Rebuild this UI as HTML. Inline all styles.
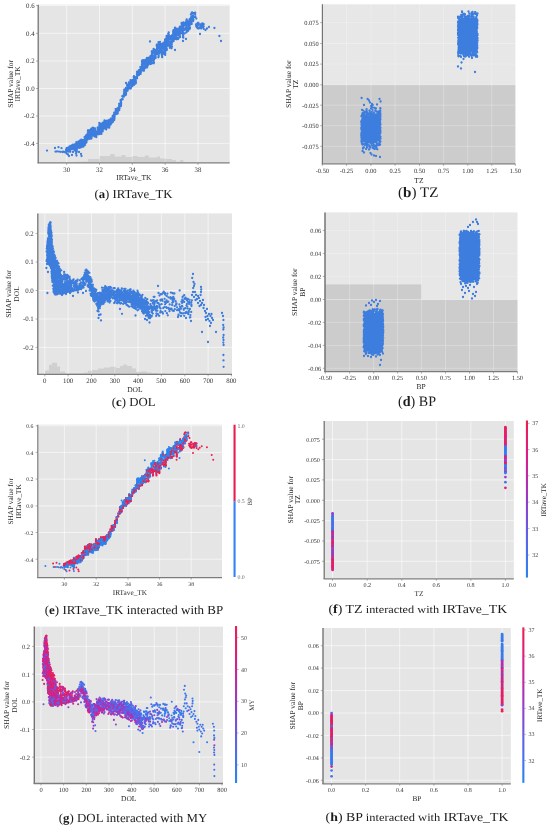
<!DOCTYPE html>
<html lang="en"><head><meta charset="utf-8"><title>SHAP dependence plots</title>
<style>html,body{margin:0;padding:0;background:#fff}body{width:550px;height:828px;overflow:hidden}svg{display:block}</style></head>
<body>
<svg width="550" height="828" viewBox="0 0 550 828" text-rendering="geometricPrecision" font-family="'Liberation Serif', 'DejaVu Serif', serif">
<defs><linearGradient id="cb" x1="0" y1="1" x2="0" y2="0"><stop offset="0" stop-color="#2686f0"/><stop offset="0.25" stop-color="#5a64eb"/><stop offset="0.5" stop-color="#963cc8"/><stop offset="0.75" stop-color="#d71e8c"/><stop offset="1" stop-color="#ee1e4e"/></linearGradient></defs>
<rect x="38.2" y="4.7" width="191.5" height="157.8" fill="#e5e5e5"/>
<path d="M66.7 4.7V162.5M99.5 4.7V162.5M132.3 4.7V162.5M165.1 4.7V162.5M198.0 4.7V162.5M38.2 5.6H229.7M38.2 33.3H229.7M38.2 61.0H229.7M38.2 88.5H229.7M38.2 116.0H229.7M38.2 143.4H229.7" stroke="#fff" stroke-opacity="0.72" stroke-width=".8" fill="none"/>
<path d="M70.0 162.5v-0.5H76.0V162.5zM76.0 162.5v-0.8H82.0V162.5zM82.0 162.5v-1.0H88.0V162.5zM88.0 162.5v-3.4H99.3V162.5zM99.3 162.5v-6.6H110.2V162.5zM110.2 162.5v-8.6H114.6V162.5zM114.6 162.5v-6.0H121.6V162.5zM121.6 162.5v-7.6H125.6V162.5zM125.6 162.5v-5.4H132.6V162.5zM132.6 162.5v-6.6H137.6V162.5zM137.6 162.5v-5.6H144.8V162.5zM144.8 162.5v-7.0H148.8V162.5zM148.8 162.5v-5.0H156.8V162.5zM156.8 162.5v-6.0H160.0V162.5zM160.0 162.5v-4.0H166.0V162.5zM166.0 162.5v-3.4H172.0V162.5zM172.0 162.5v-2.6H176.0V162.5zM176.0 162.5v-0.8H180.0V162.5zM180.0 162.5v-2.6H183.4V162.5zM183.4 162.5v-0.5H190.0V162.5z" fill="#000" fill-opacity=".09"/>
<path d="M135.9 81.2h0M120.9 101.4h0M78.4 141.6h0M96.4 134.8h0M94.9 136.2h0M86.4 141.9h0M193.1 15.3h0M101.2 124.5h0M150.5 56.1h0M145.3 67.8h0M111.1 120.7h0M68 154.5h0M88 132.9h0M148.9 60.3h0M104.1 126h0M111.2 119.3h0M185 24.5h0M183 31.3h0M145.7 66.8h0M109.5 124.6h0M107.8 122.6h0M84.5 144.6h0M162.2 57.2h0M91.2 131.1h0M89.9 137.8h0M151.9 54.4h0M117.7 113.3h0M117.5 113.6h0M189.5 27.9h0M161.8 50.2h0M84.9 142.9h0M132.5 85h0M94.5 131.2h0M66.6 151.7h0M174.9 37.5h0M109.4 120.7h0M109.6 122.4h0M87.9 134.2h0M158.9 53.5h0M98 128.3h0M115.8 111.4h0M178.3 35.1h0M117.6 112.9h0M110.9 119.9h0M201 28.2h0M158.7 45.4h0M104.5 124.5h0M164.9 48.7h0M101.1 129.8h0M152.2 56.4h0M102.5 129.9h0M68.3 148.7h0M99.7 127.7h0M183.4 29.7h0M193.1 16.8h0M106 122.7h0M109.2 126.5h0M89.6 134.9h0M106.2 127h0M142.3 60.3h0M134.2 82.6h0M183.1 23h0M135.6 77.2h0M86.2 142h0M96.3 137h0M148.7 57.8h0M81 154h0M160 49.4h0M160 51.9h0M184.6 29.6h0M79.6 143.6h0M126 94.3h0M117.4 113.6h0M137.3 75.8h0M143.8 64.3h0M158.5 53.3h0M140.5 73.2h0M135.6 83.3h0M176.8 34.2h0M189.9 28.1h0M143.8 60.7h0M192.8 13h0M173.3 38.8h0M107.9 126.4h0M98 128.5h0M94.9 129.7h0M133.9 82.9h0M153.7 48.9h0M128.8 86.8h0M55 148h0M145.3 67.5h0M76.4 142.1h0M153.5 50.9h0M166.6 36h0M99.6 132.8h0M73.1 145.3h0M153.9 58.4h0M160.5 49.2h0M168.7 34.6h0M110.8 120.9h0M168.6 33.8h0M173.3 37.8h0M183.3 37.7h0M158.5 42.2h0M130.9 83h0M97.7 131.5h0M132.1 85.6h0M96 136h0M83.1 141.5h0M101.3 133.3h0M165.1 39.6h0M109.1 121.7h0M101.2 124.9h0M171.4 43.2h0M152.2 57.7h0M139.2 72.8h0M132.3 86h0M91.6 136.4h0M193.3 19.7h0M188.4 27.4h0M130.5 80.2h0M165.3 49.3h0M126 93.5h0M112.7 121.1h0M101.3 131.8h0M152.3 52.4h0M99.5 132.6h0M96.1 131.3h0M203.5 24.2h0M158.4 54.4h0M133.7 84h0M76.4 144h0M124.1 94.6h0M193.3 20.8h0M73 144.7h0M121 103.8h0M174.9 31.7h0M117.3 113.3h0M176.8 35.1h0M91.2 131.3h0M162.1 56.5h0M183.1 27.5h0M143.8 64.3h0M76.6 145.6h0M71.6 148h0M102.7 122.9h0M144 62.4h0M145.6 59.7h0M170 46.5h0M190.3 18.7h0M183.1 29.2h0M112.5 120.6h0M61.5 148.2h0M163.4 42.9h0M191.4 19.4h0M114.1 118.2h0M106.2 129.4h0M79.7 145.1h0M178.1 30.7h0M131 80.3h0M114.1 118.5h0M166.8 38.6h0M132.5 85.6h0M171.7 40.7h0M175 36.9h0M151.9 55.2h0M110.8 123.5h0M139.1 73h0M94.3 132.8h0M130.5 82.6h0M139 74h0M127.5 90.7h0M137.1 72.9h0M110.8 120.7h0M152.2 52.7h0M168.2 34h0M111.2 122.2h0M91.5 133.8h0M81.3 140.6h0M138.7 74.7h0M112.6 118.9h0M121.1 102.9h0M183 41h0M173.3 30.7h0M117.8 108.3h0M173.6 30.1h0M79 152h0M78.2 145.8h0M193.2 16.9h0M163.2 52.5h0M173.4 36.3h0M76.4 144.4h0M76.6 147.3h0M84.8 142.7h0M112.7 116.1h0M115.8 110.7h0M76.8 149.3h0M135.8 83.2h0M96.5 133.7h0M125.8 88.4h0M150.1 62.8h0M178.2 38.4h0M134 83.9h0M88.2 131.2h0M174.8 36h0M189.7 19.2h0M127.4 84.7h0M132.1 81.4h0M160.5 49.9h0M144.1 69.6h0M183.1 36.5h0M76.8 150.5h0M184.7 23.1h0M165.2 53h0M130.6 87.7h0M69.9 148.2h0M174.7 32.5h0M92.8 129.1h0M142.1 69.1h0M170.2 36.7h0M117.7 113.6h0M108 127.4h0M71.3 147.1h0M112.6 119.9h0M166.5 44.3h0M109.1 127h0M97.8 131.1h0M68.1 149.6h0M107.5 127.2h0M99.6 127.3h0M103 123.6h0M109.7 120h0M105.9 127.4h0M193 21.2h0M89.4 130.1h0M129 82.9h0M171.9 38.9h0M181.5 32.3h0M94.7 135.8h0M174.7 29.5h0M127.7 89.5h0M180.1 31.8h0M152.1 58.4h0M89.8 137.7h0M128.9 83.9h0M183.1 37.3h0M116.1 111h0M134.1 77.5h0M134 80.6h0M117.4 108.7h0M142.5 69.6h0M164.9 53.8h0M91.6 136.2h0M188.2 30.8h0M128.8 87.6h0M188.3 26.1h0M156.7 51.6h0M117.6 111.5h0M140.8 72.3h0M166.5 43.3h0M132.2 84.3h0M121 106h0M172 46.7h0M119.2 109.7h0M153.6 51.6h0M112.8 118.4h0M127.6 85.5h0M192.8 18.8h0M186.7 19.5h0M107.9 127h0M200.4 25.1h0M119.2 110.2h0M171.8 40.3h0M67 150.2h0M103 124.1h0M69.8 146.4h0M161.6 50.1h0M162 48.8h0M127.3 88.2h0M78.4 147.3h0M114.2 112.6h0M143.8 66.9h0M155.3 58.1h0M150.5 60.3h0M103 123.5h0M191.4 19.3h0M112.6 116.4h0M123.9 95.4h0M142 65.5h0M143.7 62.7h0M185.1 28.7h0M83.1 141.8h0M79.7 145.8h0M114.5 116.4h0M94.8 133.5h0M132.1 84.3h0M81.6 141.9h0M191.7 19.3h0M127.2 85.7h0M191.3 20.7h0M156.9 50.4h0M112.7 116.5h0M92.9 128.7h0M104.2 125h0M147.2 59.2h0M106.3 127.8h0M165.3 44h0M111.3 122.7h0M91.5 137.8h0M184.7 29.8h0M114.1 120.2h0M200 24.4h0M166.6 46.8h0M94.8 128.4h0M189.7 25.2h0M186.3 29.2h0M105.9 123.5h0M203.7 24.2h0M187.9 29.3h0M86.5 140h0M84.9 144.6h0M185.1 28.5h0M142.2 63h0M87.8 133.3h0M68.6 147.8h0M171.8 42.4h0M147.3 66.9h0M186.7 25.5h0M147.2 65.2h0M183.3 22.6h0M178.3 29h0M155.3 50.9h0M155.1 51.1h0M81.7 140.4h0M133.9 85.1h0M81.3 140.9h0M152.1 54.9h0M120.7 99.8h0M200.9 27.6h0M126 92h0M81.2 145.4h0M181.6 23.5h0M105.9 125.7h0M76.6 151.2h0M155.4 57.9h0M75.1 149.4h0M112.9 121h0M158.7 55.9h0M94.5 130.5h0M120.6 103.6h0M155.4 56.5h0M158.7 47.4h0M176.4 38.4h0M122.3 96.2h0M221 41h0M91.4 136.1h0M156.9 50.1h0M168.3 43.9h0M104.3 128.3h0M168.7 45.5h0M79.7 141.7h0M102.7 131.4h0M161.9 51h0M150.5 63.9h0M91.4 131.9h0M76.6 143.3h0M98.1 129.8h0M191.4 23.6h0M162.2 44.6h0M196.9 26.2h0M112.7 118.3h0M107.6 123.6h0M179.8 34.3h0M129 88.4h0M86.2 140.8h0M91.4 138.6h0M163.5 47.7h0M47 150.6h0M76.4 148.3h0M194.7 16.9h0M76.8 146.4h0M78.2 147.7h0M160.4 47.7h0M126 88h0M81.7 143h0M133.7 81.5h0M195.2 14.1h0M109.5 125.9h0M117.6 111h0M132.3 81h0M173.5 36.3h0M134 80.8h0M167 42.7h0M114.2 119.9h0M101.2 124.6h0M152 62.8h0M173.1 34.1h0M125.6 89.6h0M170.1 37.6h0M111.1 123.6h0M107.6 125.7h0M119.5 108.5h0M156.9 44.6h0M139 72.3h0M99.8 123.3h0M104.2 127.2h0M91.1 129.4h0M198.1 28.6h0M124.1 93.8h0M102.9 125.4h0M109.3 127.6h0M194.5 13h0M180 26.6h0M202.5 24.3h0M130.5 80.7h0M150.4 58.2h0M114 116.8h0M165 44h0M163.4 44.2h0M142.1 61.9h0M78 142.6h0M139.1 72.3h0M89.4 132.9h0M171.6 38h0M97.6 129.4h0M110.8 122.1h0M142.1 65.6h0M94.8 128.9h0M81.4 143.5h0M140.5 73.5h0M66.7 148.3h0M135.5 80.5h0M148.9 59.8h0M115.8 113.8h0M86.2 141.4h0M92.8 129.1h0M191.6 22.1h0M161.6 46.2h0M197.7 25.1h0M161.7 52.9h0M127.3 84.8h0M120.9 106.1h0M183.1 28h0M190.9 14.6h0M161.8 51.3h0M189.8 23.6h0M142.5 66.3h0M133.8 77.1h0M174.9 31.8h0M160.2 45.4h0M116.2 112.7h0M183.2 23.4h0M173.3 40.3h0M174.9 32.1h0M89.5 133.5h0M138.9 73.8h0M132.5 82.7h0M125.6 94.1h0M127.6 87.7h0M137.1 71.6h0M173.2 41.3h0M168.4 35.8h0M99.5 124.3h0M88 131.8h0M101.4 125.7h0M68.4 149h0M120.9 104h0M76.5 143.3h0M139 75h0M180.2 32.6h0M83.4 146.6h0M168.7 36.8h0M178.1 39h0M158.8 52.8h0M62.5 152h0M100.9 128.5h0M89.5 138.7h0M202.6 23.5h0M109.6 122.2h0M66.4 151.2h0M114.1 120.1h0M132.2 85.8h0M97.7 132.3h0M119.2 104.2h0M151.9 51.3h0M99.3 134.2h0M173.5 34.4h0M91.6 135.6h0M128.8 87.4h0M168.7 35.5h0M93.1 134.2h0M66.5 150.4h0M87.9 132.6h0M96.1 135.8h0M89.6 133.6h0M122.8 96.4h0M127.7 84.9h0M104.2 125.9h0M135.9 82.9h0M143.9 63.9h0M81.3 139.7h0M191.5 21.6h0M138.6 74h0M112.6 117.6h0M160.2 52.6h0M114.2 114.3h0M70.2 151h0M181.5 29h0M155.2 50h0M182.9 30.3h0M76.5 144.2h0M188.3 23.4h0M143.9 70.8h0M86.3 139.4h0M73.2 146.6h0M129.3 83.2h0M160.5 43.9h0M94.7 130.9h0M125.6 92.3h0M175 27.7h0M76.3 151.2h0M99.2 133h0M219.4 36h0M178.6 31.6h0M190 28h0M188 31h0M128.8 87.1h0M163.5 46.8h0M106 128.6h0M115.7 109.1h0M179.7 27.1h0M143.6 70h0M107.4 122.3h0M111 118.8h0M99.8 128.6h0M145.5 61.5h0M134.3 80.5h0M150 41.5h0M106 122.9h0M209 27h0M94.5 130.3h0M92.8 135.4h0M155.3 51.5h0M93.2 128.5h0M191.7 20.1h0M161.9 47.5h0M110.8 120.3h0M119.4 104.1h0M124.2 91.8h0M99.3 131.6h0M102.7 130.4h0M199.9 28.2h0M145.7 60.8h0M104.7 121.6h0M74.8 146.6h0M115.8 109.6h0M183.4 30h0M110.9 119h0M107.6 122.8h0M172 38.7h0M112.6 119.6h0M78.4 143.9h0M76.8 150.4h0M149 63.6h0M87.9 139.1h0M163.6 53.8h0M186.4 21.2h0M84.9 138.8h0M122.6 96.6h0M145.3 67.1h0M123.9 96.7h0M119.2 106.8h0M147.2 61.1h0M178.3 34.3h0M158.3 51.6h0M166.6 36.3h0M135.5 79.1h0M134.1 76.9h0M137.1 76.7h0M161.7 54.6h0M94.4 131.3h0M107.8 126.5h0M150.5 64.1h0M193 15.8h0M158.9 52.8h0M124.2 96.1h0M160 44h0M189.8 28.8h0M106.1 122.8h0M88.3 137.9h0M181.5 30.4h0M186.4 32.4h0M180 28.1h0M130.4 87.7h0M176.6 35.4h0M109.1 127.5h0M155.5 56.2h0M68.4 147.5h0M174.8 35h0M173.2 40.1h0M183.5 23.4h0M98.1 133.9h0M144 63.6h0M162 52.4h0M178.1 38.3h0M135.5 80.6h0M96.2 134.5h0M138.8 72h0M119.3 110.1h0M86.4 141.4h0M93.2 133.6h0M169.9 41.3h0M70.2 147.7h0M88.1 138.9h0M183.3 24.5h0M94.9 133.4h0M175.2 36.5h0M158.8 43.8h0M148.8 63.3h0M73.5 147.9h0M119.3 108.3h0M129.1 85.3h0M148.9 59.2h0M176.4 30.9h0M92.8 134.2h0M195.1 12.7h0M132.1 85.1h0M139.1 74.4h0M142 68.2h0M173.2 31.4h0M70.1 146.4h0M87.9 130.5h0M143.6 63.1h0M153.9 62.6h0M171.5 46.3h0M104.5 124.2h0M163.7 48.9h0M142.3 65.8h0M84.8 145.2h0M192.9 16.7h0M202.5 26.2h0M91.3 136h0M203.7 26.6h0M83 143.3h0M124 94h0M103.1 127.8h0M191.3 17h0M89.6 132.5h0M130.6 81.9h0M135.6 80.6h0M109.2 120h0M103.1 128.6h0M88.3 136.9h0M78.3 147.2h0M129.4 83.8h0M186.3 27.4h0M99.4 131.6h0M121 100.3h0M133.9 82.6h0M153.7 50h0M81.5 146.1h0M99.3 122.9h0M112.6 121.1h0M158.4 57.3h0M134.2 84.4h0M123.8 94.3h0M170 42h0M191.5 17.2h0M107.8 125.1h0M186.8 24.9h0M179.9 36.2h0M153.4 56.1h0M140.6 70.3h0M192.2 16.8h0M135.4 79h0M163.3 45.7h0M176.8 35.2h0M170 47h0M130.5 88.4h0M141.9 64.6h0M117.6 109.5h0M74.7 149.2h0M171.8 44.3h0M91.4 128.8h0M183.2 36h0M150.5 64.1h0M171.5 48.3h0M130.7 82.6h0M161.8 44.8h0M109.4 122.9h0M70 149.4h0M79.8 147.8h0M153.5 58.3h0M193.2 15.2h0M175.2 29.5h0M102.7 127.1h0M76.8 145.6h0M60.5 151.8h0M176.8 32.9h0M171.5 36h0M163.4 45.3h0M133.7 77.1h0M96.1 131.9h0M166.7 49.3h0M148.6 61h0M92.9 132.9h0M101.2 133.5h0M196.4 24.5h0M125.9 91.2h0M117.7 113.3h0M186.6 27.9h0M75.1 148.7h0M104.2 128.6h0M178.2 33.7h0M97.7 129.8h0M178.2 37.6h0M168.3 39.7h0M214.4 28h0M76.5 147.9h0M74.7 147.5h0M124.3 91.7h0M107.4 120.8h0M102.6 128.1h0M148.8 57.8h0M143.9 61.2h0M106.4 125h0M143.7 69.8h0M156.9 50.7h0M93.2 128.5h0M84.9 144.4h0M161.9 52.5h0M158.6 56.2h0M88.3 135.7h0M135.6 78.8h0M186.8 29.9h0M79.6 145.6h0M132.2 81.4h0M165.3 51.4h0M142.4 65.6h0M156.7 49.9h0M91.2 138.5h0M181.7 25h0M160.3 47.7h0M152.2 52h0M130.8 82.7h0M91.2 128.9h0M122.7 99.3h0M106.3 124.7h0M181.8 25.9h0M98 127.6h0M148.6 64.3h0M163.7 53.6h0M172 40.4h0M122.7 96.6h0M120.7 102.5h0M94.8 128.5h0M102.8 127.8h0M165 50.3h0M73 146.5h0M196 24.4h0M147 58.1h0M89.5 135.8h0M117.6 108.2h0M129.3 86.8h0M193.2 19.4h0M83 140.1h0M83.1 145.1h0M114.3 118h0M171.9 40.5h0M119.1 103.9h0M122.3 99.3h0M156.9 54.1h0M180.1 37.1h0M153.4 60.4h0M105.9 128.6h0M176.4 29.2h0M132 86.3h0M180.2 28.4h0M128.9 86.3h0M69.9 148.4h0M142 65.7h0M124.3 89.7h0M174.9 31h0M107.6 126.4h0M143.8 70.7h0M169.9 45.5h0M130.8 84.8h0M130.9 83.1h0M126 92.8h0M147.1 64.6h0M183 37.3h0M135.5 80.6h0M186.6 28.6h0M155.3 53.9h0M187.9 31.1h0M181.4 31.8h0M68.1 148.2h0M79.5 144.6h0M101.2 126.4h0M58.5 147.2h0M129.3 82.6h0M160.4 44.1h0M76.7 143.5h0M114.2 115.4h0M86.7 136.5h0M147 57.9h0M170.4 36.7h0M191.5 16.8h0M82.9 144h0M143.8 68.9h0M173.6 36.4h0M74.9 150.5h0M76.7 151.9h0M142.1 61.5h0M151.8 54.8h0M93.1 131.5h0M86.7 138.4h0M68.5 150.6h0M122.2 99.3h0M174.8 39.2h0M143.7 62h0M99.7 132.9h0M201.5 27h0M80 141.2h0M126 90.3h0M71.6 147h0M129.3 83.8h0M109.2 125.9h0M176.7 34.3h0M176.7 38.4h0M145.6 62.5h0M104.7 126.8h0M106.2 120.8h0M155.4 51.1h0M92.9 130.4h0M153.9 53.2h0M129.3 87.9h0M153.9 59.9h0M191.5 24h0M173.4 36.5h0M71.4 148.1h0M141.9 61.3h0M73.1 149.1h0M163.3 44.7h0M132.4 80.2h0M81.5 141h0M89.5 131.7h0M153.7 62.8h0M202.1 25.1h0M92.8 130.3h0M89.5 134.1h0M155.3 54.7h0M140.6 70.5h0M179.7 31.1h0M91.3 134.6h0M92.9 129.1h0M94.9 128.4h0M147.3 61.1h0M144 63.9h0M146.9 63.5h0M102.6 129.2h0M156.7 45.8h0M143.7 61.9h0M183.3 30.7h0M181.3 32.1h0M146.9 65.3h0M68.1 150.5h0M68.4 151.5h0M143.7 60.4h0M142.1 70.5h0M120.9 106.2h0M89.9 134.4h0M81.4 142.3h0M86.3 136.5h0M134 76.2h0M133.8 76.9h0M135.5 81.5h0M121 101.1h0M76.7 149.6h0M81.6 144.5h0M132.3 82h0M180.1 27.7h0M129.2 83h0M74.9 149.2h0M167 41.3h0M89.9 136.7h0M196.3 18.5h0M124.3 90.2h0M99.8 124.1h0M107.5 126.8h0M112.8 122h0M160.1 45.3h0M160.4 51.9h0M203.1 27.3h0M111.3 123.2h0M140.7 69.6h0M134.2 84.6h0M117.6 113.4h0M171.9 46.4h0M138.8 71.3h0M173.2 37.4h0M73.5 147.5h0M143.6 62.9h0M151.7 63.5h0M184.8 25.1h0M173.4 37.4h0M145.2 63.9h0M169.9 44.9h0M174.9 33.5h0M135.4 77.9h0M85 142.7h0M125.5 95.2h0M197.8 22.9h0M152.2 51.6h0M87.8 138.1h0M114.2 117.4h0M84.6 137.2h0M147 61.7h0M109.2 127.3h0M202.3 24.8h0M91 137h0M140.6 67.4h0M114.2 113.8h0M78.4 144.4h0M96.1 134.1h0M98.1 131.1h0M147 64.7h0M127.2 84.9h0M76 153.5h0M119.4 106.4h0M189.5 24h0M121.1 103.9h0M179.9 36.9h0M130.8 81.4h0M176.6 34.3h0M93.1 129.8h0M101.1 125.9h0M190 23.1h0M176.6 28.7h0M94.5 134.2h0M164.9 52h0M142.2 62.2h0M111.2 121.7h0M161.7 47.6h0M103.1 124.5h0M110.9 119.9h0M160.1 50.7h0M74.8 148.7h0M116.1 114.1h0M99.3 132.3h0M114.3 117.4h0M99.7 128.4h0M135.6 81.2h0M153.8 51.3h0M169.9 44.2h0M69.8 148.4h0M78.1 144.4h0M89.5 138.1h0M186.4 20.5h0M86.5 141h0M116.1 110.6h0M189.5 21.4h0M166.5 37.9h0M96.2 131.9h0M125.8 90.7h0M104.4 122.4h0M117.6 108.7h0M163.6 45.1h0M153.9 59.3h0M121 103.6h0M176.4 35.5h0M96.2 135.3h0M158.6 56.6h0M148.5 64.3h0M165.1 47.5h0M167 37.2h0M97.8 131.3h0M188.3 29.3h0M107.9 122h0M181.3 26.9h0M76.5 146.1h0M99.3 130.1h0M143.6 69.3h0M127.2 90.7h0M184.7 33.3h0M140.8 70.2h0M103.1 128.2h0M83.1 141.9h0M188.3 21.3h0M116.1 112.6h0M81.5 156h0M188.4 30.3h0M166.9 49.6h0M119.4 105.3h0M94.3 128.7h0M102.5 122.9h0M156.8 44.8h0M66.6 148.6h0M137 73.9h0M129 84h0M197.8 24.9h0M117.3 111.8h0M84.9 139.2h0M102.7 128.3h0M119.2 107.4h0M114.2 117.9h0M173.5 33.7h0M124.2 91.9h0M120.9 102.2h0M75.1 149h0M130.8 82h0M175.1 37.2h0M89.4 138.3h0M106.2 125.9h0M144 63.4h0M96.3 135.4h0M165.1 49.8h0M158.3 45.8h0M116 112.7h0M88.3 135.3h0M140.5 70.8h0M119 110.4h0M134.3 78h0M94.5 136.4h0M173.5 34.6h0M145.6 62.6h0M79.8 141.1h0M155.1 55h0M150.3 60.9h0M167.1 43.3h0M143.7 64.3h0M104.4 122.6h0M135.3 81.3h0M86.4 142.5h0M112.8 121.6h0M126 89.2h0M166.8 45.6h0M132.4 81.6h0M162 55.6h0M203.7 28.8h0M110.8 120.9h0M79.8 141.1h0M110.8 119.7h0M70.1 146.9h0M188.2 28.2h0M133.9 77.2h0M76.6 144.6h0M165.2 48.5h0M130.5 82.5h0M107.5 120.7h0M91.2 133.6h0M101.4 125.4h0M105.8 123.8h0M165.2 54.9h0M137 75.1h0M81.4 142h0M147 59.7h0M132.6 83.5h0M153.5 60.5h0M92.9 127.7h0M78.2 146.5h0M115.9 111.5h0M89.5 135h0M89.7 133.3h0M91.3 134.9h0M132.2 84h0M165.2 47.8h0M87.7 137.3h0M183.4 25.6h0M106.3 127h0M89.6 130.4h0M127.1 90.9h0M153.5 53.3h0M137.2 75.1h0M106.4 127.4h0M91.2 129h0M66.6 148.2h0M183.1 35.6h0M93.2 133.4h0M150.7 62.2h0M71.9 148.4h0M131 87.9h0M193.3 19.2h0M94.8 134.4h0M130.5 87.5h0M153.6 51.6h0M153.8 52.6h0M165.2 53.8h0M107.5 121.2h0M137 73.7h0M114.2 118.4h0M99.8 127.9h0M153.9 53.6h0M98.1 127.7h0M101.1 128.4h0M155.6 58h0M186.3 22.3h0M145.5 62.4h0M126 93.8h0M200.2 26.9h0M80.1 142.2h0M102.7 129.7h0M156.7 54.1h0M122.7 99.2h0M70 149.6h0M92.7 129.6h0M71.8 148.9h0M183.5 22.4h0M80.1 143.5h0M97.8 129.1h0M114.1 118.7h0M112.9 116.7h0M98.1 130.4h0M89.6 138.6h0M133.9 84.7h0M161.8 44h0M75.1 150.6h0M100.9 130.2h0M135.7 77.9h0M81.4 139.8h0M171.6 43.7h0M199.8 28h0M101.3 125.7h0M96.2 135.1h0M124.4 95.3h0M76.7 142.9h0M115.8 114.3h0M127.5 86.2h0M91.4 136.9h0M124.1 90.1h0M89.5 132.3h0M143.9 70.8h0M102.8 125.8h0M169.8 47.8h0M73.1 144.9h0M186.8 19.9h0M71.9 148.8h0M146.9 66.8h0M68.3 150.9h0M191.5 13.2h0M173.6 32.6h0M73 152h0M142.3 68.9h0M140.6 73.9h0M87.9 138.2h0M158.6 54.4h0M158.8 48.2h0M109.4 120.9h0M99.5 124.5h0M187.9 31.1h0M114.5 118.8h0M137.5 75.5h0M196.8 27.4h0M89.6 131.3h0M165.2 44.1h0M138.8 71.6h0M192.1 12.5h0M140.7 70.5h0M81.3 143.3h0M176.9 33.3h0M201.5 27.1h0M114.3 116.7h0M165.3 48.5h0M94.8 130.4h0M147.2 60h0M104.1 123.4h0M78.3 144.7h0M148.6 62.7h0M134.1 77.8h0M78.3 144.4h0M63.5 151.6h0M125.5 91.9h0M155.3 54.9h0M101.1 130.6h0M142 66.9h0M101.2 127.8h0M145.7 63.8h0M207 28.5h0M163.4 46.1h0M153.6 57h0M188 24.3h0M171.4 44.3h0M138.9 71.6h0M135.4 83.5h0M122.2 98.9h0M107.5 124.8h0M166.6 38.5h0M66 150h0M168.6 36.6h0M78.2 144.6h0M186.5 26h0M132.4 83.2h0M171.6 40.8h0M94.3 134.5h0M142.4 62h0M142.5 66.9h0M86.5 136.7h0M129.3 88h0M83.1 140.2h0M143.6 60.1h0M153.6 61.2h0M137.5 74.3h0M86.1 135.3h0M86.4 136h0M142.2 67.3h0M168.5 34.7h0M140.8 68.2h0M186.7 23.9h0M109.5 125.3h0M103 126.5h0M161.6 51.5h0M125.9 94.7h0M84.5 141.8h0M76.4 144.6h0M178.5 38.3h0M168.7 35.6h0M185.1 22.9h0M104.5 122.1h0M124.1 94.5h0M190 22.5h0M101.1 125.1h0M55.5 151.6h0M101.3 132.1h0M73.6 147.2h0M125.6 92.1h0M111 122.9h0M59 151.6h0M168.3 36.3h0M86.3 139h0M146.9 67.5h0M168.5 36.8h0M124.1 94.3h0M124.4 95.6h0M191.7 23.9h0M124.3 95.6h0M189.9 27.8h0M168.3 43.7h0M152 60.6h0M124 94.9h0M201.8 23.6h0M89.8 138.8h0M107.5 122h0M70.3 151h0M176.5 29h0M77.9 145.6h0M78.5 142.5h0M101.4 133.9h0M158.8 44.7h0M155.2 51.6h0M81.2 146.1h0M106.3 127.1h0M125.9 90.4h0M78 144.8h0M83.3 142.7h0M142 69.7h0M91.1 130.3h0M76.3 143.3h0M94.4 128.7h0M181.3 33.2h0M114 115.6h0M158.4 50.7h0M93.2 131.4h0M168.3 45.5h0M80 142.5h0M97.7 128.4h0M68.5 148.6h0M109.4 124.2h0M117.7 112h0M121 105.1h0M184.8 28.9h0M193.1 17.7h0M186 39h0M127.6 87.3h0M173.6 31.1h0M188.3 29.8h0M116.1 109.4h0M171.8 40.1h0M139 70.1h0M82.8 142.2h0M135.7 82.4h0M94.5 130.5h0M160 42h0M128.8 84h0M112.5 118.5h0M106 127.8h0M84.8 144.6h0M94.8 134.7h0M135.7 83.4h0M108 124.1h0M145.2 65.9h0M175.1 38.6h0M86.2 142.7h0M153.9 62.9h0M91.2 138.6h0M80.1 144.7h0M124 96.6h0M80.1 146.5h0M70.1 150h0M150.2 61.2h0M80 141.8h0M78 143.9h0M81.5 146.8h0M112.6 120.3h0M127.4 90.6h0M79.7 142h0M161.9 49.1h0M79.8 140.7h0M184.6 25.6h0M57 151.4h0M163.6 52.4h0M106.3 126.4h0M191.5 20h0M83.4 142.2h0M189.5 19.5h0M105.8 123.1h0M64.5 152.2h0M104.2 125.2h0M127.5 90.1h0M109.2 127.7h0M92.7 135.4h0M163.4 51.4h0M133.9 79.9h0M163.6 46.1h0M94.6 132.3h0M184.8 25.1h0M76.5 155.5h0M106.2 126.7h0M70.2 148.9h0M111.1 122.8h0M101.3 131.8h0M99.5 129.1h0M183.2 34.8h0M176.6 33.9h0M165 51.3h0M191.1 17.7h0M174.8 31.6h0M104.5 123.4h0M151.9 57.3h0M176.4 36.8h0M76.8 146.3h0M150.3 56.6h0M99.3 125.4h0M189.6 21.4h0M137.1 78.3h0M88.3 132.8h0M180.1 32.9h0M77.9 142.3h0M124.2 92.7h0M118.9 108.9h0M164.9 41.2h0M132.1 82.7h0M114.6 116.5h0M74.8 145.6h0M84.9 143.8h0M92.9 134.8h0M150.6 62.7h0M81.2 140.9h0M119.4 106.2h0M176.6 39.3h0M66.5 149.6h0M117.4 112.3h0M120.8 100.3h0M151.9 53.1h0M102.8 128.3h0M119.1 109.7h0M70.2 151.8h0M196.1 26.1h0M130.6 88.5h0M189.7 24.1h0M106 121.2h0M176.9 37.6h0M115.7 110.4h0M165.1 39.4h0M140.3 67.1h0M170.1 39h0M170.2 46.5h0M181.4 29.2h0M135.4 79.9h0M93.3 135.1h0M83 140.4h0M125.8 89.1h0M115.6 109.1h0M73.1 146.1h0M121 102.8h0M112.8 120.1h0M105.8 122.9h0M189.5 26.3h0M106.1 123.2h0M135.9 78.7h0M110.8 124.4h0M163.6 44.9h0M94.4 134.5h0M175 50h0M133.8 83.5h0M89.4 132h0M173.6 41.1h0M171.9 47.1h0M73.3 145.2h0M78.2 146.3h0M71.7 146.4h0M81.2 141.2h0M99.4 127.7h0M168.4 41.1h0M157 46.7h0M163.3 43.4h0M130.6 83.6h0M137.1 74.8h0M127.5 86.7h0M146.8 64.9h0M189.8 21.6h0M184.9 28.7h0M72 155h0M86.7 135h0M76.7 145.4h0M79.9 141.2h0M81.5 141.5h0M68.4 149.3h0M97.7 132.9h0M117.5 110.5h0M157 44.6h0M162 53.9h0M143.6 70.1h0M91.1 131.4h0M110.8 119.1h0M114.1 117.8h0M112.8 120h0M107.9 125h0M124.1 95.3h0M83.1 141.2h0M84.9 143.3h0M104.5 120.5h0M81.2 140.6h0M183 34.8h0M173.4 35.7h0M120.7 102.6h0M146.9 60.3h0M151.8 51.4h0M190 27.6h0M163.8 46.5h0M86.3 140.2h0M134 80.9h0M171.8 39.5h0M99.8 125.2h0M168.6 45.4h0M88 133.8h0M69 156h0M137.3 74.7h0M145.2 63.2h0M96.1 133h0M71.7 145.4h0M99.3 134h0M188.3 21.6h0M188.1 29.2h0M171.5 44.3h0M129.2 86.6h0M137.5 72.8h0M110.8 118.7h0M163.5 52.5h0M152 55.3h0M171.5 38.8h0M76.6 147.3h0M176.9 38.3h0M81.4 142.2h0M150.1 59.3h0M160 52h0M197.8 28h0M164.9 41.7h0M155.4 53.4h0M144.1 63.2h0M81.6 147.2h0M168.6 41.4h0M153.5 49.4h0M202.2 24.8h0M79.7 140.9h0M66.9 148.5h0M184.8 24.7h0M145.3 63.3h0M84.8 137.5h0M188 24.8h0M126 83h0M163.8 45.8h0M92.9 128.8h0M148.6 58.4h0M91.6 131.3h0M96.5 134.2h0M83.2 144.9h0M191.6 18.3h0M84.8 143.2h0M140.6 73h0M70.2 146.6h0M138.9 73.7h0M91.3 135.9h0M76.5 148.6h0M107.5 120.7h0M130.9 80.7h0M157 52.3h0M167 39.5h0M153.7 58.2h0M198.2 25.3h0M172 35.4h0M100.9 128.3h0M104.3 125.5h0M128.9 82.5h0M76.3 151.8h0M138.9 74.1h0M74.8 144.4h0M66.7 148.2h0M186.7 31.5h0M83 140.7h0M104.3 121.6h0M74.6 146h0M168.7 34.7h0M183.3 29.4h0M167.1 39.3h0M101 133.8h0M155.6 57h0M127.5 87.1h0M66.5 149.2h0M102.6 124h0M102.8 127.2h0M176.7 37.4h0M198.4 22.9h0M125.8 91.3h0M161.9 48.4h0M143.7 70.1h0M87.7 134.8h0M91.4 128.7h0M162 48h0M140.8 72.7h0M174.9 35.9h0M138.8 74.1h0M168.7 37.8h0M180.1 26.9h0M104.2 123.5h0M179.8 35.3h0M171.7 43h0M168.7 32.4h0M128.8 85.5h0M94.5 135h0M138.9 70.3h0M76.8 147.1h0M180 33.9h0M181.4 33.1h0M157.1 49.1h0M79.8 144.3h0M134.1 79.1h0M178.1 32h0M174.8 35.5h0M167.1 41.3h0M158.5 53.7h0M157 48.5h0M137.2 75.4h0M133.8 79.1h0M97.8 134.2h0M88 139.3h0M160.2 45.2h0M84.5 144.6h0M84.7 136.9h0M125.6 89.1h0M203.2 25.4h0M99.8 123.8h0M104.7 127.2h0M68.2 150.1h0M202.9 26h0M166.9 41h0M142.2 64h0M139 73h0M153.6 63.3h0M165 46.2h0M119.2 107.6h0M116.1 109.8h0M80.1 146.3h0M150.6 56.9h0M157.2 50.3h0M99.6 130.6h0M76.5 143.8h0M138.9 74.1h0M81.4 146.1h0M68.2 150h0M73.2 144.9h0M125.9 93.6h0M200 34h0M158.8 43.9h0M181.5 30.9h0M99.6 132h0M86.5 140.2h0M201.8 24.7h0M89.4 134.4h0M89.5 131.6h0M191.2 20.7h0M92.7 127.8h0M125.8 88.8h0M181.9 27h0M183 24.1h0M189.9 23.4h0M133.8 81.3h0M147.4 65.9h0M109.5 121.6h0M178 34.6h0M97.9 131.7h0M71.5 147.4h0M170 37.5h0M205.5 30h0M201.2 28.4h0M99.5 133.8h0M127.6 90.7h0M145.3 62.3h0M106.3 127.4h0M155.5 57.4h0M148.5 64.5h0M86.1 136h0M89.8 132.4h0M140.5 71h0M115.8 111.2h0M119.3 106.2h0M81.6 143.9h0M142.4 63.5h0M140.8 69.1h0M195.3 16.5h0M123.9 95.9h0M91.3 131.4h0M84.5 139.4h0M119.1 105.9h0M84.5 140.2h0M189.7 20.7h0M66.5 153.5h0M180 29.8h0M73 149.2h0M132.3 85h0M197.7 27.5h0M175.1 31.6h0M94.4 132.2h0M201.9 25.8h0M76.7 151.8h0M84.8 141.9h0M112.9 115.6h0M121.1 102.7h0M114.5 117.3h0M166.8 49.9h0M155.1 51.4h0M92.7 132.9h0M164.9 51.2h0M120.6 102.3h0M153.7 56.3h0M107.6 121.5h0M150.3 57.7h0M165.1 50.8h0M185 29.5h0M179.9 33.7h0M166.5 45.5h0M70 151.1h0M132.2 80.7h0M99.4 129.1h0M120.6 100.4h0M78.2 147.7h0M70.1 146.2h0M179.8 28.5h0M163.8 49.3h0M181.7 22.9h0M183 32.4h0M71.5 147.8h0M191.7 16.6h0M185 25.4h0M112.6 120h0M176.8 37.8h0M186.6 21.4h0M155 56.8h0M99.3 122.8h0M107.8 125.8h0M189.7 28.2h0M97.8 128.5h0M183 23.4h0M176.4 36.6h0M193 19.8h0M97.6 127.7h0M189.6 28.7h0M134.2 80.8h0M70 147.1h0M147 62.8h0M183.1 34h0M80.1 145.2h0M97.7 128.5h0M188.3 22.9h0M109.3 123.4h0M92.9 135.3h0M129.3 88.1h0M86.4 138.6h0M97.6 129.2h0M163.3 48.1h0M119.1 107.4h0M98.2 131.4h0M137.3 74.5h0M163.5 44.9h0M178.2 29h0M173.2 32.8h0M137.1 76.3h0M133.7 76.9h0M90 133.9h0M156.8 50.6h0M140.3 69.4h0M166.7 48.7h0M80.1 141.3h0M106.1 127.4h0M169.9 41.9h0M117.6 112.6h0M150.7 60h0M124.1 96h0M201.3 25.2h0M76.3 146.5h0M171.7 40.7h0M100.9 127.6h0M130.5 84.3h0M160.4 49.6h0M145.3 64.9h0" stroke="#3c7ddd" stroke-width="2.3" stroke-linecap="round" fill="none"/>
<path d="M38.2 4.7V163.2" stroke="#747474" stroke-width="1.3" fill="none"/>
<path d="M37.6 162.9H229.7" stroke="#7c7c7c" stroke-width="1.3" fill="none"/>
<path d="M66.7 163.0v1.9M99.5 163.0v1.9M132.3 163.0v1.9M165.1 163.0v1.9M198.0 163.0v1.9M38.2 5.6h-2.2M38.2 33.3h-2.2M38.2 61.0h-2.2M38.2 88.5h-2.2M38.2 116.0h-2.2M38.2 143.4h-2.2" stroke="#747474" stroke-width=".55" fill="none"/>
<g font-size="6.85" fill="#333333">
<g text-anchor="middle">
<text x="66.7" y="171.5">30</text>
<text x="99.5" y="171.5">32</text>
<text x="132.3" y="171.5">34</text>
<text x="165.1" y="171.5">36</text>
<text x="198.0" y="171.5">38</text>
</g><g text-anchor="end">
<text x="34.6" y="7.9">0.6</text>
<text x="34.6" y="35.6">0.4</text>
<text x="34.6" y="63.3">0.2</text>
<text x="34.6" y="90.8">0.0</text>
<text x="34.6" y="118.3">-0.2</text>
<text x="34.6" y="145.7">-0.4</text>
</g></g>
<g font-size="7.5" fill="#2a2a2a" text-anchor="middle">
<text x="133.9" y="180.2" font-size="7.5">IRTave_TK</text>
<text transform="translate(12.9 83.9) rotate(-90)">SHAP value for</text>
<text transform="translate(20.4 83.9) rotate(-90)">IRTave_TK</text>
</g>
<rect x="322.4" y="4.3" width="193.0" height="80.5" fill="#e7e7e7"/>
<rect x="322.4" y="84.8" width="193.0" height="78.7" fill="#cccccc"/>
<path d="M346.5 4.3V163.5M370.9 4.3V163.5M395.1 4.3V163.5M419.5 4.3V163.5M443.6 4.3V163.5M467.8 4.3V163.5M491.8 4.3V163.5M322.4 22.6H515.4M322.4 43.5H515.4M322.4 64.1H515.4M322.4 84.8H515.4M322.4 105.2H515.4M322.4 125.7H515.4M322.4 146.3H515.4" stroke="#fff" stroke-opacity="0.32" stroke-width=".8" fill="none"/>
<rect x="361.9" y="117.5" width="18.0" height="23.5" fill="#3c7ddd"/>
<path d="M377.6 118.2h0M370.9 119.9h0M363.3 118h0M364.8 135.7h0M373.2 140.8h0M364.8 137.4h0M365.2 132.2h0M367.7 125.1h0M380.4 130.8h0M375.5 116.7h0M375.6 131.6h0M371.4 114.8h0M371.1 142.4h0M373.1 124.6h0M374.1 120.4h0M377.3 129.1h0M368.8 126.8h0M369.3 126.1h0M366.8 135.9h0M362.6 127.8h0M369.3 136.5h0M372 130.1h0M377.4 149.3h0M364.6 134h0M363.3 115.1h0M365.7 132.9h0M375.5 129.9h0M376.7 139.4h0M363.2 127.3h0M368.3 130.1h0M376.5 134.6h0M370.5 132.5h0M377.4 125.7h0M380.3 137.2h0M377 127.2h0M378.2 124.9h0M374.3 123.6h0M376.9 130.2h0M365.8 144.8h0M364.5 126.5h0M374.3 145.1h0M362.4 122.6h0M379.7 136.8h0M375.4 136.5h0M370.3 117.9h0M377.5 123.3h0M369.7 110.5h0M370.4 132.2h0M369.9 141.4h0M361.5 127.6h0M369.2 123h0M362.2 131.5h0M376.9 121.3h0M367.5 133.1h0M372.9 127.8h0M376.5 116.8h0M366.7 132h0M362 125.3h0M366.9 126h0M378.7 127h0M366.5 121.2h0M376.4 133.7h0M377.8 118.4h0M364.4 127.8h0M376.4 147.1h0M375.5 130.8h0M363.1 132.1h0M365 118.4h0M372.8 127.3h0M369.1 123.8h0M368.1 141.9h0M363.7 121.8h0M362 116.5h0M370.5 125h0M375.6 133.3h0M379 134.6h0M371.2 135h0M379.4 133.4h0M364.3 140.8h0M375.8 118.8h0M369.2 127.4h0M371.1 126.3h0M369.1 130.5h0M361.4 133.3h0M366.5 123.1h0M371.3 137.6h0M368.7 136.2h0M374.4 122.3h0M377.2 131.8h0M378.7 125.5h0M378.5 133.4h0M367.7 125.6h0M376.5 124.2h0M373.5 134.3h0M372.4 133h0M377.2 134.5h0M367.2 118.4h0M377.7 120.3h0M366.7 119.6h0M372.3 120.6h0M379.4 124.8h0M369.8 136.6h0M365.7 131.8h0M374.9 136.9h0M370.2 131.8h0M369.3 141.9h0M372.7 107.4h0M365.3 116.6h0M373.5 126.4h0M378.8 132.9h0M363.5 135h0M371.4 131.1h0M377.2 131.1h0M369 124.2h0M379.3 116.9h0M379.4 125.8h0M379.7 140h0M376.4 127.1h0M367.3 118h0M364.3 123.1h0M361.3 122h0M379.2 130.3h0M370.9 134.1h0M363.1 128h0M371.9 137.4h0M365.5 128.3h0M369.3 129.1h0M377.2 133.9h0M369.7 125.4h0M371.1 123.5h0M367.5 135.7h0M378.3 117.1h0M369.3 119.1h0M371.3 124.2h0M378.2 126h0M361.4 129.8h0M366.1 131.7h0M368.8 120.6h0M380.2 136.3h0M365.8 112h0M366 121.3h0M374.9 127.7h0M367.4 128.3h0M377.5 126.2h0M365.2 118.2h0M369.2 119.3h0M372.1 127.7h0M369.4 128.1h0M374.8 131.1h0M380.3 114.2h0M373.1 136.5h0M378.8 129.5h0M376.9 122.1h0M370.7 142.4h0M374.1 123.8h0M377.5 114.7h0M362.3 144h0M372.6 134.4h0M377.5 121.7h0M366.8 136.8h0M371.6 113.8h0M372 128.2h0M362.9 110.3h0M369.6 113h0M376.2 129.5h0M368.1 126.2h0M374.5 135h0M375.4 141.9h0M380.3 128.3h0M377.6 113.9h0M373.7 131.9h0M367.7 130h0M366 118.7h0M369.3 145.3h0M372.8 141.4h0M365.2 126h0M379.7 131.5h0M368.4 120h0M378.8 121.5h0M375.6 134.4h0M364.3 126.6h0M367.7 127h0M368.1 127.1h0M369.5 120.5h0M367.1 144.5h0M379.8 130h0M372.7 138.4h0M375 122.2h0M372.8 139.1h0M372.5 115.8h0M377.2 123.5h0M364.6 120.8h0M367 127.6h0M371.8 122.7h0M373 133.7h0M374.6 123.2h0M380.5 136.8h0M374.6 129.6h0M376.3 131.5h0M362.7 128.2h0M368.3 120.5h0M374 131.4h0M368 123h0M372.9 129.7h0M366.8 127.6h0M369.4 126.9h0M380.2 117.7h0M373.5 116.2h0M367.3 131.8h0M380.2 110.3h0M369.6 117.5h0M363.4 118.9h0M366.5 119.4h0M369.6 112.4h0M376.9 120.6h0M379.1 113.6h0M367.6 121.2h0M376.5 126.5h0M371.2 130.2h0M370 131.3h0M377.4 125.7h0M378.1 131.7h0M376.3 139h0M368.5 131h0M369.6 137.6h0M372 145.4h0M377.9 137.4h0M368.1 126.9h0M364.3 125.7h0M376.2 124h0M361.7 142.8h0M361.6 128.6h0M378.7 126.2h0M376.8 138.6h0M362.3 135.1h0M377.5 132.1h0M376.4 121.2h0M369.5 116.6h0M363 130.3h0M362.6 118.4h0M370.5 121.8h0M373 128.7h0M366.5 137.3h0M375 127.3h0M376.5 130.2h0M368.8 138.3h0M368.3 128.1h0M362.8 120h0M370 120.6h0M373 135.3h0M380.1 124.9h0M367.7 144.5h0M371.1 143h0M369.9 125.9h0M373.9 135.3h0M375.2 125h0M370.1 126.9h0M379.2 136h0M374.9 132.6h0M363.6 134.9h0M362.3 124.7h0M362.1 133.4h0M374.5 146.4h0M379.7 129.2h0M375.9 128.7h0M364 133.5h0M377 123.7h0M374.8 129.1h0M373.2 121.7h0M364.4 134.9h0M370.6 123.6h0M376.6 122.8h0M369.5 133.4h0M367.5 133.6h0M377.1 119h0M373.5 114.2h0M366.8 115.9h0M374.8 125.6h0M376 137.5h0M375.5 146.6h0M370 116.9h0M374 130.8h0M369.2 137.7h0M378.2 133.6h0M379.5 143.7h0M379.7 137.4h0M364.3 127.2h0M376.5 135.8h0M374.8 127h0M366.1 122.4h0M378.2 129.2h0M369.3 125.4h0M363.7 136.6h0M376.1 121.6h0M364.1 128.1h0M364 126.5h0M372.6 119.2h0M378.9 134.6h0M374.6 117.6h0M379.7 130.1h0M368.6 138h0M363.3 123.3h0M370.2 131.5h0M372.9 133.5h0M378.1 137h0M378.3 135h0M370.4 139.1h0M370.9 115.8h0M369.4 149.3h0M361.6 138.9h0M374 138.2h0M365.5 117.7h0M365.3 139.1h0M371.6 133.3h0M377.1 126.2h0M378.1 120.4h0M370.6 130.9h0M375.6 128.3h0M363.9 120.7h0M370.9 140.4h0M362.8 137.2h0M371.9 128.4h0M378.4 133.5h0M379.9 137.8h0M369.4 124.3h0M373.8 115.6h0M367.8 119.7h0M370.3 126.6h0M373 142.8h0M367.8 129.5h0M370.4 126.7h0M371.8 114.2h0M377 130.6h0M366.7 130h0M376.1 127.5h0M378 119.6h0M369.9 133.1h0M363.1 130.5h0M363 137.6h0M379.1 129h0M373.1 129.5h0M375.2 126.7h0M365.5 130.3h0M375.9 129.5h0M375.1 132.2h0M370.2 131.9h0M363.6 124.4h0M368.7 127.6h0M377.2 119.5h0M375.3 127.5h0M367.8 126.3h0M372.6 115.8h0M368.7 131.8h0M373.1 147.4h0M363.9 127.1h0M362.1 114.5h0M367.3 126.1h0M366.5 139h0M365 128.5h0M370.3 123.9h0M372.9 141.3h0M378.6 138.9h0M370.7 126.2h0M377.4 138.9h0M379.7 118h0M369.8 135.3h0M366.4 140.6h0M373.7 135h0M364 147.4h0M363 127.8h0M366.6 135.8h0M371.2 125h0M365.6 127.5h0M376.2 140.1h0M379.5 141.7h0M366 118.5h0M362.7 123.3h0M371.2 136.2h0M364.4 138.4h0M365.8 142.8h0M371.1 133h0M367.2 141.8h0M378.3 118h0M363.6 123.7h0M364.5 122h0M379.4 126.6h0M376.8 129.8h0M364.8 122.2h0M379.4 131.6h0M378.4 134.6h0M378.4 127.6h0M373.7 121.4h0M369.1 140.2h0M378 144.4h0M366.1 149h0M378.1 129.6h0M368.9 126.9h0M370.1 127.8h0M363 140.4h0M369 121.9h0M369.9 142.6h0M366.3 127.8h0M369 132.9h0M370.3 126.3h0M375.5 114.7h0M372.5 118.6h0M367.2 133.2h0M363.3 114.6h0M365.3 140.7h0M371.8 121.4h0M363.7 121.6h0M375.4 132h0M368.8 128.2h0M367.6 131.9h0M362.1 132.6h0M379.7 124.2h0M377.2 121.4h0M370.5 129.1h0M373.1 120.8h0M361.3 135.3h0M372.8 138h0M376.8 126.4h0M374.5 127.4h0M367.9 127.1h0M363.1 113.3h0M364 126.6h0M372.3 134.3h0M379.4 114.6h0M380.2 122.9h0M380.4 130.8h0M374.8 127.9h0M365.2 128.8h0M378.7 138.5h0M363 131.7h0M371.7 112h0M379.2 124.6h0M365.9 131.9h0M375.2 126.4h0M373.3 133.7h0M363 137.5h0M380.4 116.4h0M370.8 141.7h0M362.4 132.8h0M374.2 130.9h0M373.2 127.9h0M380.4 119.5h0M371.8 126.6h0M365.8 139.2h0M371.1 134.2h0M379.3 142.8h0M375 124.3h0M376.4 135.9h0M374.6 107.8h0M370.2 114h0M371.5 116.5h0M374.5 146.1h0M370.9 139.4h0M378 128.6h0M374.2 128.4h0M376.2 140.5h0M365.1 125.1h0M365.4 118.8h0M373.5 127.9h0M377 128.2h0M365.1 131.3h0M379.8 141h0M366.6 119.7h0M362 109.8h0M377.6 121h0M379.3 111.9h0M380.4 133.1h0M372.7 136h0M364.5 136.9h0M374.6 126.4h0M376.1 128.3h0M380.3 113.2h0M367.6 141h0M370.6 123.1h0M368.2 136.4h0M368.1 132.9h0M369.2 129.8h0M368.1 125.4h0M372.4 121.8h0M378.3 140.1h0M378.6 130.2h0M379.3 113.5h0M365.7 123.1h0M373.4 124.9h0M380.5 124.7h0M372.4 124h0M373.6 135.5h0M366.6 129h0M379.7 119.7h0M361.6 121.5h0M377.1 135.6h0M368.5 129.5h0M380 113.9h0M377 137.5h0M369.7 136.3h0M368.9 120.7h0M361.5 136.2h0M370.4 133.6h0M372.1 127.2h0M368.5 129.3h0M378.7 113.6h0M368.4 118.2h0M380.2 108.1h0M366.5 118.4h0M379.7 127.7h0M371.3 133.7h0M378.3 130.7h0M366.8 146.1h0M377.3 121h0M379.4 124.4h0M362.2 134.2h0M365.2 124.8h0M371.1 114.4h0M378.1 124.2h0M370.4 121.6h0M377.2 136.5h0M368.4 119.8h0M379.7 124.1h0M378.5 126.4h0M380.2 129.2h0M373.9 127.6h0M363.6 120.3h0M365.9 133.1h0M371 135.1h0M369.5 125.6h0M377.5 117.2h0M377.8 125.3h0M370.8 132.7h0M362.5 140.1h0M376.8 135h0M376 118.2h0M373.8 133.6h0M365.3 136.3h0M376 126.3h0M364.2 140.2h0M372 124.8h0M378.5 129.9h0M365.9 138.1h0M372.9 141.1h0M364.6 126.4h0M373.9 112.5h0M378.8 137.9h0M367.2 131.5h0M366.6 109.2h0M374.8 131.6h0M368.8 131.8h0M366.3 131.1h0M368.6 135.4h0M371.4 106.9h0M380 120.4h0M371.4 130h0M364.1 117.3h0M361.3 121.2h0M368.6 126.5h0M370.5 137.9h0M363.8 132.4h0M367.6 136.8h0M373.3 123.5h0M371.9 136h0M364.1 134.2h0M377.8 132h0M373.5 132.2h0M372.3 136.5h0M369.9 119.7h0M364.5 123.7h0M379.6 137.8h0M377.7 122.4h0M378.7 129.9h0M378.6 135.7h0M371.6 145.2h0M373.9 127.7h0M371.7 129.9h0M378.1 138.9h0M374.6 120.8h0M369 121.5h0M380.4 108.3h0M377.3 122.7h0M375.9 125.1h0M364.6 128.5h0M376 138.5h0M366 127.3h0M363.8 115.1h0M366.1 119.3h0M378.8 125.7h0M374.8 122.6h0M365.1 121.5h0M372.5 129h0M373.7 123.9h0M380.2 111.3h0M373.4 143.5h0M376.8 130.4h0M368.3 134.6h0M367.8 120.7h0M363.6 135.7h0M367.7 124.9h0M362.1 136.3h0M364.2 133.7h0M375.4 110.6h0M377 124.3h0M368.6 114.1h0M375.4 119.7h0M369.9 142.3h0M363.9 117h0M363.9 132h0M375.6 118.3h0M362.7 122.4h0M366.9 129.1h0M361.6 125.5h0M375.6 134.3h0M378.2 139.9h0M365.5 141.3h0M371.5 115.1h0M366.1 134.1h0M378.9 140.3h0M379.2 133.3h0M366.7 113.9h0M377.5 138.2h0M374.8 122.2h0M378.6 126.1h0M373.5 127.6h0M368.7 131.5h0M379.4 138.4h0M380.4 127.7h0M377.8 130.4h0M363.4 135h0M377.6 139.7h0M373.1 123.1h0M377.4 131.9h0M373.8 125.8h0M368.4 125.8h0M376.9 143.7h0M373.2 116.8h0M373.6 131.4h0M380 121h0M372.6 139h0M362.3 139.5h0M365.5 131.6h0M380.3 114.7h0M370.9 124.5h0M364.3 113.7h0M378.2 125.7h0M367.3 144h0M367.5 130.6h0M376.3 124.5h0M379.9 127h0M374 123.3h0M377.4 137.5h0M372.7 104.9h0M377.7 125.1h0M380.2 136.5h0M367.4 140.4h0M370.7 125.8h0M373.4 127.4h0M362.3 123.4h0M379 124h0M377.5 138.2h0M370.5 122.6h0M366.4 127.3h0M369.7 129.9h0M366.6 128.4h0M370.1 117.2h0M361.5 125h0M369.7 135.9h0M370 126.8h0M363.6 127.3h0M379.1 135.4h0M378.3 128.3h0M362.2 119.7h0M378.3 121.8h0M374.6 114.8h0M369.7 137.7h0M369.2 138h0M370.3 127.8h0M364.9 115.4h0M366.7 137h0M369.7 121.9h0M370.1 124.9h0M375.2 122.3h0M374 122.2h0M367.7 119.8h0M377.3 123.4h0M368.1 127.2h0M366.6 125.6h0M374.1 139.8h0M373 123.1h0M365.8 139.1h0M380.1 128.4h0M372 127.3h0M379.6 141.1h0M376.4 131.2h0M364.4 125.2h0M368.2 125h0M373.7 125.2h0M378.5 133h0M368.5 114.3h0M368.6 124.2h0M375.1 125.3h0M374.6 124.6h0M376.8 117.4h0M375.1 145.6h0M373.4 117.6h0M380.4 131.6h0M377.6 124.2h0M372.8 123.2h0M370.5 117h0M368.8 132.3h0M378.4 111.6h0M379.3 125h0M377.6 127.8h0M361.7 127.3h0M370.3 134.9h0M368.6 122.3h0M379 130.4h0M367 112.2h0M371.8 137h0M372.6 128.4h0M367 134.5h0M365.1 137.7h0M362.6 140.1h0M375 131h0M367.5 120h0M377.5 117.3h0M366.2 138.8h0M378.4 120.3h0M367.3 121.2h0M368.1 128.5h0M365.6 111.7h0M370.8 131.4h0M370 132.2h0M368.9 131.9h0M361.6 123.9h0M362.3 144.6h0M367.8 129.8h0M366.2 129.1h0M363.5 128.4h0M370.9 120.5h0M364.4 138.5h0M376.8 124.8h0M375.6 134.3h0M375.1 132.1h0M362.7 119.5h0M371 128h0M375.2 123.8h0M365.9 130.5h0M372 128.2h0M371.3 136.2h0M369.5 128.2h0M369.3 119.5h0M367 147.5h0M376 129.3h0M374.9 129.8h0M378.1 111.7h0M364.4 125.7h0M380.5 141.6h0M372.6 137.3h0M366 125.7h0M362.5 119h0M362.7 120.3h0M369.8 130.2h0M375.1 127.2h0M376.2 128.7h0M369 135.9h0M367.1 136.9h0M366.4 135.6h0M376.6 132.5h0M366.4 124.4h0M364.6 140.4h0M378.3 124.7h0M377.7 129.1h0M379.4 134.7h0M370.4 147.4h0M371.4 134.1h0M363.3 147.5h0M376.5 129.6h0M379.2 123h0M377.4 132h0M371.9 129.5h0M364 123.8h0M372.5 109.9h0M377.6 123.1h0M368.8 123.6h0M373.5 138h0M370.6 125h0M375.9 121.8h0M374.8 127.9h0M378.6 135.8h0M365.3 133.4h0M361.6 140.7h0M380.4 133h0M379.8 131.1h0M376.7 133.1h0M376.6 136.8h0M368.5 132.1h0M373.1 125.8h0M368.6 122.8h0M368.1 132.4h0M368.1 140.4h0M371.7 121.2h0M377 120.7h0M368.5 138.2h0M362 123.7h0M367.4 140.6h0M369.1 130.6h0M365.6 138.6h0M372.1 132.6h0M362.7 140.7h0M367.3 131h0M364.9 126.9h0M362.9 124.3h0M362.3 126.4h0M372.5 125.4h0M373.2 128.1h0M364.2 122.4h0M379.9 119.2h0M374.6 126.5h0M362.4 128h0M376.9 123.7h0M373 136.9h0M377.9 130.5h0M368.5 121.5h0M367.3 131.3h0M363.1 122.3h0M373.9 134.6h0M368.3 116.6h0M373.6 113.8h0M362.3 131h0M374.7 121.5h0M380.1 144.7h0M371.2 125.5h0M369.7 131.4h0M375.9 108.4h0M367.8 126.6h0M367.5 118.9h0M371.3 119.4h0M367.7 129.4h0M368.3 123.3h0M361.4 122.6h0M366.2 120.9h0M367.9 140.1h0M364 126.6h0M372.7 130.2h0M370.4 129.1h0M378.7 121.8h0M374.8 124.4h0M369.1 132.6h0M377.1 132.7h0M365.5 130.5h0M369.4 132.1h0M373.7 131.9h0M369.3 123h0M365.4 121.7h0M369.2 121.2h0M363 126.8h0M372.6 137.9h0M362.7 114.2h0M371.1 105.9h0M361.4 116.2h0M361.8 122.2h0M371.4 117.2h0M374.1 128.3h0M368.3 133.9h0M367.4 131.1h0M376 145.5h0M373.5 126.2h0M366.8 135.4h0M368.4 114.4h0M374.7 133.7h0M374.1 142.1h0M362.8 125.1h0M369.2 139.2h0M365.9 125.8h0M374.7 125.8h0M374.5 130.6h0M377.4 140.4h0M377.3 128.3h0M374.4 127.1h0M365.8 125h0M372.1 125.6h0M376.2 136h0M378.9 135.9h0M367.7 139.8h0M364.5 133.3h0M364.5 140h0M377.1 137.1h0M371.4 128.3h0M367.2 139.6h0M364.2 128.5h0M366.3 136.7h0M364.9 137.6h0M365.3 128.5h0M362.7 120.2h0M367.9 125.9h0M375.9 138.4h0M361.3 127.8h0M367.3 128.7h0M367.7 134.3h0M379.8 113.7h0M374.8 116.1h0M378 126.2h0M364.3 127.5h0M368 123.5h0M369.4 110.6h0M366.1 148.9h0M372.8 130.1h0M361.7 134.8h0M363.1 127.6h0M378 145.2h0M371.8 117.6h0M361.7 138.1h0M363.5 134.5h0M368.7 126.4h0M376.4 136.7h0M367.5 123.8h0M365.5 127.3h0M379.6 131.5h0M362.7 112.8h0M374 136.1h0M376.6 122.8h0M372.5 126.3h0M366.6 122.1h0M370.6 135h0M371.6 136.9h0M363.4 118.9h0M372.1 134.3h0M368.8 130.5h0M379.7 130.5h0M362.4 122.7h0M377.7 123.7h0M362.8 119.7h0M371.6 132h0M375.8 114.4h0M367.5 122.6h0M377.5 118.6h0M361.3 128.4h0M364.8 139.6h0M364.1 133.1h0M376.5 147.6h0M372.7 132.7h0M375.7 139.2h0M367.4 130.9h0M372.7 126.2h0M379.6 135h0M370.1 116.7h0M380.3 131.1h0M363.9 120.5h0M372.3 133h0M378.6 125.1h0M376.6 128.2h0M375.3 108.4h0M376.5 142.4h0M361.8 126.2h0M369.2 146.6h0M362.9 120.3h0M365.2 120.7h0M374.8 130.6h0M379.9 119.4h0M365.2 120.6h0M366.3 138.3h0M380.1 120.4h0M362.4 127.4h0M372.5 127.8h0M362.4 131.3h0M375.1 128.2h0M362.3 116.8h0M371.6 117.1h0M378.9 123h0M378.4 131.7h0M376.7 119.2h0M371.9 115h0M378.4 131.5h0M369.3 127.7h0M378.5 126h0M373.7 138.8h0M367.9 127.2h0M376.5 115.3h0M364.6 124.5h0M363.4 125.8h0M372.3 123.8h0M363.5 130.6h0M376.8 130.1h0M366.6 110.9h0M368.7 125.6h0M364.1 120.8h0M365.1 130.9h0M366.7 119.4h0M377.6 131.1h0M380.5 138.6h0M376.8 123.5h0M376.8 128h0M372.9 139.3h0M372.2 136.3h0M371.3 143.3h0M371.2 140.4h0M372.7 129.8h0M366 135.4h0M380 120.9h0M375.2 115.8h0M368.4 113.8h0M379.6 129.2h0M378.8 123.3h0M373.9 133.3h0M367 132.9h0M361.8 134.8h0M372.8 148h0M363.9 132.9h0M364.5 111.7h0M366.5 130.1h0M380.4 119.4h0M368.4 128.8h0M365.6 125.2h0M378.3 125.9h0M375.8 128.6h0M379.8 129.5h0M370.9 125.4h0M371 135.1h0M377.1 118.8h0M361.4 137.4h0M377.2 119.8h0M362.6 134.3h0M363.1 136.2h0M368.6 127h0M361.8 135.7h0M367.5 131.7h0M378.6 118.2h0M372.1 136.1h0M364.6 131h0M377.1 122.9h0M376.1 131.3h0M362.4 119.5h0M369.9 132.5h0M363 122.8h0M362.7 139.6h0M373 115.4h0M372 130.2h0M379.7 138h0M369.7 124.3h0M372.1 129.6h0M376.1 148.5h0M372.6 129.4h0M368.5 126.9h0M379.2 137.2h0M377.7 132.3h0M365.9 144h0M373.8 145.6h0M378.6 123.4h0M368.5 123.8h0M368.1 129.3h0M373.9 138.9h0M363.5 124.7h0M362.8 116.2h0M362.7 140.6h0M371.4 124.2h0M379.4 134.4h0M370.5 130.6h0M370.4 115.1h0M376.6 111.7h0M367.8 125.8h0M369.9 135.4h0M380.3 132.6h0M372.1 129.6h0M362.9 131.1h0M375.3 122.4h0M369.2 124.9h0M367.6 127.1h0M368.6 142h0M376.9 129.8h0M369.8 124.4h0M365.2 133.2h0M364.8 124.6h0M371.8 129.4h0M376.7 134.1h0M378.9 134.6h0M371.7 136.4h0M361.4 141.1h0M367.3 120.7h0M377.4 134.1h0M372 121.9h0M363.7 134.5h0M370 130.1h0M361.5 132.5h0M377.1 118.8h0M373.8 147.1h0M369 129.3h0M368.8 124.3h0M371.1 134.2h0M377.2 135h0M378.3 127.9h0M373.3 116.1h0M378 114.4h0M375.5 135.3h0M379.1 134.5h0M370.5 132h0M366.4 140.2h0M363 117.9h0M374.8 128.4h0M365.8 117h0M361.8 122.4h0M372.5 121.6h0M361.9 130.2h0M363.6 141.4h0M379 133h0M372.5 131.8h0M362.8 124.6h0M373.6 120.6h0M362.5 126h0M378.5 133.9h0M365.4 128h0M380.1 120.1h0M369.1 139.3h0M377.1 125.9h0M380 121.2h0M379 125h0M377.6 126.6h0M367.2 126.9h0M364.7 130.3h0M366.2 123.1h0M377.5 126h0M373.5 135.9h0M364.4 144.8h0M376.3 130.1h0M373.6 128.5h0M377.6 123.2h0M362.8 123.8h0M369.1 133.7h0M369 118.5h0M370.4 138.6h0M368.4 130h0M370 132.1h0M365.4 139.6h0M361.8 129.2h0M375.1 133.9h0M368.5 134h0M363.3 140.6h0M367.5 131.4h0M372.1 142.3h0M370.1 147h0M376.7 139.5h0M365.8 132.3h0M374.5 149h0M363.4 138.4h0M378 121h0M373.2 131.3h0M362.3 115.5h0M365.8 126h0M376.7 136h0M364.7 133.3h0M364.6 133.4h0M362.2 130.2h0M376.1 126.8h0M364.5 126.3h0M372.9 135.5h0M373.5 135.6h0M361.3 134.5h0M362 124.1h0M376.5 130.3h0M379.7 134.1h0M362.2 129.4h0M372.2 115.7h0M379.9 133.7h0M366.3 112.1h0M368.7 136.4h0M372.9 137.8h0M377.6 128.2h0M361.7 142.6h0M368.3 114.7h0M365.7 136.3h0M366 125.3h0M368.7 134.7h0M364.9 119h0M370.7 127.7h0M362.4 135.1h0M375.7 116.9h0M371.8 125.8h0M377.3 128.9h0M365.4 123.2h0M363.3 121.8h0M377 138.4h0M367.6 133.8h0M364.8 115.6h0M373.4 130.7h0M365.8 134.4h0M378.3 114.7h0M375.6 122.5h0M379.5 121.8h0M373.8 141h0M370.4 137.9h0M361.6 133.9h0M370.4 124.2h0M379 145.2h0M371.6 134.5h0M364.8 120.6h0M371.6 125.7h0M370.5 124.4h0M379 123.9h0M378.4 115.5h0M369.8 131.2h0M374.8 124.3h0M372.6 128.2h0M363.4 128.7h0M365.7 133.8h0M365.6 129.3h0M372.9 116.4h0M369 136.7h0M367.9 121.5h0M378.3 135.3h0M371.9 116.9h0M369.7 137.3h0M370.4 115.6h0M374 120.2h0M365.7 125.6h0M366.8 141.4h0M373.6 140.9h0M367.1 123h0M365.5 121.9h0M373.6 125.2h0M374 129.9h0M368.1 130.1h0M378.2 121.8h0M373.9 139h0M371.8 139h0M379.2 139h0M362.9 135h0M367.1 133.6h0M368 119.2h0M375.5 130.8h0M370.1 139h0M376.7 123.7h0M366.2 119.3h0M372 120.5h0M372.6 126.9h0M372.9 124.2h0M379.1 116.2h0M379.5 122.6h0M364.4 143.8h0M375.1 122h0M370 126.3h0M368.6 118h0M365.2 122.1h0M376.8 134.8h0M371.1 108.3h0M379.8 116.7h0M371.5 132.4h0M373.4 127.4h0M375.9 136.3h0M366.1 123.7h0M372.8 123h0M361.6 98h0M367.6 99h0M369 100.5h0M370 102.5h0M379.5 99h0M380.6 101.5h0M372 104h0M377 104.5h0M364 105h0M362.5 151h0M364 152.5h0M370.5 153h0M371.5 154.5h0M374 155.5h0M376 156h0M380 157h0M363 148.5h0M369 149.5h0" stroke="#3c7ddd" stroke-width="2.3" stroke-linecap="round" fill="none"/>
<rect x="458.6" y="18.5" width="18.4" height="34.0" fill="#3c7ddd"/>
<path d="M463.2 43.9h0M461.3 36.8h0M475 37.6h0M466.9 40.9h0M465.9 28.3h0M458.8 28.3h0M468.9 32.6h0M470 54.7h0M460.3 31h0M477.3 24.9h0M470.2 41.6h0M472.6 32.8h0M461.5 23.9h0M471.2 32.5h0M458.2 18.2h0M462.8 46.7h0M463.4 20.8h0M471.6 22.6h0M468 51.2h0M473.7 25.3h0M462.6 43.7h0M464.7 27.3h0M458.1 17.6h0M470.2 54.9h0M465.3 38.2h0M466.4 41.3h0M471.5 36.1h0M459 27.3h0M460.8 30.2h0M468.3 43h0M463.4 30.5h0M473.2 42.5h0M471.7 23.9h0M474 46.4h0M468 42.9h0M464.6 21.4h0M460 39.6h0M460 34.2h0M476.3 17.9h0M471.4 48.6h0M468.8 42.5h0M464.6 32.4h0M461.2 14.8h0M468.1 28.6h0M464.8 40.2h0M467.9 38h0M458.2 55.1h0M473.1 39.2h0M473.9 32.7h0M458.6 45h0M472.6 29.6h0M472.4 36.9h0M461 40.3h0M461 53.7h0M476.3 40.8h0M463.5 45h0M474.7 23.4h0M462 40.4h0M476.4 32.5h0M472.6 40.6h0M469.5 25.6h0M465.1 35.4h0M459.3 25.5h0M460 48h0M461.1 51.9h0M467.2 25.9h0M471.5 40.5h0M462.1 32.9h0M477 15.4h0M464.5 25.7h0M469.1 22.5h0M465.4 56.2h0M470.8 37.8h0M463.2 22.6h0M471.9 30.5h0M467.3 41.5h0M475.9 56.8h0M459.3 38.5h0M467.9 36.1h0M460.7 46.6h0M460 42.5h0M471.7 19.3h0M459.1 19h0M462 11.5h0M476.1 29.7h0M469.8 45.4h0M464.9 20.2h0M459.3 39.9h0M475.5 39.3h0M475 34.6h0M468.4 24.7h0M476.5 34.2h0M463.4 32.4h0M467.1 28.6h0M471 43.1h0M467.2 34h0M462.5 49.4h0M469.4 37.6h0M463.2 30.4h0M470.8 36.6h0M466.3 27.4h0M466.8 25h0M472.4 27.5h0M459.4 36.5h0M468 32.8h0M471.8 36.6h0M464.7 18.4h0M460 22.2h0M471 33.2h0M466.7 48h0M467.5 37.7h0M469.8 45h0M467.4 21.9h0M463 28.8h0M466.6 21.8h0M466.6 48.1h0M469.1 56.8h0M466.1 43.8h0M459 28.1h0M468.9 25.6h0M471.6 37.3h0M475.2 27.5h0M472.5 33.5h0M466.3 41.4h0M459.8 55.8h0M469.8 23.8h0M471.3 29.3h0M459.6 26.4h0M458.5 56.4h0M469.4 35.5h0M461.4 30h0M468.2 30h0M460.6 43.4h0M463 26h0M477.4 24.3h0M476.8 32.9h0M466.2 36.1h0M474.2 19.3h0M471.9 27.8h0M477.2 56.8h0M469 23.5h0M470.7 31.3h0M472.1 44.1h0M463.5 32.8h0M466 32.6h0M472 35.8h0M476.6 21.4h0M463.5 27.6h0M472.2 19.7h0M463.7 46.5h0M476.2 23.8h0M465.2 25h0M467.1 44.6h0M475.5 43h0M474.7 23.5h0M476.5 55.8h0M462.3 45.7h0M470.6 40.4h0M461.4 20.5h0M467.2 43.1h0M458.6 28.9h0M463.8 44.6h0M472.2 42h0M466.7 32.9h0M469.9 34.9h0M467.4 34.5h0M461 31.5h0M463.4 50.1h0M460.2 48.8h0M475.6 42.8h0M475.8 42.9h0M458.2 34.5h0M473.6 27.9h0M470.1 19.6h0M473 42.6h0M464.8 53.6h0M472 28.9h0M459.8 41.8h0M466.6 38.2h0M466.6 23.5h0M467.3 28.1h0M460.2 42h0M466.8 33.9h0M458.8 48.7h0M464.4 23.9h0M459.1 37h0M462.2 14.8h0M458.9 42h0M469.3 39.5h0M466.6 46h0M475.3 38h0M477.3 20.2h0M461.7 40.9h0M472.2 30.5h0M472.9 54.7h0M462.8 28.2h0M471.3 21.5h0M469.8 36.8h0M467.3 32.1h0M467.2 29.3h0M470.7 40.9h0M467 39.4h0M475.3 12.1h0M468.9 42.7h0M477.2 21.5h0M470 23.2h0M472.8 31h0M458.9 36.2h0M474.9 33.7h0M470.3 42.1h0M462.7 34.1h0M476.3 34.8h0M463.5 42.4h0M460.8 43.1h0M467.1 47.8h0M463.6 48h0M470.7 39.1h0M460.8 24.5h0M458.8 44.5h0M475 36h0M473.1 31.1h0M463.1 38.3h0M473.9 39.2h0M460.2 21.4h0M476.5 36.5h0M473.7 28.5h0M476 43.5h0M469.2 36.2h0M459.8 22.6h0M468 42.6h0M458.1 52.9h0M465.8 28.1h0M468.4 27.5h0M470.9 36h0M469.3 28.8h0M469.5 46.1h0M467.7 42.3h0M464 38.6h0M472.2 45.9h0M462.9 37.3h0M469.7 40.5h0M464.9 39.9h0M463.2 36.8h0M469.5 43.9h0M466.8 21.7h0M476.7 38.8h0M475.1 45h0M468.9 17.9h0M472.2 29h0M476.3 56.1h0M471.9 38.7h0M460.9 42.1h0M462.9 23.1h0M466.1 24.4h0M458.1 43.9h0M465 27.2h0M469.9 26.4h0M471.6 22.6h0M476.9 25.7h0M459 41h0M472.3 15.2h0M461 33.5h0M465.2 56.7h0M471.4 32.3h0M475.9 35.1h0M462.3 39.7h0M462.8 41.7h0M470.2 33.2h0M473.5 34.6h0M462.9 31.7h0M471.5 50.3h0M460.1 32.6h0M463.2 39.8h0M458.6 28.7h0M474.9 37.4h0M467.2 29.5h0M473.5 35h0M466.3 55.5h0M465.6 24.1h0M476.5 47.1h0M474.3 48.9h0M460.4 30.9h0M465.6 25.9h0M464.3 39.9h0M459.8 38.8h0M458.1 29.3h0M475.9 33.8h0M469.9 33.3h0M475.1 37h0M460.7 45.9h0M468.5 23.9h0M474.6 32.8h0M461.2 35.2h0M467.6 48.8h0M468.9 40.1h0M472.4 37.9h0M470.5 33.1h0M474.3 34.7h0M472.7 37.3h0M458.4 32.8h0M459.3 33h0M464.7 24h0M465.2 35.1h0M466.3 52.7h0M458 34.8h0M463.7 35.8h0M461 35.2h0M460 23.6h0M458.5 31.1h0M465 23.8h0M476.2 47.2h0M477.1 34.9h0M475.4 42.7h0M458.9 36.9h0M473 41.1h0M465.3 44h0M467.2 45.3h0M467.5 45.4h0M466.2 50.8h0M460.8 41.7h0M470.4 39h0M459.5 24.8h0M469.4 32.1h0M474.8 48.7h0M471.6 28.2h0M458.6 48h0M458.4 33.2h0M474.2 51h0M466.3 25.6h0M474.4 32.8h0M470.6 33.4h0M464.5 46.5h0M474.2 13.7h0M476.1 38.1h0M461.3 24.7h0M475.1 34.7h0M469.4 52.1h0M472.1 38.3h0M468.1 40.6h0M463.1 35.7h0M464.5 36.9h0M463 38.4h0M464.3 41.7h0M470 34.4h0M470.2 32.1h0M458.5 27.5h0M468.2 24.2h0M471.4 30.9h0M467.2 47.3h0M476.7 24.2h0M471.8 28.8h0M460.1 26.7h0M459.5 25.2h0M464.1 28.9h0M463.2 28.8h0M460.3 35.4h0M464 46.3h0M476.1 32.1h0M477.3 39.4h0M471.7 12.6h0M472.6 19.1h0M473.4 30.4h0M463.3 54.8h0M467.9 39.3h0M468.7 46.1h0M469.8 28.6h0M476.2 37.7h0M473.4 47h0M476.2 28.3h0M471.3 49.4h0M458.7 37.7h0M476 38.3h0M465.6 29.6h0M460.5 32.7h0M476.3 24.1h0M458.7 24.2h0M462.9 31.2h0M471.2 31.2h0M470.2 48.2h0M465.1 20.6h0M473.6 29h0M464.3 37.1h0M459.5 39.2h0M460.8 29h0M477.3 24h0M464.8 26.5h0M458.9 38.2h0M471.6 32.1h0M468.9 28.2h0M467.3 37.5h0M465.1 31.7h0M469.2 25.3h0M465.4 26.3h0M472.7 33.2h0M460.2 25.7h0M463 42.7h0M468.6 30.3h0M464.6 13.9h0M477.4 20.7h0M458.8 24h0M458.6 45.8h0M468.5 39.8h0M460.6 33.9h0M468.2 37.2h0M465.5 41.9h0M470 30.7h0M472.8 46h0M464.8 25.5h0M470.4 36.2h0M460.6 56.2h0M473.4 34.8h0M471.5 31h0M462.9 42.9h0M476.3 27.9h0M463.9 47.8h0M460.1 37.3h0M460 44.7h0M471.9 44.2h0M465.4 31.7h0M460.2 49.9h0M459 37.9h0M464 48.9h0M469.1 53.9h0M459.7 29.5h0M458.2 43.3h0M476.4 37.6h0M459.4 27.5h0M474.5 47.1h0M468 19.4h0M473.9 51.8h0M462.4 41.9h0M469.8 35.9h0M458 32.9h0M475.6 44h0M474.6 43.5h0M476.4 35.2h0M461.8 32.2h0M464.9 27.9h0M466.1 25.4h0M475.8 36.1h0M476.1 28.2h0M474.9 32.4h0M468.3 47.9h0M461.1 48.7h0M473.4 40.3h0M463.7 42.9h0M470.8 46.3h0M465 52.4h0M468.1 31.9h0M467.9 30.9h0M467.9 29h0M461.5 45.7h0M470.8 48.2h0M475.3 47.7h0M469.4 28.8h0M474 25.4h0M473.6 42h0M463.8 21.8h0M461.4 33.1h0M463.9 30h0M459.5 34.2h0M460.6 30h0M458.5 31.4h0M466.9 20.9h0M467.9 54.1h0M474.9 28.7h0M472.1 37.9h0M474.7 24.8h0M470.5 44.1h0M458.9 36.4h0M463.7 36.5h0M461.5 48.4h0M469.2 31h0M472.6 21.8h0M471.4 23.7h0M460.8 34.2h0M463.3 43.1h0M461.4 30.6h0M471 45.3h0M466.5 40.1h0M462.1 23.2h0M462.2 37.2h0M464.4 29.6h0M461.8 39.5h0M459.4 23.2h0M475.7 54h0M473.7 16.7h0M462.3 16h0M459.2 32h0M473.1 25h0M467.5 27.9h0M471.3 33.8h0M464.1 56.3h0M465.6 39.8h0M464.8 48.4h0M469.2 15.3h0M461.1 35.4h0M459.9 39.5h0M460.7 26h0M475.5 35.1h0M466 36.7h0M473.3 51.3h0M459 42.4h0M467.8 29.8h0M467.5 49.1h0M458.9 34.2h0M476.8 31.6h0M467.3 27.4h0M460.2 44.7h0M473.5 40.5h0M469.5 29.3h0M474.7 27.7h0M467.5 38.9h0M464.1 53.1h0M473.3 33.7h0M465.2 45.7h0M466.8 20.2h0M460.5 35.3h0M472.7 52.1h0M469 36.1h0M462.2 38.4h0M476.2 17.1h0M473 23.1h0M463.7 13.8h0M469 36.2h0M470.7 38.1h0M466.8 39.1h0M459.1 32.6h0M461.3 53.4h0M459.5 31.1h0M459.8 19.8h0M461.4 32.7h0M464.8 36.4h0M461.6 25.5h0M462.1 28h0M471.7 44.7h0M469.7 19.2h0M474.2 35.1h0M473.7 55.4h0M466.5 42.6h0M474.5 35.7h0M476.2 40.1h0M459.9 34.5h0M476.9 23.7h0M460.6 35.8h0M475.4 32.2h0M459.9 31.2h0M459.2 44.8h0M472.4 20.6h0M466 56.1h0M462 21.7h0M464.9 50.5h0M471.9 36.7h0M463.2 21.6h0M466.6 24.4h0M463 36.9h0M468.7 36.9h0M464.6 30.3h0M475.7 46h0M470.5 46h0M463.1 26.4h0M461.3 37.6h0M462.4 39.7h0M470.6 21.1h0M472.8 34.3h0M471.3 34.8h0M475.8 42.6h0M465.4 39.6h0M468.7 28.2h0M458.2 24.8h0M470.9 41.3h0M469.6 25.8h0M458 30.3h0M463.9 43.9h0M464.9 46.8h0M462.8 39.7h0M458 22.6h0M458.4 28.2h0M469.8 28.7h0M469.1 32.1h0M460.8 41.3h0M472.6 29.3h0M471.2 26.2h0M460.8 31.5h0M460.4 24.3h0M467.7 31.1h0M468 29.3h0M476.5 39.9h0M470.9 29.8h0M459.1 50.5h0M476.3 33.9h0M466 44.3h0M462.6 45.9h0M477.4 48h0M471.4 30.4h0M471.8 44.9h0M467.3 44.8h0M461.9 48h0M474.7 54h0M461.6 28.6h0M464.7 44.1h0M465.6 35h0M471.2 42.2h0M458.3 24.5h0M459.4 30.3h0M471.8 41h0M468.3 53.9h0M462.9 50.6h0M458.1 37.8h0M467 25.2h0M466.4 21.9h0M458.8 32.4h0M475.2 55.2h0M473.4 23.3h0M463.1 34.3h0M466 23.9h0M463.5 52.9h0M463.1 44.2h0M471.7 20h0M475.7 33.7h0M475.5 32.3h0M470.7 22.3h0M459.6 47.4h0M467.6 32.8h0M467.5 49.3h0M468.9 26.1h0M462.7 47.5h0M458.3 28.7h0M458.7 40.5h0M458.2 24.9h0M460.6 33.6h0M471.6 35.5h0M465.6 32.3h0M463.9 20h0M472.2 30.9h0M468.5 37.1h0M465.5 47.6h0M468.7 17.2h0M460.2 32.7h0M469.8 42.1h0M469.8 44h0M475.9 49.8h0M465 47.8h0M470.2 33.7h0M458.3 42.4h0M467.3 53.5h0M465.9 43.5h0M467.5 36.2h0M474.4 31.6h0M469.9 46.8h0M470.9 20.4h0M469.3 21.3h0M460 52.8h0M460.3 29.9h0M458.5 35.7h0M463.9 30.9h0M465.2 35.2h0M460.6 26.2h0M472.3 42h0M467.6 25.9h0M469.9 34.2h0M472.2 46.2h0M476.6 41h0M477.1 28.7h0M461.6 47.3h0M466.8 35.6h0M477 55.6h0M462.1 49h0M472.5 43.8h0M464 44h0M461.8 26.2h0M466.9 20.9h0M466.6 41.3h0M467.4 33.1h0M463 51.2h0M458 16.7h0M473 21.2h0M472.5 11.8h0M461.2 24.3h0M465.4 55.7h0M469.1 39.9h0M468.4 38.1h0M476.4 49.8h0M462.1 31.7h0M476.4 39.4h0M472.3 28.8h0M476.3 40.6h0M472.7 53.6h0M462.2 28.8h0M468.6 38h0M471.9 31.3h0M461.2 41.3h0M459.4 50.7h0M462.3 50.3h0M465 32h0M470.3 53.7h0M474.2 29.4h0M459.4 41.9h0M471.1 33.7h0M463.2 37.8h0M473.1 49.9h0M466.9 27.6h0M458.2 23.1h0M475.7 30.4h0M470.2 43.4h0M469.4 44h0M473.2 34.9h0M467.7 45.7h0M473.4 34.9h0M469.6 19.2h0M469.9 26.3h0M465.3 16.7h0M471.4 44.3h0M460.9 31h0M468.5 36.5h0M467.9 31.3h0M466.6 41.7h0M475.1 18.7h0M468.4 34.1h0M471.3 26.7h0M462.6 46.5h0M475.8 28.9h0M465.3 42.7h0M472.3 34h0M459.8 45.8h0M465.2 32h0M462.3 52.4h0M462.7 44.6h0M470.8 33.6h0M460.6 24.8h0M474.6 48h0M465.2 36.2h0M466.6 43.4h0M471.9 29.6h0M477.6 38.1h0M472.8 49.7h0M472.8 22h0M469.3 13.3h0M471 49.5h0M475.9 40.5h0M461 51.1h0M473.6 46.5h0M458.3 41.1h0M458.5 28.1h0M469 29.4h0M477.4 34.1h0M473.6 33.2h0M462.1 12.2h0M476.9 49.9h0M476 26.5h0M464 46.1h0M475.3 25.9h0M459.3 43.7h0M465.7 24.6h0M461.7 28.8h0M460.4 22.3h0M472.3 40.1h0M464.4 25.6h0M470.6 36.5h0M466.8 39h0M459.1 50h0M459.9 35.4h0M462.6 39.1h0M463.2 41.8h0M465.2 47.7h0M462.8 35.4h0M461.1 33.9h0M464.8 35h0M473.2 40.5h0M468.1 40.2h0M461.8 35.7h0M462.7 23.2h0M465.4 36.5h0M462.1 35.1h0M468.8 34.5h0M477 45.1h0M460.1 41.9h0M464.2 32h0M468.4 48.8h0M466.9 47.3h0M476.5 45.1h0M459.8 39.2h0M460.4 30.4h0M462.1 37.6h0M459.1 26.4h0M477.1 26.2h0M464.2 46.7h0M465.8 45.5h0M462.9 36.7h0M462.3 37.9h0M472.2 27.6h0M469.1 30.6h0M466 22.7h0M470.9 26.8h0M467 46.1h0M466.9 40.1h0M459.1 36.6h0M467.9 21h0M464.3 42.6h0M476 13.5h0M474.7 26h0M462.6 52.3h0M472.1 27.4h0M476.4 26.1h0M458.5 50.1h0M461.5 48.6h0M464.4 37h0M463.3 22.6h0M460.4 34.7h0M474.3 46.1h0M476.2 23.4h0M459.1 43.8h0M475.8 26.3h0M461 27.2h0M465.6 48h0M460.2 30.2h0M465.2 25.3h0M475.1 12.1h0M474.7 45.2h0M471.8 36h0M475.9 47.3h0M466.1 38.2h0M477.1 27.4h0M464.4 32.1h0M469.7 43.6h0M474.3 51.3h0M474.1 29.2h0M468.5 28.3h0M465.1 26.3h0M458.1 33.9h0M465.7 35.1h0M462.3 18.9h0M469.5 38.5h0M469.4 39.4h0M466.1 16.9h0M467.5 32.4h0M458.4 32h0M475.5 47h0M472 39.7h0M476.7 22.6h0M461.5 28.2h0M459.5 24.1h0M473.5 25.6h0M463 39.9h0M470.9 39.4h0M459.1 49.5h0M466.5 31.3h0M470.3 34.9h0M467.5 31.9h0M469.8 29h0M460.5 27.6h0M465.8 39.5h0M476 38h0M463.5 43h0M473.6 34.8h0M467.5 32h0M463.7 24.6h0M462.8 53.2h0M458.9 41.3h0M466.7 41.4h0M464.7 48.6h0M472.7 35.3h0M471.1 35.9h0M477.3 43.1h0M475.4 36.6h0M474.7 38h0M458.7 26.3h0M468.1 37.9h0M459.8 40.7h0M476.8 43.8h0M468.4 32.4h0M473.5 18.7h0M472.4 25.7h0M476.2 36.4h0M470.9 45.4h0M472 41.7h0M471.9 50.3h0M466.1 37.9h0M468 28.1h0M462.8 51.4h0M465.4 31.1h0M473.2 33.5h0M468.4 36.1h0M466.1 43.4h0M471.7 56h0M471.1 34.7h0M470.7 28.3h0M463.6 40.9h0M463.1 46.8h0M477 52h0M469.5 31.2h0M474.4 31h0M468.1 27.4h0M460 28.4h0M468.1 36h0M468.4 46.9h0M468.5 29.9h0M468.3 46.9h0M461.9 23.6h0M470.5 54h0M467.9 43.3h0M461.5 21.2h0M467.9 25.2h0M470.5 36.7h0M473.9 13.8h0M471.5 20.5h0M477.3 23.2h0M467.6 16h0M469.7 50.5h0M466.5 37.6h0M465.8 23.9h0M460.7 29.8h0M469.4 50.8h0M469.6 38.1h0M467.8 42h0M472.7 39.6h0M470.7 39.8h0M469.6 32h0M464.4 26.9h0M461.2 27.9h0M476.5 40.2h0M462.1 46h0M476.3 41.7h0M463.2 29.3h0M474.5 21.1h0M471.3 34.1h0M465.7 23.4h0M473.8 43h0M462.5 46.9h0M467.3 28.1h0M467.7 44.7h0M471.3 14.3h0M476.5 46.9h0M459.4 51.5h0M462.9 26.1h0M474.5 42.7h0M468.2 55.4h0M463.7 43.6h0M474.9 46.7h0M463.2 38.3h0M476.9 42.9h0M474 43.4h0M461.2 19.4h0M473.1 32.5h0M474.3 36.7h0M462 37.1h0M470 40.3h0M471.6 37.2h0M462.2 52.9h0M475.3 38.1h0M475.8 28.6h0M469.6 48.3h0M470.4 33.6h0M476.2 39h0M463.4 29h0M472 49.1h0M462 17.5h0M467.6 32.2h0M458.7 43.5h0M462.4 46.7h0M464.9 51.8h0M466.7 44h0M476.3 42h0M461.7 37.6h0M463.8 31.4h0M470.8 18.9h0M460.5 31.5h0M471.9 29.8h0M462.2 46.5h0M461.7 18.3h0M458.7 41h0M467.2 42.5h0M476.8 45.6h0M459.9 47.6h0M462.6 38.5h0M468.2 37.7h0M475.7 48.9h0M471.7 36.1h0M469.6 50.7h0M461.6 36.7h0M460.7 27.2h0M461.2 39.4h0M462.7 21.8h0M475.3 36.5h0M472.3 35.5h0M459.3 23.4h0M471.6 27.5h0M476.3 37.5h0M468.3 36.3h0M466.5 43.5h0M463 36.3h0M465.7 28.6h0M464.5 44.9h0M469.8 49.1h0M467 37.6h0M468.5 31.4h0M474.5 20.7h0M474.5 31.9h0M466.3 31.8h0M460.8 36.7h0M460.7 39.9h0M469.7 39.3h0M466.6 18.8h0M458.7 24.6h0M464.9 37.4h0M475.7 23.8h0M475 36.9h0M476.8 39.2h0M463.2 37.7h0M470 33.2h0M470.4 34.2h0M473.2 20.8h0M468.3 47.2h0M467.8 29.3h0M461.7 20.9h0M458.5 40.1h0M474.3 47.2h0M474.1 31.5h0M465.5 45.1h0M467.5 54.2h0M475.1 24.8h0M462.4 36.7h0M463.6 23.9h0M459.5 34.5h0M459.3 36h0M467.7 17.9h0M461.5 19.7h0M476.2 34h0M477.5 33.8h0M468.3 30h0M466.7 35h0M467.3 19.3h0M471.2 54.7h0M459.5 39.5h0M461.7 23.2h0M474.8 23.4h0M468.6 31.9h0M472.6 26.8h0M463.7 46.2h0M468.6 18.7h0M461.5 51.9h0M460.7 28.5h0M460.6 37h0M458.7 34.8h0M463.4 33.4h0M476.2 33.6h0M464.7 35.3h0M473.1 46.9h0M459 46.5h0M476.9 37.2h0M466.8 54.9h0M476.4 26.6h0M466.3 35.9h0M467.9 29.1h0M472.3 44.3h0M459.5 47.1h0M475.2 20.9h0M474.1 25.7h0M471.1 34.2h0M470.5 30.7h0M465.2 31.1h0M459.8 40.6h0M477.2 28.1h0M463.3 25h0M476 32.6h0M466.9 41.1h0M475.2 36h0M474.1 33.3h0M469.5 27.6h0M477.3 34.9h0M477.1 40.3h0M472.6 47h0M466.9 40.9h0M463.7 36.1h0M472.1 34.7h0M470.2 48.8h0M462.1 38h0M459.6 29.4h0M461.7 16.6h0M464.2 18.2h0M474.8 29h0M462.6 35.1h0M477.5 34.3h0M465.7 30.3h0M469 25.1h0M463.5 38h0M460.3 22.1h0M466 33.3h0M469.7 41.5h0M458 26.7h0M465.1 32.7h0M476.5 32.5h0M473.2 27.4h0M466.7 37h0M463.3 28.8h0M460.5 39.3h0M467.7 24.6h0M465.4 34.7h0M461.4 28.3h0M468.3 30.3h0M469.2 34.5h0M466.8 38h0M475 30.7h0M476.7 39.7h0M476 47.3h0M461.7 49.8h0M467.4 43.1h0M470 20.7h0M471.2 29h0M475 43h0M467.6 33.6h0M471.3 41.5h0M459 36.3h0M463.7 39.8h0M476.3 28.1h0M461.8 22.1h0M470 44.9h0M463.7 48h0M468.3 48.6h0M467.5 37.7h0M469.2 31.1h0M470.6 48.2h0M473.9 43.8h0M460.6 44.3h0M459.3 25.5h0M468.6 38.2h0M468.5 52.9h0M468.8 39.2h0M476 27.3h0M467.3 45.5h0M460.2 33.7h0M460.4 19.6h0M471.7 32.1h0M466.2 25.3h0M460.8 24.8h0M471.6 40.5h0M471.5 18h0M471.5 49.9h0M477.2 52.3h0M465.6 56h0M458.6 45.5h0M458.8 34.9h0M464.2 20.7h0M463.7 35.6h0M461.2 40.4h0M467.9 36.8h0M470.1 32h0M463.1 20.2h0M461.5 32.4h0M472 48.4h0M463.3 32.3h0M464.3 25.5h0M459.1 24.1h0M461.6 35.2h0M461.4 40.2h0M465.5 24.7h0M469.1 39.1h0M477.5 35.6h0M467.5 22.2h0M462.2 27.6h0M458.6 39.6h0M476.6 30.6h0M473.5 35.7h0M464.1 31.9h0M475.2 33.4h0M466.7 30.1h0M459.1 23.3h0M467.5 31.2h0M470.2 30.9h0M467.4 34.5h0M468.9 38.5h0M465 28.6h0M466.6 35.9h0M460.7 41.2h0M472.9 39.7h0M475.7 53.4h0M459.2 38.6h0M459.3 24.8h0M474.4 24.3h0M473.2 22.9h0M470.4 51.6h0M470.8 40.1h0M473.2 29.6h0M471.5 16.5h0M462.8 33.6h0M470.5 26.4h0M463.1 20.9h0M472.5 46.3h0M472.8 39.6h0M467.6 52.5h0M464.2 26.2h0M463.8 14.1h0M461.8 31.5h0M472.2 55.1h0M477.1 19.3h0M471.2 40.6h0M468.7 22h0M473.3 41.3h0M471.7 29.7h0M459.5 33.6h0M475.2 36.7h0M468.7 29.7h0M464.4 16h0M462.8 26.2h0M464.4 40.3h0M460.8 30.2h0M475.7 38.6h0M463 37.5h0M468 33.3h0M467.7 18.6h0M464.1 43.4h0M470.3 21.8h0M459.9 26.3h0M461.6 45.9h0M465.1 34.5h0M476.2 40.7h0M461.5 40.3h0M462.6 51.3h0M475.8 25.4h0M477.3 45.5h0M464.1 40.1h0M470.9 43.2h0M476.3 24.8h0M471.3 38.6h0M465.4 28.3h0M463.2 21.8h0M462.7 22.7h0M477.4 39h0M474.5 40.2h0M459.9 38.3h0M470.6 39.6h0M463.3 36.6h0M463.3 22.9h0M458.8 36.6h0M475.1 48.6h0M476.1 36.7h0M475.5 25h0M469 32.7h0M464.1 34.4h0M473.4 39.3h0M462.5 22.4h0M465 35.4h0M468.5 43.2h0M470.6 42.4h0M472.5 29.5h0M458.6 29.3h0M460.2 17h0M464.6 41h0M465.6 29.3h0M466.9 19.2h0M465.1 53.5h0M468 46.7h0M464.5 43h0M468.9 35.1h0M474.3 50.9h0M459.3 22.8h0M472.4 23h0M461.3 36.6h0M458.2 21.4h0M466.8 43.4h0M477.5 13.4h0M472.6 42.3h0M471.9 18.2h0M459.6 22.5h0M461.6 32.1h0M472.9 35.2h0M471.7 40.1h0M472.6 33.2h0M472.4 50.5h0M470 31.8h0M466.2 39.7h0M464.8 34.6h0M464 32.7h0M462.9 41.7h0M477.1 47.5h0M464.7 29.5h0M468.5 18.2h0M468 20.4h0M466 27.5h0M472.8 38.5h0M470.9 42.5h0M460.9 19.9h0M474.8 20.3h0M476.9 28.8h0M465 43.2h0M472.4 34.6h0M460.1 20.6h0M463.7 38.1h0M476 17.5h0M476.8 32.3h0M471.2 49h0M470.2 20h0M474.5 47.1h0M465.7 45.7h0M475.5 40.6h0M475 40.3h0M472.2 34h0M465.9 41.8h0M460.9 31.3h0M460 16.7h0M469.7 16.3h0M459.5 48.1h0M468.9 42.7h0M465.7 20h0M460.6 26.5h0M471.1 47.5h0M467.8 26.4h0M462.7 47.3h0M467.3 29.8h0M466.5 33.1h0M464.2 23.9h0M464.8 33.8h0M471.6 45.3h0M465 34.5h0M458 34.8h0M474.7 33.7h0M470.8 27.5h0M469.6 25.9h0M472.5 19.7h0M471.3 36.3h0M474.5 31.6h0M474.9 35h0M476.2 45.7h0M467.6 36.5h0M469.4 47.8h0M474.7 38.4h0M462.7 45.4h0M459.5 52.9h0M475.9 14.2h0M467.3 35h0M477.6 40.8h0M469.4 28.6h0M471.9 30.8h0M467.1 47.4h0M467.9 44.8h0M463.6 47.6h0M463.6 36.9h0M469.9 34.2h0M472.9 36.8h0M460.9 37.4h0M466.4 39.3h0M467.4 45.2h0M458.3 51.3h0M470.5 44h0M463.1 30h0M476.1 30.3h0M460.1 34.4h0M473 27.2h0M471.6 40.2h0M469.2 40.2h0M462 12h0M468.5 11.5h0M472.5 13h0M465 14.5h0M461 57h0M463.5 59h0M472 58h0M461.5 62.5h0M458 66.5h0M461 68.5h0M475 72h0" stroke="#3c7ddd" stroke-width="2.3" stroke-linecap="round" fill="none"/>
<path d="M322.4 4.3V164.2" stroke="#747474" stroke-width="1.2" fill="none"/>
<path d="M321.8 163.9H515.4" stroke="#7c7c7c" stroke-width="1.3" fill="none"/>
<path d="M322.4 164.0v1.9M346.5 164.0v1.9M370.9 164.0v1.9M395.1 164.0v1.9M419.5 164.0v1.9M443.6 164.0v1.9M467.8 164.0v1.9M491.8 164.0v1.9M515.4 164.0v1.9M322.4 22.6h-2.2M322.4 43.5h-2.2M322.4 64.1h-2.2M322.4 84.8h-2.2M322.4 105.2h-2.2M322.4 125.7h-2.2M322.4 146.3h-2.2" stroke="#747474" stroke-width=".55" fill="none"/>
<g font-size="6.4" fill="#333333">
<g text-anchor="middle">
<text x="322.4" y="172.7">-0.50</text>
<text x="346.5" y="172.7">-0.25</text>
<text x="370.9" y="172.7">0.00</text>
<text x="395.1" y="172.7">0.25</text>
<text x="419.5" y="172.7">0.50</text>
<text x="443.6" y="172.7">0.75</text>
<text x="467.8" y="172.7">1.00</text>
<text x="491.8" y="172.7">1.25</text>
<text x="515.4" y="172.7">1.50</text>
</g><g text-anchor="end">
<text x="318.6" y="24.9">0.075</text>
<text x="318.6" y="45.8">0.050</text>
<text x="318.6" y="66.4">0.025</text>
<text x="318.6" y="87.1">0.000</text>
<text x="318.6" y="107.5">-0.025</text>
<text x="318.6" y="128.0">-0.050</text>
<text x="318.6" y="148.6">-0.075</text>
</g></g>
<g font-size="7.5" fill="#2a2a2a" text-anchor="middle">
<text x="418.9" y="182.6" font-size="7.5">TZ</text>
<text transform="translate(290.8 84.2) rotate(-90)">SHAP value for</text>
<text transform="translate(298.3 84.2) rotate(-90)">TZ</text>
</g>
<rect x="37.8" y="213.4" width="194.2" height="160.6" fill="#e5e5e5"/>
<path d="M44.8 213.4V374M68.1 213.4V374M91.5 213.4V374M114.8 213.4V374M138.1 213.4V374M161.4 213.4V374M184.8 213.4V374M208.1 213.4V374M37.8 233.4H232M37.8 262.0H232M37.8 290.5H232M37.8 319.0H232M37.8 347.4H232" stroke="#fff" stroke-opacity="0.72" stroke-width=".8" fill="none"/>
<path d="M45.0 374v-3.6H49.0V374zM49.0 374v-9.2H52.0V374zM52.0 374v-11.2H57.0V374zM57.0 374v-7.6H60.0V374zM60.0 374v-2.6H65.0V374zM65.0 374v-0.7H84.0V374zM84.0 374v-1.6H88.0V374zM88.0 374v-3.2H92.0V374zM92.0 374v-4.0H98.0V374zM98.0 374v-5.6H104.0V374zM104.0 374v-6.6H110.0V374zM110.0 374v-7.2H116.0V374zM116.0 374v-6.0H120.0V374zM120.0 374v-8.0H123.0V374zM123.0 374v-9.6H127.0V374zM127.0 374v-8.0H132.0V374zM132.0 374v-5.6H136.0V374zM136.0 374v-2.2H142.0V374zM142.0 374v-2.6H147.0V374zM147.0 374v-1.6H152.0V374zM152.0 374v-1.0H158.0V374zM158.0 374v-0.5H166.0V374z" fill="#000" fill-opacity=".09"/>
<path d="M86.3 269.7h0M50.1 264.1h0M131 300.8h0M182.3 299.7h0M201 292h0M48.9 248.5h0M54 280.3h0M143.7 306.1h0M63.5 284.4h0M55.9 287h0M67.6 286.8h0M120.4 303.5h0M125.9 303h0M49.3 262.3h0M195 292h0M105.9 297h0M66 290.1h0M85.8 278.8h0M48.9 253.5h0M56.1 285.8h0M49.2 228.1h0M69 284h0M50.4 261h0M138.2 298.7h0M98.9 298.1h0M84.6 277.7h0M65.5 289.4h0M134.1 295.8h0M124.5 297.1h0M50.8 246.1h0M92.9 293.5h0M56.4 289.9h0M52.2 270h0M75.2 286.9h0M87.2 280.3h0M96.9 299.5h0M60.7 277.8h0M52.3 248.3h0M70 285.5h0M85.4 283.8h0M51.7 240.8h0M61.9 282.7h0M83.3 284.5h0M195.5 300h0M95.8 291.3h0M100 302h0M101.3 297.1h0M48.2 249.3h0M111.2 294.9h0M54.8 284.1h0M88.4 286.9h0M194 286h0M191.4 304.4h0M54.8 262.3h0M49.8 236.3h0M54.5 290.6h0M112.7 295.2h0M48.1 232.1h0M64.1 278.7h0M109.4 291h0M78.9 286.4h0M97.7 305.5h0M50.6 260.1h0M125.7 295.1h0M56.3 275.2h0M113.4 293h0M50.6 237.6h0M59.9 280h0M111.4 291.4h0M127.6 296.8h0M51.1 234.7h0M170.9 292.6h0M136.2 304.5h0M48.2 256h0M57 292h0M137.5 300.8h0M59.9 292.6h0M95.5 296.9h0M95.3 294.2h0M113.6 291.5h0M49.1 256.9h0M54.9 286.6h0M121.4 297.9h0M56.5 288.5h0M55.7 286.6h0M134.1 297.9h0M54.7 272.6h0M105.3 292.7h0M101.6 302.3h0M57.2 283.5h0M88.8 280.7h0M56.3 293.1h0M64.1 278.7h0M69.6 290.2h0M51.9 271h0M118.3 302.3h0M52.3 256.4h0M86.6 276.1h0M150.7 308.2h0M144.5 305.3h0M54.2 273.7h0M90.2 286.9h0M138.5 309.5h0M152.6 309.7h0M199 298h0M150.9 300.4h0M143.7 311h0M150 318.2h0M95.2 298.3h0M170.6 298.7h0M52.1 264.7h0M74.2 289.7h0M63.7 293.3h0M93.6 289.1h0M102.2 299.8h0M172.7 293.2h0M55.2 279.7h0M87.8 285.1h0M66.3 283.7h0M95.9 293.9h0M55.5 272.9h0M126.5 292.4h0M68.1 287.3h0M85.3 277.8h0M174.8 309.2h0M139.9 307.8h0M130.9 297.5h0M64.9 285h0M88.8 280.5h0M89.9 281.9h0M51.5 242.2h0M60.1 280.5h0M105.9 289.1h0M58.8 292h0M54.6 275h0M52.9 257.8h0M209 314h0M130.4 301.1h0M137.1 299.5h0M57.1 260.8h0M54.3 287.1h0M55 276.1h0M111.1 295.9h0M143.1 305.9h0M50.6 250.8h0M60.1 286.7h0M57 292.1h0M150.4 304.2h0M106.5 296.6h0M98.2 299.2h0M88.6 276.9h0M142.3 310.5h0M88 275.9h0M121.9 294.2h0M154.3 304.9h0M156.1 310.8h0M51.6 260.1h0M166.4 301.8h0M57.9 273.8h0M119.5 292.3h0M98.2 309.1h0M70.7 287.6h0M56 264.3h0M185 299.1h0M49.4 257.3h0M90.7 285.3h0M62.3 280.8h0M52.3 279.6h0M103.7 297.3h0M66.2 287.4h0M55.5 273.9h0M121.3 291.6h0M73.7 290.7h0M123.3 300.7h0M223.6 345h0M107.1 298.9h0M54.2 286h0M51.8 262.6h0M48.4 246.9h0M54.5 264.3h0M98.9 299.8h0M172.5 299h0M131.9 291.9h0M121.9 288.9h0M56 280.2h0M141 302.3h0M142.2 300.7h0M213 320h0M189.7 302.5h0M88.2 286h0M153.5 309.9h0M59.6 274.6h0M151.3 306.6h0M51.6 261.2h0M119.3 299.3h0M53.1 279.1h0M49.6 260.9h0M50.8 255.6h0M107.1 291.2h0M126.1 295.2h0M118 290.6h0M94.6 301.5h0M65.1 283h0M84.6 285.2h0M51.1 265.7h0M52.3 280.3h0M49.4 233h0M60.7 283h0M59.4 286.5h0M110.9 287.5h0M58.1 293.5h0M105.2 286.1h0M57.1 290.3h0M54.4 285.5h0M49.3 248.8h0M115.4 291.8h0M103.5 289.8h0M49.7 261.6h0M78 292.5h0M56.4 276.1h0M71.3 290.8h0M99.8 308.2h0M47.4 293h0M65.6 275.6h0M55 265.5h0M158.2 314.5h0M142.4 310.1h0M126.4 304.7h0M60.1 273.2h0M120.6 295.9h0M165 304.3h0M115.1 297.3h0M143.3 303h0M97.2 300.3h0M89.6 284.8h0M53.9 291.9h0M92.8 284.7h0M64.1 285.3h0M149 318.1h0M52.4 256.2h0M49.6 233.2h0M97.4 304.1h0M122 313.8h0M62.4 290.9h0M58.1 286.2h0M131.6 302.5h0M50.4 224h0M133.7 303.1h0M160.6 300.6h0M59.8 278.6h0M124.6 302.3h0M94.4 297.6h0M137.7 300.4h0M156.4 313.5h0M54.9 287.5h0M84.5 279.1h0M59.4 281.4h0M50.8 247.2h0M134.2 292.6h0M76.8 285.5h0M76 280.8h0M74.7 286.1h0M204 305h0M95.8 295.3h0M133.6 303.7h0M64.8 279.3h0M52.8 254.4h0M84.1 283h0M49.9 234.3h0M68.5 291.1h0M134.6 308.2h0M142.9 303.1h0M88.3 280.7h0M145.7 303.6h0M96.8 295.5h0M88.5 275.8h0M133.8 303.4h0M55.5 284.2h0M107.6 301.4h0M151.8 315.9h0M94.1 289h0M50.3 239.3h0M55.8 293.3h0M55.9 282.7h0M55.2 290.1h0M88.7 285.4h0M109.2 297.2h0M54.8 277.8h0M56.1 278.8h0M50.9 247.4h0M61.1 277.3h0M48.3 257.9h0M50.2 264h0M82.2 279h0M50.7 258.8h0M158.4 303.2h0M57.3 278.2h0M101.9 300.6h0M74.6 287.7h0M223.6 366.8h0M52.9 257.9h0M184.3 295.1h0M135.3 294.8h0M131.6 297.4h0M48.9 250.1h0M49 254h0M49.2 235.9h0M122 296.3h0M91.3 286h0M124.4 295.2h0M52.5 274.7h0M110.4 301h0M129.8 294.7h0M142.4 300.4h0M207.5 316h0M72.5 289.2h0M109.3 293.7h0M128.8 298.5h0M163.2 308.1h0M54.9 270.9h0M152.5 307.7h0M86.6 281.5h0M49.9 232.1h0M95.6 298.4h0M49.9 248h0M53.6 258h0M49.7 257.8h0M109.7 294.7h0M53.5 255.1h0M63.6 278.4h0M79.5 284h0M51 259.4h0M147.8 311.2h0M125.5 288.9h0M49.5 247.5h0M123.3 296.2h0M93.1 290.4h0M47 264h0M60.8 287.6h0M50.6 231.4h0M129 299.4h0M83.6 277.2h0M48.5 248.5h0M96.7 297.1h0M99.2 299.6h0M57.8 263h0M130.5 291.9h0M48.6 259.6h0M81.7 286.8h0M111.7 294.8h0M51.4 250.3h0M173.8 310.9h0M79 287.7h0M50.7 265.6h0M119.7 297.4h0M66.5 279.7h0M55 281.2h0M50 255h0M66.3 288.9h0M116.4 291.7h0M87.5 270.8h0M100.3 294.1h0M128.7 298.4h0M55.4 294.1h0M111.4 295.5h0M133.1 296.6h0M149.5 322.5h0M51.6 259.8h0M80.7 287.9h0M47.5 242h0M105.3 296h0M88 277h0M139.3 306.3h0M56.2 272.6h0M50.8 265.6h0M97.2 294h0M172.3 302.8h0M139.7 301.5h0M53.7 256.2h0M129.9 301.9h0M83.1 283.1h0M48.7 239.6h0M113.4 293.6h0M146.9 313.8h0M175.7 301.4h0M208 342h0M58.3 263.6h0M118.1 292.8h0M176.3 304.7h0M98.5 299.2h0M142 308.6h0M50.8 248.7h0M130.9 296.5h0M117.5 295.7h0M109.5 292.3h0M177 307.3h0M173.8 299.2h0M139 298.4h0M116.4 294.6h0M91.6 291.7h0M120.2 298.3h0M59.6 289.7h0M125.7 297.8h0M119.5 293.8h0M132.3 305.4h0M84.1 278.2h0M51.6 255.1h0M173 293.4h0M132.4 295.6h0M61.3 277.4h0M56 293.7h0M187.2 313.1h0M75.1 287.3h0M49.2 229.1h0M89.9 288h0M114.2 303h0M53.1 271.6h0M59.8 271.5h0M178.5 309.9h0M60.1 285.3h0M47.9 252.8h0M104.8 288.6h0M142 303.2h0M56.9 274.9h0M83 293h0M88.6 272.2h0M62.3 284.5h0M110.2 293.5h0M65 288.6h0M47.9 238.3h0M124.2 296.4h0M57.7 267.6h0M55.1 262.9h0M105.9 289.2h0M54.8 286.9h0M83.6 287.6h0M139.4 300h0M135.5 299.9h0M83.2 280.9h0M58.2 270.7h0M192 295h0M49.6 226.4h0M187.3 306.6h0M64.5 276.3h0M206 313h0M47.7 248.7h0M118 296.1h0M62.5 291.5h0M60.7 285h0M64.1 274.4h0M67.3 287.3h0M136.4 302.4h0M70.3 285.5h0M152.8 313.6h0M91.6 290.2h0M63 291.2h0M70.6 280.7h0M55.9 290.5h0M46.9 251.6h0M157.4 302.9h0M127.7 294.4h0M107.1 291.1h0M84.3 275h0M61.9 279.3h0M99.2 297.2h0M96.2 299.8h0M159.5 305.7h0M105.9 292h0M50.6 236.4h0M130.6 299.3h0M99.8 301.1h0M167 302.2h0M58.4 283.9h0M53.8 285h0M47.2 252.9h0M83.4 283.6h0M70.3 287.8h0M48.5 256.3h0M48.9 233.1h0M117.9 294.4h0M57.3 288.2h0M81.1 289.3h0M103.4 294.4h0M122.4 292.7h0M137.2 299.5h0M74.8 290.4h0M145.9 307.7h0M102.8 300.4h0M54.3 259.2h0M60 271.3h0M113.5 292.4h0M69.8 279.2h0M91.8 294.5h0M98.2 301h0M139.9 302.7h0M166.7 307.9h0M101.9 296.1h0M126 295.6h0M72 281.7h0M50.4 266.4h0M51 244.2h0M49.4 235.7h0M65.2 281.3h0M67.8 291.8h0M55.9 281.7h0M89.7 279.8h0M117.6 292.6h0M61.7 280.8h0M126 293.7h0M49.4 249.1h0M124.8 298h0M164.6 298.8h0M58.3 283.4h0M55.7 291h0M77 281.2h0M53 258.7h0M115.8 296.1h0M54.2 266.6h0M110.6 292.2h0M52.9 248.3h0M144.8 310.5h0M61.1 280.4h0M112.7 297.9h0M51 268.3h0M107.2 295.5h0M50.3 222.5h0M58.5 272h0M191.5 306.1h0M86 270.7h0M53.8 284.6h0M54.7 286.9h0M94.8 295h0M206 320h0M50.6 242.5h0M49.7 251.8h0M50.1 227h0M77.3 280.9h0M53 272.6h0M47.8 240.3h0M124.2 289h0M52.6 281.6h0M58.5 272.9h0M137.6 304.6h0M109.5 291.4h0M129.2 293.3h0M88.8 283.7h0M121.2 294.9h0M49.6 248.6h0M151.8 312h0M86.5 275.9h0M107.1 296.9h0M51.4 263.6h0M53.7 292h0M129.2 302h0M142.2 299.1h0M136.3 293.3h0M49.8 244.1h0M102.6 290h0M52.1 270.4h0M51.5 249.9h0M58.6 289.6h0M179.9 309.1h0M121.9 292.6h0M125.7 299.2h0M54.8 267.2h0M53 262.8h0M103.5 295.7h0M52.7 262.6h0M94.5 290.2h0M178.8 309.5h0M62.5 284.2h0M108.8 291.4h0M49.9 265.6h0M137.5 310.3h0M46.8 260h0M154.7 307h0M110.8 295.8h0M192.2 278h0M152.4 306.9h0M73.2 289.8h0M52.1 252.7h0M141.7 297.1h0M112.9 298.4h0M201 305h0M149.4 312.1h0M80 288.7h0M61.9 291.5h0M62.5 283.7h0M50.8 266h0M132.5 300h0M50 254.9h0M51 239.3h0M49.8 260.4h0M111.4 291.6h0M74.3 285.4h0M87.7 277.8h0M138.2 297.3h0M55.1 293.9h0M60.1 293.8h0M71.8 287.9h0M57.5 274.2h0M108.9 293.7h0M56 270.9h0M166.1 301.9h0M50.4 263.1h0M96.8 294.2h0M105.3 298.6h0M52.6 246.6h0M173.1 302h0M62.8 276.3h0M135.2 296.7h0M54 290.4h0M55.8 293.2h0M51.8 242.3h0M53.1 258.6h0M132.8 292.6h0M118.2 288.4h0M84.3 276h0M141.3 309h0M93.2 297.8h0M57.7 294h0M54.5 291.2h0M223.5 340h0M54.1 269.3h0M58.8 284.8h0M67.6 277.4h0M104.5 300.4h0M52.7 262.1h0M143.8 313.5h0M50.1 236h0M70.3 292h0M146.4 306.6h0M173.3 296.8h0M77.6 289.7h0M109.1 294.8h0M130 295.2h0M51.6 271.5h0M97.6 295.3h0M89.6 290.4h0M128.9 295h0M58.5 273.6h0M133.6 304.6h0M90.3 279.4h0M129.6 295.8h0M60.4 285.3h0M131.5 296.1h0M115.1 301.3h0M137.3 300.7h0M79.5 287.5h0M52.6 280.4h0M59.7 275.5h0M166.1 302.3h0M49.8 238.3h0M131.9 299.4h0M99.1 300.8h0M102 297.5h0M58.5 263.4h0M116.7 293.3h0M47.7 241.2h0M160.9 299.9h0M50.9 243h0M92.2 288.5h0M88.2 275.9h0M96.3 303.9h0M216 332h0M183 301.7h0M53.4 280h0M119.4 291.3h0M138 301.5h0M50.6 225.9h0M110 298.2h0M51.2 266.2h0M53.9 252h0M52.6 250.2h0M104.8 299.5h0M198 303h0M49.9 247h0M114.2 296.9h0M52.1 263.9h0M54.3 289.5h0M53.3 271.1h0M74.3 283.7h0M103 297.9h0M125.2 291.4h0M49.5 258.6h0M58.2 267.9h0M120.5 298.5h0M76.7 288.5h0M129.6 299.3h0M115.5 297.8h0M49 230.1h0M81.7 288.2h0M51.6 249.6h0M139.9 306.8h0M52.8 252.7h0M133.8 300.3h0M67.5 290.5h0M116.1 297.6h0M146.6 308.8h0M136 301.7h0M108.4 290.8h0M109 296.4h0M147.2 312h0M97 297.4h0M50.9 237h0M144.7 310.7h0M60.9 283.2h0M76.7 290.2h0M65 288.5h0M93.1 299.1h0M51.2 245h0M47 251.4h0M58 281.8h0M55.5 260.4h0M126.6 299.1h0M50.7 240.2h0M54.1 269.7h0M65.3 274.7h0M107.8 293.8h0M59.1 283.9h0M98.9 306.2h0M50.1 232.9h0M53.5 280.4h0M52.8 271.4h0M48.9 263.1h0M100.1 300.3h0M77.6 279.6h0M54.4 293.5h0M49.4 254.7h0M47.8 257h0M183.8 309.8h0M109.3 292.4h0M152 308.8h0M48.9 226.4h0M121.7 294.2h0M78 290.1h0M128.6 298.1h0M119 291.1h0M51.6 259.9h0M66.9 283.5h0M53.1 263.5h0M55.2 294.5h0M127.5 299h0M75.3 290.2h0M90.3 287h0M141.6 297.6h0M174.1 299.3h0M55.1 282h0M166.2 307.1h0M51.4 249.5h0M54 278.8h0M86.9 277.5h0M100.3 299.1h0M62.5 281h0M137 293.9h0M162.5 300.8h0M56.3 276.4h0M52.3 270.4h0M172.6 300.6h0M130.1 291.1h0M87.6 278.6h0M53.4 280.5h0M58.8 269.4h0M53.9 259.8h0M85.1 278.4h0M61.2 280.3h0M67.3 282h0M86.3 278.7h0M70.5 286h0M50.1 256.9h0M67.3 286.8h0M109.6 297.3h0M53.3 257h0M71.2 290.9h0M89 282.9h0M148.1 316h0M120 309h0M55.8 288.4h0M63.1 293.5h0M121.8 297.3h0M93.9 294.3h0M50.9 262.3h0M168.5 297.4h0M51.2 267.9h0M130 292.4h0M56.8 291.6h0M79.5 285.5h0M167.4 293.6h0M51.1 239.3h0M48.8 254.2h0M48.9 259.5h0M65.9 278.1h0M155.4 308.2h0M133.3 307.5h0M67.3 275h0M95.5 294.9h0M150 315h0M152 307.3h0M90.7 281.5h0M151.3 316.7h0M107.8 296.6h0M58.7 271.8h0M52.5 282h0M53 265.9h0M71.3 283h0M135.8 308.9h0M91.6 296h0M98.1 307.8h0M95.1 295.3h0M47.1 246.9h0M50.9 266.4h0M86.5 278.9h0M135 303.5h0M102 302.5h0M56.5 290.9h0M51.4 261.2h0M186.2 298.6h0M203.5 308h0M50.8 254.9h0M90.4 285.1h0M105.4 300.3h0M98.3 298.2h0M99.4 300.7h0M103.6 296.1h0M117.4 290.9h0M69 282.2h0M223.2 337.5h0M49 262h0M208 319h0M152.9 302.9h0M47.7 243.8h0M121.7 294.7h0M117.3 291.3h0M57.8 280.5h0M63.7 290h0M93.5 300.6h0M183.1 313.4h0M55.1 285.1h0M62.9 293.2h0M52.5 253.4h0M104.5 292.4h0M54.3 284.1h0M50.6 247.6h0M51.1 266.9h0M148.8 308.8h0M48.8 251h0M49.5 232h0M48 272h0M175.5 301.2h0M51.7 239.2h0M116.9 299h0M103.4 292.2h0M127.2 297.2h0M54.3 254.6h0M121.2 295.1h0M54.6 289.2h0M97.5 295h0M51.8 243.6h0M49.4 246h0M52.1 254.8h0M102.5 295.1h0M161.6 304.2h0M124.6 299.5h0M122.4 297h0M48.2 240.1h0M71.5 282.5h0M139.3 304.1h0M60.2 281.4h0M131.3 306.3h0M100.5 294.1h0M140.3 303.2h0M117.5 302.4h0M134.5 304h0M49.3 238.2h0M49.3 231.1h0M58 271.6h0M185.2 313h0M106.7 289.9h0M59.7 288.4h0M139.5 303.9h0M141.3 301.8h0M148.7 306.3h0M120.5 299.8h0M211 323h0M98.5 303h0M148.1 309.4h0M61.9 281.4h0M47.3 249.5h0M111.2 293.3h0M168.9 308.9h0M74 286.7h0M53.4 280.4h0M52.7 252.9h0M134.6 292.2h0M145.3 312.2h0M89.7 290.6h0M99.9 292.7h0M85.5 274.5h0M74.3 284.5h0M49.7 262.3h0M48.7 264.2h0M138.2 293.3h0M170.4 308.9h0M62.3 281.7h0M128.8 297.8h0M127.5 305.6h0M67 285.7h0M131.5 298h0M124.1 298.9h0M47.9 250.4h0M145.4 311h0M83 279.1h0M52.5 276.8h0M50.6 222.4h0M114.9 298.7h0M115.2 299.3h0M47.5 242.9h0M51.1 268.1h0M130.9 292h0M53.8 273.2h0M133 302h0M164.8 301.9h0M50.6 248.2h0M188.8 311h0M58.2 277.2h0M139 300.9h0M95.6 289.3h0M123.2 303.9h0M205 311h0M50.1 262.1h0M121 291.3h0M125.2 301.9h0M139 298.5h0M54.7 270h0M50.4 238.8h0M121.1 303.2h0M80.4 284.4h0M52 277.2h0M186.5 305.6h0M54.4 287.2h0M54.2 275.7h0M75.7 286.6h0M68.6 277.5h0M114.6 288.2h0M48.4 241.9h0M132 293.1h0M104.9 290.1h0M89.9 288.3h0M104.7 289.3h0M148.9 312.7h0M119.1 302.5h0M121.8 297.1h0M60.1 292.1h0M51.8 245.2h0M138.4 296h0M58.6 270.6h0M54.7 287.8h0M55.5 289.4h0M82.8 283.4h0M48.9 262.8h0M69.6 279.9h0M60.5 278.6h0M49.2 250.6h0M154.4 308.3h0M75 287.5h0M119.9 295h0M130.7 301h0M55.7 277.9h0M47.9 255.4h0M70.4 285.6h0M51.8 257h0M148 303.2h0M71.8 289.7h0M97.3 294.5h0M109.1 297.1h0M135.7 300.2h0M189.1 303.9h0M52.4 266.7h0M170.6 297.3h0M200 301h0M99.1 301h0M110.7 294.6h0M48.8 256.4h0M179.7 290.4h0M77.8 286.5h0M93.3 291.3h0M64.4 292.7h0M50.4 245h0M147.3 304.4h0M93.5 296.2h0M55.4 287.1h0M143.5 307h0M55.7 281.9h0M193.5 282h0M184.2 301.9h0M55 278h0M54.7 284.9h0M56.9 293.1h0M136.9 303.9h0M189.9 317.5h0M71.5 285.5h0M55.7 274.8h0M83.1 286.9h0M50 245.4h0M60.9 287.1h0M92.8 285.1h0M50.7 230h0M87.1 281.6h0M49 226.4h0M59.1 284.8h0M52.1 268.7h0M90.6 293.8h0M118.2 296.4h0M48.4 241.6h0M86.4 276.5h0M121.8 288.5h0M96.3 290h0M64 290.6h0M49.5 236.3h0M159.7 307.5h0M79.5 287.7h0M120.4 296.3h0M184.7 298.5h0M142.7 310.2h0M166.7 296h0M143.7 302.8h0M125.2 302.7h0M143.9 307.9h0M103.2 294.5h0M158 286h0M52.5 275.8h0M107.7 295.2h0M189.9 309h0M156 306.8h0M74.2 285.5h0M70.1 286.4h0M164.4 307.1h0M49.2 259.8h0M174.4 293.5h0M59.9 275.9h0M104.1 294.1h0M91.7 295.4h0M53.6 290.3h0M48.1 241.3h0M120.3 293.7h0M49.2 263.3h0M53.1 250.9h0M124.5 295.6h0M202 303h0M110.8 295.2h0M145 319h0M129.4 294.1h0M147.4 302.5h0M170.7 297.5h0M97.6 303.9h0M59.7 289.7h0M57.9 272.2h0M52.3 279.6h0M117.6 301.6h0M174.7 306.1h0M50.6 229.5h0M157.3 310.7h0M135.6 297.8h0M187 300.2h0M51.3 268.2h0M72.2 290.5h0M79.8 285.7h0M130.9 297.5h0M52 269.3h0M103.5 303.8h0M54 270.3h0M137.9 296.5h0M93.6 294.8h0M93.8 292.2h0M64.7 291.2h0M59.8 268.9h0M126.5 295.4h0M48.2 259.4h0M88.2 277.1h0M62.8 289.1h0M120.6 300.1h0M66 294h0M58.5 269.5h0M95 293.1h0M136.3 300.4h0M110.7 288.6h0M106.8 290.1h0M139.9 301.1h0M53 266h0M99 315h0M54 275.4h0M168.5 307.8h0M115.2 297.1h0M223 316h0M51.6 273.2h0M165 293.2h0M60.6 279.3h0M223.5 360.4h0M70.9 289.1h0M49.8 240.2h0M57.9 268.7h0M73.2 290.9h0M49 246.4h0M117.5 292.8h0M145.7 301h0M128.5 301.3h0M50.8 236h0M69.4 288.8h0M137.8 292.2h0M55.7 289.5h0M57.2 290.4h0M65.6 292.2h0M127.3 297.3h0M51.8 271.1h0M124.4 300.8h0M54.8 281.2h0M49.1 255.9h0M151.6 310.4h0M72.5 282.7h0M49.1 253.9h0M104 297.9h0M93.5 294.2h0M90.2 281.7h0M105.1 293.8h0M194 297h0M87.6 285.9h0M131.5 304h0M116.3 298.9h0M49.9 249h0M104.6 293.8h0M127.4 291h0M49 247.8h0M92.6 286.5h0M136.5 293.8h0M89.1 285.4h0M183 313.4h0M50.2 239.9h0M51.8 252.5h0M50.5 258.9h0M152.7 308.7h0M58.5 287h0M50.6 241.5h0M59.1 278.5h0M56.3 288.9h0M91.8 281.7h0M53.1 261.7h0M62.1 285.7h0M91.5 279.7h0M83.4 277.7h0M176.5 303.3h0M51.7 262.1h0M137.7 305.4h0M49.9 255.9h0M154.7 302.9h0M127.9 292.6h0M93.5 290.1h0M57.1 275.4h0M108.7 287.1h0M54.8 256.4h0M51.9 277.1h0M122.6 300.7h0M133.4 304h0M107.9 299.9h0M67.2 275.7h0M193 292h0M120.2 303.5h0M50.3 249.4h0M149.1 317.7h0M52.8 285.7h0M67.6 280.6h0M56.4 271.2h0M90.5 277.4h0M58.4 289.5h0M128 301.6h0M103.2 293.3h0M50.6 265.8h0M60.5 291.6h0M49.4 253.3h0M73 283.1h0M141.8 305h0M141.2 304.3h0M49.8 236.9h0M51.1 242.5h0M115.8 296.9h0M86.8 279.9h0M57.6 283.1h0M153.6 300.1h0M148.9 308.7h0M47.8 261.5h0M104.9 296.9h0M130.3 289.3h0M167.8 315.3h0M174.2 298.7h0M148.2 313.8h0M108.3 301.2h0M57.6 281.4h0M145.5 303.2h0M69.5 276.7h0M131.3 295.8h0M52.4 262.8h0M53.4 281.4h0M152 311h0M57.8 291.4h0M58.9 275.9h0M160.5 300h0M89.9 288.1h0M58.3 285.9h0M117 302.8h0M47.6 241.8h0M182.3 306.4h0M80.6 285.4h0M76.7 287.1h0M63.2 288.3h0M73.6 279.5h0M57.1 292.5h0M67.9 283.6h0M198 296h0M54.4 257.3h0M91.8 296.2h0M151 305.9h0M58.6 273.7h0M108.8 292.2h0M116.8 297.8h0M51.5 242.1h0M98.6 311.4h0M57.7 268.8h0M57.6 287.8h0M133.1 300.9h0M82.9 286.6h0M169.5 311.2h0M86.2 278.1h0M85.5 276.1h0M132.4 291.6h0M142.9 306.6h0M202 332h0M133.5 290.6h0M148.7 317.6h0M143.8 300.7h0M102.3 292.6h0M142.5 304.3h0M139.5 294.4h0M83.8 283.2h0M50.8 246.7h0M191.2 311.9h0M96.9 297.4h0M54.5 255.6h0M135.8 302.9h0M98.3 297.3h0M54.4 260.7h0M149.2 314.9h0M61 275.1h0M59.8 272.9h0M114.9 291.4h0M102.5 301.2h0M182 306h0M104.9 291.1h0M99.7 296h0M110.9 293.4h0M142.4 302.8h0M47.5 254.9h0M194.5 284h0M59.1 267h0M132.8 295.8h0M54.4 276.1h0M185.4 308.2h0M70.6 286.9h0M211.5 314h0M57 293.5h0M57 285.1h0M52.8 254.2h0M184.2 315.8h0M57.7 294.1h0M180.1 312.5h0M69.6 292h0M50.2 264.8h0M72.3 282.7h0M129.9 290h0M67.1 276.9h0M184.1 308.7h0M78 288.4h0M147.9 309.8h0M123.1 300.5h0M53.3 276.8h0M52.8 264.6h0M201.2 289.5h0M53.4 278.5h0M125.9 293.2h0M135 298.8h0M97.8 304.6h0M56.5 265h0M47.9 263h0M55.6 276.9h0M142.4 307.9h0M119.8 296h0M58.8 276.9h0M98.2 303.6h0M49.7 242.4h0M78.6 286.7h0M49.1 227.7h0M119.8 290.2h0M99.1 302.2h0M48.5 227.7h0M155.7 301.2h0M148.7 308.1h0M53.6 282.6h0M46.8 248.7h0M55.1 276.6h0M61.1 281.1h0M117.6 301.4h0M51.8 268.3h0M51.9 275h0M87 275.8h0M98.9 306.5h0M49.3 261.9h0M47.7 260.8h0M66.3 291.4h0M57.4 266.9h0M102.5 291h0M57.4 262.6h0M83.3 285.6h0M140.8 302.8h0M128 290.4h0M92.1 289.4h0M107.5 296.1h0M141.5 300.2h0M157.5 306.8h0M136.4 300.2h0M133.3 296.8h0M50.6 247.3h0M49.8 241.1h0M89.4 282.3h0M53.6 279.1h0M147.9 310.9h0M156.2 315.9h0M103.8 294.7h0M63.3 278.9h0M73 296h0M95.2 294.7h0M53.3 288.8h0M160.2 312.6h0M49 243.1h0M137.6 305.6h0M159.4 304.5h0M138.6 304.5h0M49.4 244.4h0M91.6 281.2h0M118.2 301.3h0M179.4 310.6h0M52.2 272.1h0M51.5 232.6h0M124.4 302.9h0M93.8 289.7h0M115.4 297.8h0M50.6 242.1h0M108.6 292h0M49.9 265.7h0M51.6 268h0M49.7 247.9h0M49.5 264.9h0M154.3 306.7h0M71.3 291.6h0M47.3 252h0M115.8 297.2h0M49.5 245.8h0M49.9 265.2h0M67.1 282.7h0M152 312.6h0M59.5 276.8h0M89.4 272.8h0M129.2 295.1h0M137.2 307.2h0M119.2 296.7h0M200.6 295h0M67.8 290.3h0M193 274h0M52.2 256.3h0M93.4 294.6h0M97.9 301.3h0M54.3 291.5h0M88.4 272.1h0M54.3 273h0M83.1 283.1h0M119.6 300.6h0M90.2 289.9h0M187.8 299h0M76.6 288.6h0M59.4 291.9h0M72.5 281.1h0M104.6 302.2h0M144.8 304.3h0M171.7 309.6h0M122.8 298h0M125.5 294.4h0M145.7 310h0M114.5 295.2h0M50.2 252.8h0M146.6 308.3h0M68.8 283.5h0M121.2 290.9h0M59.6 290.1h0M60.2 282h0M69.8 279.4h0M49.6 250.6h0M114.9 296.5h0M49.2 242.3h0M60.1 277h0M48.3 230.1h0M47.5 246.4h0M101.7 298.4h0M58.5 291.8h0M135 296.4h0M54.4 264.5h0M147.6 302.4h0M74.6 287.9h0M59.1 289.1h0M56 284.1h0M54.8 277.4h0M165.3 311.1h0M54.7 269.4h0M146 315.8h0M65.2 288.6h0M188.6 301.8h0M118.5 292.8h0M139.4 305.4h0M191 321h0M55.1 277.5h0M49.3 224.1h0M130.8 298.9h0M49.7 244.6h0M56.5 276h0M48.5 239.3h0M172.4 293.1h0M51.6 255.9h0M136.3 295.7h0M54 262h0M105.4 297.3h0M125.5 291.1h0M100.5 302.2h0M47.8 244.9h0M73.7 282.3h0M57.7 275.5h0M92.4 285.7h0M89.5 277.2h0M58.8 276.9h0M144 303.4h0M61.5 290h0M50.4 260.9h0M49.9 222.6h0M56.2 270.6h0M53.9 258.7h0M58 292h0M53.1 266.3h0M101.6 304.4h0M48.7 234.4h0M61.4 281h0M172.2 305h0M114.3 295.3h0M163.7 291.7h0M55 292.2h0M160.6 311.2h0M49.4 227.6h0M49.2 240.1h0M118.7 296.1h0M60.9 277.5h0M127.7 301.7h0M115.4 292.3h0M136.8 299.3h0M72.1 288.3h0M48.5 263.7h0M111 294.1h0M123.6 291.2h0M86.9 272.5h0M83.9 282.4h0M64.1 272h0M59.4 285.2h0M57.9 282.6h0M55 259.8h0M83.7 284.8h0M51.1 256.3h0M119.6 292.4h0M207 309h0M65.6 286.6h0M60.3 287.5h0M55.7 274.8h0M66.2 287.3h0M50.5 233.9h0M123.2 300.1h0M50.8 259.4h0M137.9 300.7h0M81.5 279h0M56.8 275.6h0M51.8 276.1h0M203 300h0M46.6 251.5h0M72.9 282.2h0M95.1 291.9h0M55.9 272.1h0M48.3 233.2h0M104.9 294.6h0M164.8 293.2h0M97.4 293.2h0M96.5 297.4h0M182.1 302.9h0M47.9 257.6h0M97.5 297.8h0M54 258.1h0M106.3 287.1h0M124.9 302.3h0M159.2 315.8h0M129.1 306.7h0M117 300.2h0M133.9 302.4h0M105.5 298.7h0M46.4 268h0M47.9 256.7h0M49 228.9h0M50.2 243.7h0M65.6 284.8h0M205.5 317h0M60.1 282.5h0M151.3 306.1h0M146.1 310.8h0M50.9 250h0M80.3 288.4h0M138.1 305.5h0M141.9 307.4h0M172.8 297.8h0M142.4 303.5h0M75.6 284.7h0M55.2 291.9h0M69.6 291.2h0M70.1 283h0M125.7 297h0M123.9 294.1h0M124.4 295.4h0M49 246.9h0M102.6 291.3h0M49.5 242.6h0M101.9 298.1h0M52.4 250.8h0M49.2 242h0M58 280.8h0M48.7 254.3h0M53.1 257.2h0M52.4 267.7h0M57 263.8h0M94.8 296.4h0M105.6 298.6h0M136.3 297.1h0M51.6 255.5h0M61.8 275.9h0M51.5 241.1h0M127.4 297.7h0M191.3 305.5h0M223.6 327.5h0M173 299.5h0M128.3 297.6h0M52.2 277.9h0M51.2 266.1h0M86.2 281.5h0M143.5 306.6h0M50.4 255.8h0M98.5 303.7h0M125.3 295.1h0M87 276.1h0M53.6 259.7h0M143.3 311.7h0M54.7 274h0M144.4 305.7h0M138.8 301.2h0M183 300.5h0M130.9 296.9h0M188.3 314h0M56.9 266h0M54.1 290.5h0M133.9 304.2h0M55.5 284.9h0M102.5 299.4h0M57.6 286.6h0M138.6 303.6h0M46.9 248.5h0M97.2 305.8h0M52.9 264.1h0M50.5 249.8h0M92.5 294.6h0M83.1 281h0M48 246.9h0M105.6 288.2h0M51.2 249h0M142.7 306.8h0M78 289.8h0M53.9 254.7h0M57.7 293.6h0M48 254.4h0M139.7 301.4h0M141.6 304.9h0M95.3 294.8h0M134.1 301.6h0M147 320h0M54.3 292.6h0M54.7 268.1h0M50.7 246.4h0M179.4 304.5h0M77.4 286.2h0M93.4 288.2h0M54.8 258h0M84.8 272.6h0M57 282.6h0M159.5 295.6h0M117.4 296h0M53.3 281.5h0M54.1 260.1h0M50.6 227.2h0M52.5 277.7h0M58.3 290.7h0M133.1 293.9h0M48.3 261.5h0M79.3 286.3h0M157.1 300.5h0M57.6 281.1h0M50 231.8h0M66.2 292.2h0M50.2 250.2h0M140.3 301.2h0M166.6 300.5h0M55.8 264.4h0M53.1 264.7h0M88 286h0M128.3 294h0M53.4 282.3h0M135.7 297.7h0M165.9 303h0M133.6 299.1h0M52 262.6h0M102.3 293.3h0M142.4 299h0M127.9 297.5h0M177.1 310.2h0M187.9 301.7h0M56.9 264.5h0M60.7 289.7h0M56.9 294.3h0M145.9 311.4h0M70.2 289.9h0M55.1 266.7h0M109.9 296.3h0M137.8 299.9h0M51.6 250h0M57.6 291.5h0M56.1 267.4h0M112.8 295.1h0M104.1 287.9h0M96 300.5h0M50.9 237.8h0M49.4 241.7h0M182.1 302h0M189.6 299.8h0M190.4 315.1h0M53.6 291.6h0M95.8 299.4h0M58.7 266.6h0M60 280.4h0M64 286.3h0M126.5 300.9h0M191.3 302.3h0M120.2 299.8h0M54.7 279h0M145.8 306.9h0M100.8 293.9h0M201 287h0M56.3 265h0M100.6 295.6h0M186 318h0M144.5 309.6h0M65.1 287.1h0M145.3 298h0M48.6 250.8h0M108.4 289.6h0M54.1 285.7h0M124.5 291.3h0M51.2 258.5h0M53.5 264.4h0M50.7 256.4h0M130.6 289.3h0M52.7 267.7h0M48.6 252.2h0M121.7 300.2h0M89.2 281.2h0M94.7 300.6h0M108.3 294.2h0M113.4 288.2h0M130.3 295.7h0M53.3 253.8h0M52.6 246.2h0M147 306.8h0M48 239.5h0M56.2 284.1h0M196 295h0M51.5 271.8h0M48.4 248.4h0M191.9 300.3h0M56.9 273.2h0M120.8 297.6h0M89.8 278.2h0M127.3 298.6h0M54.3 289.3h0M81.7 285.9h0M161.7 294.3h0M51.6 249.8h0M145.9 310.8h0M99.1 292.8h0M128.9 294.2h0M52.3 281.1h0M108.7 289.8h0M71.3 284h0M53.6 270.5h0M51 241.7h0M133.8 299.1h0M86.8 273.1h0M112.2 297.6h0M172.6 310.6h0M125 301.6h0M157.1 308h0M100.7 294.1h0M134.4 301.5h0M74.8 282.9h0M100.6 314.5h0M51.4 235.6h0M152.6 300.5h0M76.7 283.5h0M53.4 257.5h0M131.6 297.4h0M56.8 292.3h0M136.4 296.6h0M82.6 286.4h0M103.9 290.4h0M223.3 342.6h0M85.7 279.6h0M117.4 300.4h0M47.4 244.7h0M50.4 245.2h0M59.4 280.8h0M102.2 301.9h0M137.9 307.1h0M118.6 297.5h0M69.9 290.2h0M57.3 266.9h0M115.9 294.8h0M124.3 301.8h0M56.8 284.7h0M157.3 310.6h0M143 302h0M157.1 307.7h0M87.1 272h0M65.1 291.8h0M140.6 295.9h0M83.1 283.5h0M76.9 290h0M79.7 286h0M50.7 238h0M118.5 297.4h0M110.7 296.7h0M98.4 303.4h0M56.7 266.1h0M149.4 315.3h0M223.4 320h0M86.3 274.1h0M67.2 288.2h0M85.3 276.5h0M103.4 302.5h0M183.6 295.7h0M48.5 262h0M182.5 297.1h0M129.7 290.1h0M47.3 258.2h0M56 282h0M199.5 306h0M52.3 254.2h0M53 271.2h0M87 279.4h0M53.3 279.3h0M97.5 299.8h0M50.4 245.3h0M47.9 241.8h0M53.2 285.4h0M48 253.4h0M72.7 280.2h0M146.7 305.9h0M53 273.3h0M189.1 302.8h0M139.6 303.2h0M209.5 321h0M69.8 284.9h0M137.2 300.8h0M118 295.2h0M57.9 292.8h0M123.3 293.7h0M60 293h0M53.3 250.3h0M51.5 261.5h0M49.3 263.8h0M101.1 294.7h0M49.4 233.2h0M130.6 297.9h0M73.2 280.1h0M47.9 260.1h0M134.3 307.2h0M57.5 288.7h0M54.6 290.9h0M129.7 297.5h0M51.4 237.1h0M76.2 289.9h0M127.8 305.7h0M98.4 302.8h0M98 299.3h0M53.7 254.5h0M154.5 296.8h0M104.2 296.7h0M52 260.9h0M55.6 271.8h0M55.5 279.4h0M143.4 299.6h0M180.1 307h0M142.5 294.8h0M98.3 300h0M87.5 281.2h0M155.7 309.3h0M101.3 293.4h0M63.9 292.8h0M51.5 259.2h0M50.1 251.8h0M97.5 311h0M52.9 258.9h0M93.2 291.3h0M138.4 306.4h0M99.2 297.9h0M52.4 274.1h0M112.9 293.1h0M78.5 287.4h0M60.2 287.4h0M162.1 299.3h0M69.5 277.9h0M82.6 287.5h0M55.6 258h0M73.1 282.7h0M123.1 297.1h0M70 293h0M48.8 228.4h0M99.9 300.8h0M48.1 249.9h0M56.3 285.4h0M58.4 290.5h0M89.7 281.4h0M90 285.6h0M86.7 276.7h0M111.9 290.1h0M94.2 288.5h0M54.6 288.7h0M116.7 298.8h0M61.7 293.5h0M57.3 271.5h0M87.5 275.9h0M137.2 303.7h0M50.8 240.8h0M63.6 287.9h0M56.8 274.1h0M144 302.5h0M106 287.9h0M52.6 271.6h0M86 291h0M51.4 255.1h0M54 284.9h0M71.9 281.3h0M85.6 277.1h0M148.6 311.8h0M145.2 303.7h0M61.5 279.6h0M50.4 242.2h0M55.6 281.4h0M223.3 329.5h0M53.1 270.4h0M162.4 312.2h0M109.4 297.1h0M141.2 297.7h0M100.1 294.8h0M131.4 292h0M68.1 276.1h0M87.7 285.8h0M181 316h0M54.2 274h0M125.5 294.8h0M126.6 297.2h0M52.9 252.5h0M88.3 279.6h0M108.3 295.7h0M51.3 261.7h0M51.9 259.6h0M50.9 234.8h0M82.7 277.6h0M55.2 265.3h0M51.6 236.6h0M50.3 235.5h0M149.3 317.9h0M53.1 276.8h0M130.8 295.6h0M125.3 298.7h0M51.1 255h0M69.9 289.2h0M99.7 304.4h0M84.3 284.9h0M101 320.4h0M93.8 294.6h0M90.4 278.8h0M56.6 272.6h0M121.4 299.9h0M68.3 288.6h0M85.9 270.2h0M55.7 266.4h0M116.6 291.1h0M81 285.2h0M117.3 303.3h0M137.2 304.2h0M51.4 243.5h0M54.5 275h0M128.9 298.4h0M140.8 305.8h0M147.2 304.4h0M50.8 242.7h0M135.4 303.7h0M99.7 304.9h0M51.5 265.3h0M105.3 296h0M117.8 289.4h0M50.9 249.7h0M56.6 263.1h0M147.8 313.4h0M75.5 287.4h0M67.3 286.5h0M134.4 306.6h0M48 249.8h0M107.3 290.8h0M98.9 300.2h0M58.6 271.7h0M171.4 308.6h0M149 309.3h0M51.8 267.4h0M48.9 236.3h0M64.2 278.6h0M160.6 294.1h0M96.7 294.3h0M49.2 248.8h0M50.7 258.2h0M91.5 288.1h0M50.3 253.4h0M90.9 295.3h0M222 313h0M111.3 290.8h0M64.9 283.3h0M146.2 311.1h0M128.9 301.3h0M58.6 284.8h0M94 297.9h0M94.3 300.4h0M48.8 224.9h0M52.3 258.3h0M108.3 291.1h0M156.9 305.8h0M99 293.6h0M185.5 297.7h0M101.7 297.7h0M52.9 281.5h0M132.8 303.5h0M90.8 280h0M186.9 304h0M104.4 289h0M135.6 303.7h0M78.2 289.3h0M56.7 264.8h0M53.5 288.6h0M197 299h0M178.4 309.3h0M144.7 307.9h0M135.7 305.2h0M142.1 311.4h0M51.9 277.3h0M162.6 293.4h0M128.4 295.4h0M134.2 296.2h0M133.4 296.6h0M107.6 288.6h0M52.5 261.6h0M49.1 254.1h0M50.4 255.4h0M75.3 281.5h0M50.6 228.3h0M212 318h0M61.3 285.6h0M176 304.3h0M77.6 290.1h0M49.6 257.7h0M57.9 284.4h0M50.6 241.2h0M126.3 297h0M47.1 255.3h0M52.7 272.2h0M100.8 302.8h0M114.1 293.9h0M55.7 289.2h0M143.3 312.5h0M50.6 264.7h0M147.4 303.6h0M97.8 300.1h0M146.3 300.8h0M90.2 277.1h0M51.1 231.1h0M81 282.4h0M48.7 229.7h0M151.2 300.8h0M127.2 296.4h0M54.1 289.8h0M48.9 229.5h0M109.4 299.3h0M65.1 277.7h0M135.3 294.5h0M115.3 292.2h0M47.3 254.6h0M223.4 355h0M79.7 289.1h0M51.1 248.2h0M55 277.2h0M52.6 276.7h0M52.3 275.9h0M52.6 269.7h0M134.6 297.7h0M49.6 244.7h0M120.8 294.3h0M90.5 283.6h0M49.1 226h0M149.3 307.9h0M124.8 293h0M125 300.5h0M50.3 260.6h0M143.1 305.2h0M187.7 308.6h0M54.5 270.5h0M52.3 251.5h0M59.2 290.1h0M64.8 289.3h0M117.4 292h0M49.8 241.5h0M77.5 287.1h0M132.2 301.8h0M59.3 293.2h0M61.3 270.3h0M143 302h0M61.6 278.6h0M55.9 266.1h0M123.1 297.1h0M48.4 246.2h0M69.7 286.6h0M52.7 266.6h0M79.2 289.3h0M109.2 287.7h0M50.3 241.7h0M51.7 257.9h0M101.6 303.7h0M47.9 259.7h0M93.9 297.5h0M88.4 278.2h0M50.1 253.1h0M56.9 268.6h0M62.4 288.8h0M80 288h0M165.1 294.5h0M66.7 283.7h0M120.2 297.9h0M65 289.3h0M49.9 236.6h0M52.3 254h0M210.5 316h0M49 236.3h0M86.3 277.3h0M103.8 296.2h0M58.3 272.9h0M153 308h0M162.9 313.5h0M126.1 299.4h0M66.2 286.8h0M86.1 278h0M134.2 295.2h0M137.5 290.7h0M101.8 296.9h0M62.5 293.4h0M92.3 285.5h0M140.6 305.8h0M54.6 275.9h0M148.9 316.1h0M130.4 295.3h0M58.2 293.4h0M52.9 281.8h0M49.9 263.6h0M109 289.6h0M120.7 292.1h0M49 242.4h0M113.6 293h0M153.7 296.8h0M154.4 301.6h0M160.6 308.5h0M142.2 305.6h0M168.3 301.7h0M181.4 301.6h0M51.8 271.2h0M56.9 291.4h0M87.4 271.1h0M90.6 288.1h0M110.1 286.8h0M130.5 301.6h0M47.5 252.9h0M152.8 303.6h0M190.3 317.2h0M50.4 235.5h0M146.4 306.9h0M52.5 279.8h0M107.1 294.6h0M135.2 307h0M64.7 289.8h0M136.7 302.8h0M129.7 290.7h0M143.1 313.1h0M51.1 257.7h0M120.3 297.3h0M47 246.1h0M50.4 235.4h0M49.3 230.8h0M53.6 288.3h0M114.7 288.2h0M157.7 314.1h0M124.9 290h0M73.2 291.1h0M101.1 300.2h0M55.7 267.5h0M59.6 285.3h0M52.5 277.7h0M51.3 243.9h0M147.7 309.6h0M50.4 251.5h0M107.3 293.7h0M125.2 297.9h0M59.4 286.4h0M145.4 302h0M117.1 290h0M132.3 306.6h0M122.9 295.9h0M103.2 298.6h0M90.7 284.5h0M116.7 302.9h0M142.3 304.9h0M49.3 255.1h0M87.3 275.7h0M100.6 297h0M71.2 284.5h0M51 253.7h0M55.3 271.1h0M105.5 291h0M130.5 291h0M57.9 262.7h0M47.4 256.8h0M116.8 293.3h0M84.9 275.2h0M112.1 295.1h0M50.4 263.6h0M158.5 293h0M105.3 290h0M48.7 261.3h0M119.9 295.2h0M98.6 303.9h0M83.2 282.7h0M57.7 267.7h0M56 275.4h0M68.5 286h0M48.3 259.9h0M51.8 241.6h0M48.7 242h0M52.4 281.3h0M56.3 292.2h0M55.3 280.9h0M111.5 296.3h0M60 284.3h0M87.5 278.8h0M85.7 276.5h0M110.7 296.6h0M147.3 299.2h0M181.3 308.6h0M96.9 295h0M58.4 266.1h0M133.5 299.8h0M98.5 318h0M147.9 314.8h0M109.1 297.7h0M86.8 274.7h0M53.3 276.4h0M66.7 290.2h0M50 247.2h0M108.5 298.6h0M139.6 305.5h0M52.2 252.4h0M142.4 303.8h0M144.7 303.1h0M62 295h0M130.8 292.8h0M118.8 300.7h0M99.5 292.9h0M95.6 297.9h0M69.6 285.3h0M58.2 276h0M56.2 265.4h0M132.6 297.5h0M57.5 293.9h0M56.8 294.4h0M89.6 279.2h0M56.2 262.4h0M49.2 260.4h0M109.2 287.7h0M83.4 283.7h0M109.6 302.6h0M139.2 297.8h0M112.4 293.9h0M223.6 335h0M52 278.2h0M48.7 242.9h0M61.1 282.9h0M146.4 313.3h0M52.9 252.9h0M144.2 300h0M91.3 286.5h0M59.8 278.4h0M46.6 261.3h0M89.8 286h0M51.6 266.2h0M106.7 297.8h0M59.4 290.2h0M49.8 265.6h0M178 317h0M48.6 229h0M109.4 298.1h0M103 296.1h0M53.5 274.2h0M148.4 316.7h0M178.6 315.5h0M61.9 286.8h0M82.7 285.8h0M144.9 308.6h0M52.3 255.4h0M51.4 234.3h0M85.6 278.7h0M119.5 294.9h0M181.2 313.2h0M98.8 302.3h0M95.3 298.8h0M106.9 299h0M84.9 284.7h0M112.5 290.5h0M154 303.6h0M55.3 262.4h0M92.1 294.8h0M67.7 275.7h0M115.9 296.4h0M193.2 288h0M47.8 253.7h0M223.2 325h0M55.7 285.4h0M54.5 265.8h0M76 285.7h0M210 326h0M178.5 314.7h0M50.1 265.9h0M95.1 300.2h0M50.1 254.1h0M137.4 294.7h0M166.9 313.2h0M51.7 235.9h0M53.1 254.8h0M58.3 287.2h0M59.8 293h0M188.8 312.1h0M104.6 292.5h0M57.4 282.3h0M51.9 265.3h0M124.2 297.7h0M56.9 279.4h0M135.6 294.6h0M103.4 291.6h0M140.5 299.5h0M48 256.7h0M109 297.3h0M51.3 261.5h0M145.5 303.9h0M150.1 317.3h0M52 254.7h0M55.4 286.4h0M92.8 290.3h0M50.4 250.2h0M52.8 277.6h0M97.6 302.7h0M137.8 303.1h0M54.5 277.3h0M106.9 292.5h0M132.4 295.2h0M126.3 296.5h0M51.9 269.5h0M64.5 286.7h0M91.1 289.6h0M73.8 289.5h0M139.1 299.7h0M85.5 270.3h0M66.9 292h0M54.7 264.7h0M47.6 242.7h0M48.5 261.6h0M79.8 280.3h0M54.9 256.1h0M56.9 276.1h0M135.1 301h0M59.8 282.4h0M137.7 303.5h0M147.9 302.7h0M114.4 295.8h0M67.8 290.2h0M57.5 269.7h0M51.9 245.7h0M51.1 248h0M67.3 278.2h0M50.8 237.1h0M110.4 295.4h0M52.3 252.6h0M114.2 297.7h0M87.5 278.8h0M57.4 272.5h0M55.8 277.1h0M58 288.2h0M52.8 255.8h0M49.8 226.2h0M54.9 289.3h0M49.5 228.9h0M130.2 295.5h0M94.7 295.3h0M52.5 279.3h0M135.5 315.5h0M125.2 295.5h0M111.5 295.7h0M50.2 259.4h0M141.8 296h0M51.9 239.5h0M93.6 299.2h0M52.1 268.9h0M106.3 292.1h0M53.6 255.2h0M146.1 302.1h0M48.6 238.3h0M133.4 300.3h0M169.7 304.4h0M52.1 254.6h0M91.9 292.5h0M50.6 246.4h0M78.3 288.6h0M47.9 246.9h0M49.9 239.6h0M50.4 231h0M102 287.7h0M142.9 305.4h0M100.2 294.6h0M103.8 295.9h0M53.9 286.5h0M100 306.2h0M54.9 290.1h0M99.3 302.8h0M186.4 311.8h0M90.4 284.6h0M48.4 240.5h0M91.6 288.1h0M87.7 274h0M83.5 283.2h0M70.8 290.9h0M131.1 297.4h0M150.5 306.8h0M106.8 292.6h0M141.3 304.7h0M57.8 292.8h0" stroke="#3c7ddd" stroke-width="2.3" stroke-linecap="round" fill="none"/>
<path d="M37.8 213.4V374.7" stroke="#747474" stroke-width="1.3" fill="none"/>
<path d="M37.1 374.4H232" stroke="#7c7c7c" stroke-width="1.3" fill="none"/>
<path d="M44.8 374.5v1.9M68.1 374.5v1.9M91.5 374.5v1.9M114.8 374.5v1.9M138.1 374.5v1.9M161.4 374.5v1.9M184.8 374.5v1.9M208.1 374.5v1.9M231.4 374.5v1.9M37.8 233.4h-2.2M37.8 262.0h-2.2M37.8 290.5h-2.2M37.8 319.0h-2.2M37.8 347.4h-2.2" stroke="#747474" stroke-width=".55" fill="none"/>
<g font-size="6.85" fill="#333333">
<g text-anchor="middle">
<text x="44.8" y="383.0">0</text>
<text x="68.1" y="383.0">100</text>
<text x="91.5" y="383.0">200</text>
<text x="114.8" y="383.0">300</text>
<text x="138.1" y="383.0">400</text>
<text x="161.4" y="383.0">500</text>
<text x="184.8" y="383.0">600</text>
<text x="208.1" y="383.0">700</text>
<text x="231.4" y="383.0">800</text>
</g><g text-anchor="end">
<text x="33.8" y="235.7">0.2</text>
<text x="33.8" y="264.3">0.1</text>
<text x="33.8" y="292.8">0.0</text>
<text x="33.8" y="321.3">-0.1</text>
<text x="33.8" y="349.7">-0.2</text>
</g></g>
<g font-size="7.5" fill="#2a2a2a" text-anchor="middle">
<text x="134.9" y="392.2" font-size="7.5">DOL</text>
<text transform="translate(10.9 294.0) rotate(-90)">SHAP value for</text>
<text transform="translate(18.7 294.0) rotate(-90)">DOL</text>
</g>
<rect x="325" y="212.4" width="192.5" height="87.2" fill="#e7e7e7"/>
<rect x="325" y="284.4" width="96.4" height="15.3" fill="#cccccc"/>
<rect x="325" y="299.6" width="192.5" height="71.7" fill="#cccccc"/>
<path d="M349.6 212.4V371.3M373.7 212.4V371.3M397.6 212.4V371.3M421.4 212.4V371.3M445.5 212.4V371.3M469.5 212.4V371.3M493.5 212.4V371.3M325 230.4H517.5M325 253.5H517.5M325 276.4H517.5M325 299.5H517.5M325 322.4H517.5M325 345.4H517.5M325 368.3H517.5" stroke="#fff" stroke-opacity="0.32" stroke-width=".8" fill="none"/>
<rect x="364.3" y="313" width="18.4" height="38.5" fill="#3c7ddd"/>
<path d="M370.3 329.9h0M383 326.6h0M370 328h0M365.6 321.2h0M368.9 332.5h0M377.5 347.4h0M364.5 331h0M364.3 332.5h0M374.6 321.6h0M378.9 312.3h0M368.2 325.2h0M371 329.3h0M380.1 311.9h0M371.4 323h0M375.1 335.8h0M377.1 322.7h0M377.5 326h0M368.7 313.8h0M380.1 343h0M369.2 316.5h0M380.2 323.3h0M374 338h0M370.9 316.3h0M373.9 314.1h0M373.7 321.6h0M375.2 332.2h0M370.6 344.6h0M367.6 339h0M377.2 320.9h0M380.1 312h0M368.2 336.8h0M365.1 342h0M380.1 328.3h0M373.7 326h0M369.9 310.3h0M380.9 339.6h0M379.7 327.4h0M373.7 315h0M367.1 319.3h0M378 344.4h0M382.1 351.7h0M369.5 347.8h0M382.4 322.4h0M373.2 346.5h0M365.8 318.5h0M380.4 336h0M380 320.4h0M366.2 316.7h0M367.2 326.7h0M374.5 348.6h0M365.3 321.8h0M375 330.7h0M380.7 346.3h0M366.4 343.6h0M375.4 322.6h0M369.6 318.9h0M378.8 332h0M371 337.8h0M372.2 336.3h0M377.5 348.9h0M369.8 348.6h0M368.4 326.1h0M368.6 335.9h0M365.1 342.2h0M381.3 322h0M378.4 330.2h0M378.4 334.4h0M381.3 333.1h0M367 326h0M376.4 328.4h0M373.9 320.5h0M381.7 322.5h0M378.5 319.4h0M377.1 316.8h0M368.7 343.8h0M367.1 325.9h0M374.7 317.7h0M379.8 318.1h0M377.4 327.9h0M380.6 337h0M380.6 327.3h0M380.9 343.6h0M369.2 332.1h0M379.7 335.2h0M383 329.9h0M374.3 321h0M371.4 322.7h0M371.6 324.3h0M375.5 348.6h0M382.8 343.1h0M374.4 328.5h0M378.8 350.4h0M372.9 338.5h0M375.8 352h0M373.8 329.5h0M377.9 329h0M374.1 338.5h0M367.6 341.6h0M372.9 333.2h0M374.7 322.8h0M363.7 342.2h0M366.8 349.1h0M377.7 334.1h0M381.1 315h0M367.7 325.1h0M382.2 312.1h0M379.3 328.7h0M368.5 320.7h0M366.5 338.7h0M380.9 315.3h0M379.3 329.5h0M373 318.9h0M365.2 334.1h0M377.2 329.5h0M369.9 317.8h0M376.9 331.7h0M379 344.3h0M371.6 330.6h0M380.1 317.9h0M370.4 334.3h0M380.9 350.5h0M382.1 337h0M365.2 327.1h0M368.6 337.1h0M372.1 322.1h0M377.3 328.1h0M366.9 320.8h0M380.2 333.6h0M373.7 345.3h0M381.6 333.7h0M373.8 319.3h0M379.4 343.1h0M374.5 327.5h0M365.5 351h0M364.6 350.3h0M375.9 320.1h0M365.4 343.8h0M377.3 318.5h0M375.3 319.2h0M366 329.3h0M366.3 335.2h0M374.3 315.1h0M376.9 333.7h0M375.2 327.1h0M379.9 337.4h0M381.6 326.8h0M365.8 336.3h0M372.2 325.1h0M381.2 321.9h0M381.7 336.4h0M380.1 352.1h0M365.3 351.6h0M370 329.9h0M372.8 339.4h0M371.7 336.7h0M377.6 354.6h0M373.9 314.9h0M364.5 334.6h0M381.1 328.2h0M377 309.2h0M374.4 326.9h0M382.2 317.5h0M374.1 344.3h0M369.5 332.4h0M380.1 343.2h0M371.5 324h0M365.2 343.9h0M378 346.2h0M370 323h0M371.5 343.9h0M364.7 327.7h0M376.3 325h0M366.2 316.1h0M364.2 319.5h0M364.3 335.5h0M377 326h0M368.1 330.7h0M370.9 334.6h0M370.7 321.9h0M380.9 329.5h0M369.9 316.1h0M380.2 338.2h0M379.9 326.9h0M365.4 329.2h0M370.1 323.4h0M368.4 340.6h0M365.4 326.3h0M383 320.4h0M366.4 332.1h0M364.5 337.1h0M378.2 330.1h0M367.8 330.3h0M366.5 324.9h0M379.1 352.6h0M369.4 352.8h0M367 328.7h0M371 333.9h0M375.8 327.6h0M373.4 338.1h0M369.9 317.6h0M379.7 326.1h0M372.4 313.8h0M366.7 332.5h0M375.6 320h0M383.2 337.7h0M370.6 333.5h0M370.2 321.7h0M379.6 351.3h0M369.4 314.2h0M377.6 314.7h0M381.6 335.9h0M364.8 313.9h0M380.5 336.9h0M364 325.6h0M371.6 348.9h0M373.9 318.4h0M383.1 333.2h0M364.9 337.8h0M367.7 322.3h0M374.1 338.7h0M378.2 314.8h0M372.8 335h0M370.2 344.1h0M374.9 325.7h0M376.4 332.5h0M380.3 312h0M376.3 326.1h0M370.4 321h0M381.9 334.8h0M371.2 337.3h0M367.3 334.1h0M377.1 314.5h0M371.2 318.2h0M373.5 327.4h0M367.8 329h0M367.5 321.5h0M377.1 346.1h0M367.3 334.1h0M366.4 320h0M366.3 325.6h0M369.5 334.6h0M374.1 321.2h0M370 324.9h0M368.7 324.9h0M367 330.5h0M374.9 315.7h0M369.8 329.8h0M381.9 323.6h0M370.6 322.2h0M369.7 339.5h0M379.9 340.8h0M373.1 329.2h0M365.4 333h0M365.4 314.9h0M371.1 353.3h0M364.9 314.8h0M370.9 337h0M378 352.3h0M365.4 328.7h0M367.3 322.4h0M373.4 330.8h0M377.2 340h0M381.4 322.5h0M364.1 330.7h0M378.5 335.4h0M363.8 320.1h0M373 336.9h0M380.9 327.9h0M370.6 331.6h0M370.8 336.5h0M380.5 329.3h0M364.9 351.6h0M378.9 318.8h0M377.8 344.3h0M367.2 311.9h0M364.2 325.1h0M375 331.4h0M365.1 315.7h0M380.2 314.2h0M369.3 312.6h0M373.2 331.9h0M364.4 330h0M369.6 321.2h0M383.2 329.7h0M373.8 327.4h0M378.7 326.7h0M374.8 330.2h0M366.3 315.4h0M368.3 342.7h0M382.3 336.7h0M379.8 326.6h0M375.7 352.5h0M367.8 330.2h0M382.2 337.9h0M378.3 312.5h0M377.9 352h0M374.7 339.8h0M365 339.2h0M364.2 334h0M377.4 328.9h0M364.8 332.3h0M371.9 350.3h0M376.4 325.4h0M375.2 347.9h0M368.9 330.9h0M368.6 336.6h0M369.4 324.7h0M371.8 323.1h0M378.8 319.9h0M365.4 348.1h0M364.4 351h0M366.5 327.7h0M382.1 316.9h0M378.7 332.5h0M366.6 323.5h0M372.2 318.6h0M365.2 329.8h0M381.4 329.3h0M364.4 320h0M373.7 324h0M366 352.7h0M374.3 336h0M373.9 327h0M368.3 322.9h0M373.2 330h0M377 322.7h0M376.7 350.3h0M371.5 337.9h0M373.9 349.8h0M368.6 326h0M377.9 344h0M380.7 345.9h0M372.6 348.2h0M364.7 332.6h0M367.9 312.6h0M381.3 349.7h0M371.3 315.5h0M380.8 321.3h0M376.5 324.1h0M376.1 333.8h0M375.8 323.5h0M367.5 334.9h0M378.2 332.4h0M373 325.1h0M371.7 313.9h0M375.1 316.4h0M382.8 313.6h0M382.6 316.7h0M375.2 344.2h0M365.8 320.8h0M368.3 326h0M372.7 337.1h0M370.6 328.2h0M376.4 334.8h0M375.8 316.6h0M371.4 315.4h0M373.1 312.3h0M371.7 311.2h0M373.2 349.4h0M370.9 323.2h0M380.9 340.8h0M371.3 346.8h0M368.1 340.5h0M382.3 331.4h0M372.7 323.9h0M369.5 338.4h0M383.2 337.7h0M368.4 326.6h0M378.8 332.2h0M370.1 325.3h0M377.3 326.5h0M380.1 332.1h0M369.3 324.6h0M379.9 321.2h0M369.4 336.1h0M373.9 318.9h0M377.3 329.6h0M378.8 339.8h0M370.6 322.1h0M369.9 326.6h0M376.8 336.7h0M365.9 332.4h0M371.7 341.9h0M363.7 324.9h0M365.6 337.5h0M381.3 330.4h0M365.7 316.2h0M370.6 351.3h0M372.4 327.6h0M375.2 315.8h0M365.8 353.6h0M373.4 328.7h0M373.8 341.9h0M379.2 336.9h0M377.3 323.4h0M380.6 317.9h0M379.4 320.2h0M365.6 328.3h0M365.2 328.8h0M371.4 338.6h0M372.2 332.9h0M377.1 317.6h0M371 328.5h0M366.8 335h0M377.5 309h0M372.4 310.6h0M367.3 339.9h0M382.8 323.3h0M366.8 323.7h0M380 327.9h0M375.8 314.8h0M373.9 346.2h0M364.5 344.3h0M365.7 336h0M372.4 330.1h0M379.3 344.8h0M374.4 319.8h0M381.1 326h0M371.2 334.3h0M368.6 323.9h0M378.3 327.4h0M376.4 338.7h0M375.8 341.7h0M381.8 323.8h0M382.3 331.5h0M382.5 335.6h0M370.8 339.3h0M365.2 334.3h0M375.4 317.5h0M380.7 321.2h0M378.5 317.1h0M378.8 324h0M375.3 334.6h0M367.6 330.6h0M378.7 340h0M364.5 312.1h0M383 335.7h0M380.5 337.2h0M375.3 340.9h0M378.5 315.9h0M377.3 339.1h0M375.4 324.8h0M373.1 336.9h0M381.2 330.5h0M382.2 337.8h0M365.3 331h0M376.4 332.5h0M378.2 317h0M375.8 318.2h0M374.4 320.7h0M376.8 311h0M369.2 323.6h0M365.1 334.6h0M373 351.1h0M379.8 327.2h0M377.8 331.8h0M371.5 331.5h0M368.4 325.8h0M377.8 332.5h0M372.6 332.6h0M372.9 327.8h0M377.3 331.7h0M374.4 333.1h0M376.5 335.3h0M372.4 327h0M369.1 335.4h0M367.9 342.5h0M363.9 332.5h0M368.5 352.9h0M381.5 348.1h0M369.8 344.2h0M370.7 321.7h0M366.7 338.5h0M367.5 334.9h0M381.2 346h0M374.8 317.4h0M373.3 328.9h0M364.9 342.3h0M378.4 333.5h0M381.4 321h0M382 323.5h0M368.2 328h0M363.8 315.9h0M378.1 328.7h0M377.9 336.1h0M369.9 331.2h0M371.2 331.1h0M375.4 332.6h0M368.4 333.2h0M369.6 348.4h0M376.8 316.6h0M365 337.1h0M368 318.4h0M371.5 343.7h0M373.5 343.9h0M379.8 321h0M376.9 327.9h0M366.1 317.7h0M373.6 321.7h0M366.9 331.3h0M367.7 345.2h0M375.5 339.9h0M378.4 332.4h0M378.3 333h0M364.3 331.7h0M377.7 316.9h0M378.6 322.5h0M370.1 342.2h0M367.2 343.8h0M376.2 339.4h0M372.5 315.1h0M364.8 319.6h0M367.9 320.4h0M382.2 325h0M364.8 339h0M372.8 315.3h0M375.9 335.2h0M375.9 324.6h0M373.6 353.1h0M372 342.2h0M368.3 317.4h0M379.8 324h0M380.3 313.7h0M377.8 349.3h0M364.9 321.1h0M381.5 345.9h0M375.8 334.5h0M370.4 338.1h0M372.6 320.6h0M365.8 328.9h0M371.5 326h0M377 344.7h0M368.8 333.9h0M379 345.1h0M371.7 326.7h0M373.2 351.7h0M382.2 335h0M364.6 329.1h0M373.5 335.6h0M375.4 335.5h0M366.4 339.2h0M368.2 320.1h0M375.3 342.6h0M372.3 332h0M364.9 325h0M374.2 343.3h0M371 325.2h0M378.9 344.1h0M371.2 327.2h0M376 333.1h0M369.2 337.9h0M381.7 346.5h0M367 333h0M368.1 327.2h0M370.9 343.3h0M369.4 325.8h0M380 350.8h0M368 336.1h0M375.1 322.1h0M380.7 336h0M373.6 329.5h0M383 323.5h0M368.1 334h0M366.6 335.2h0M376.7 352.7h0M364.4 345.1h0M376.3 332.4h0M367.8 323.6h0M366.6 331.9h0M364.5 345h0M367 329.4h0M367.7 336.8h0M363.7 346.6h0M379 346.1h0M363.9 330h0M374 343.1h0M381.7 341.8h0M373 333.9h0M364.3 331h0M370.7 314.4h0M376.7 327.7h0M380.4 344.4h0M371.3 338.1h0M367.7 334.4h0M369.6 331.4h0M370 320.5h0M377.8 320.1h0M374.7 329.3h0M368 332h0M363.7 338.2h0M363.9 311.7h0M367.2 340h0M367.2 320.1h0M370.1 322.4h0M367 318.1h0M365.8 338.2h0M372 347.3h0M377.4 332.1h0M363.9 312.8h0M376 325.1h0M365.4 341.3h0M382.6 314.7h0M367.7 320.3h0M372.9 336h0M370.5 330.4h0M377.4 320.2h0M381.2 331.6h0M374.4 331h0M378.7 339.1h0M366 314.1h0M368.2 341.1h0M363.8 341.4h0M367.9 312.1h0M382.4 325.5h0M378.1 351.3h0M369.7 351.4h0M371.1 317.8h0M378.8 328.3h0M370.4 326.8h0M380.7 312.5h0M375.8 340.8h0M373.1 336.1h0M379.6 347.9h0M375.7 342.3h0M377.4 339.1h0M380.1 351.1h0M372.8 318.1h0M376.8 329.7h0M372.8 328.3h0M365.9 337.7h0M364.1 338.7h0M379.9 350.9h0M377.2 321.6h0M374.9 309.3h0M380.5 334.2h0M379.9 337.4h0M376.7 339.3h0M370.2 335.6h0M371.5 312.4h0M374.9 330.9h0M371 338.3h0M365.8 335.8h0M364.5 322.5h0M381 333.3h0M364.2 320.6h0M378.9 315.2h0M364.3 324.8h0M377.1 327h0M364.3 343.9h0M376.1 337.2h0M378.7 338.1h0M382.4 333h0M379.9 332h0M379.6 334.2h0M378.2 318.7h0M365.3 335.7h0M373 323.2h0M374.2 310.4h0M368.1 317.8h0M382.3 338.5h0M363.8 332.7h0M373.3 316h0M380.7 309.6h0M371.1 322.9h0M364.8 323.5h0M377.2 332.5h0M376.4 335.6h0M364.5 343.6h0M375.5 331.5h0M366.8 325h0M381.7 345.6h0M380.1 321.4h0M372.2 315.4h0M375.4 345.8h0M378.5 336.2h0M367.6 318.5h0M367.3 326.3h0M378 340h0M364.9 337.8h0M365.5 316.9h0M365.8 336.9h0M366.3 351.1h0M383 329.6h0M380.8 324.3h0M371.3 334.1h0M382.7 332.6h0M368.6 345.4h0M364.2 319.9h0M365.7 323.3h0M377.4 324.7h0M365.6 349.6h0M367 316.6h0M373.7 317h0M367.9 317.6h0M377.2 324.8h0M367.9 320h0M376.7 332.9h0M371.8 337.5h0M366.8 314.7h0M376.2 326.9h0M380.6 345.1h0M367 342.8h0M377.9 326.2h0M371.9 328.2h0M377.5 335.5h0M379.7 341.2h0M371.2 327.3h0M376.3 348.3h0M366.7 323.7h0M363.9 330.8h0M376.9 339.7h0M380.8 328h0M368.3 316.3h0M376.7 344.2h0M379.7 320.1h0M365.6 323.1h0M377.1 317.3h0M365.8 343h0M373.4 329.5h0M364.4 333.5h0M380.3 345.4h0M365.4 323.1h0M371.5 325.8h0M375.1 335h0M370.5 346.3h0M381.6 338h0M368.6 310.8h0M375.2 332.1h0M381.6 327.4h0M375.4 331.2h0M370.5 342.2h0M365.5 328.5h0M364.9 326.8h0M368.3 336.4h0M370.6 345h0M381.8 345.8h0M381.7 319.9h0M374.9 329.3h0M379.3 338.2h0M365.3 336.6h0M379.9 341.4h0M377.6 327.6h0M364.7 343.4h0M381.1 322h0M365.1 335.6h0M368.4 324.1h0M380.2 319h0M382.8 341.2h0M374.9 327.4h0M368 327.6h0M364.5 320.3h0M372.7 324.7h0M372.8 320.8h0M380.3 335.6h0M373.5 325.4h0M379.1 323.8h0M374.3 340h0M372.8 324.5h0M375.2 336.5h0M373.8 322.4h0M373.2 338.7h0M370.7 329h0M368.8 322.4h0M370.9 349.6h0M365.8 340.3h0M366.3 338.5h0M376.1 326.3h0M365.9 342.4h0M378.2 324.9h0M379.4 320.1h0M363.7 347.3h0M379.5 318.5h0M368.8 348h0M374.5 337.9h0M373.7 323.5h0M368.1 332.1h0M369.5 345.3h0M378 342.9h0M369.8 331.2h0M365.2 316.7h0M376.6 331.8h0M365.4 313.2h0M368.8 333.3h0M380.8 336.4h0M379.4 340h0M368.7 332h0M380.9 341.4h0M382.5 348.4h0M370.1 334.5h0M370.2 334h0M370.1 321.3h0M364 336.8h0M380.5 342.6h0M370 339.3h0M366.5 328.2h0M383.2 330.8h0M380.4 330.7h0M369 350.3h0M380.5 339.5h0M367.5 315.1h0M381.4 323.9h0M364.2 330.6h0M368.3 334.1h0M381.5 316h0M369.6 341.8h0M381.3 321.6h0M368.4 323.2h0M379.5 320h0M379 319.5h0M374.5 333.1h0M368.2 325.9h0M380 326.5h0M369.6 332.6h0M378.6 317.4h0M374.9 320.9h0M381.1 338.3h0M375.8 338.3h0M375.9 343.3h0M365.2 328.3h0M377.8 342h0M374.1 337.8h0M382.9 334.3h0M378.8 334.8h0M373.8 341h0M377.5 340.7h0M380.7 330.2h0M369.1 311.7h0M365.9 339.7h0M379.6 313.4h0M381.2 337.4h0M381.5 340.2h0M372.3 312.9h0M365.9 335.4h0M371.1 313.4h0M382.9 344h0M367.8 349.2h0M373.6 330.2h0M370.2 330.5h0M367 324h0M369.3 322.1h0M381.4 338.3h0M368.8 324.3h0M371.2 335.2h0M381.7 329.7h0M363.8 334.9h0M375.5 353.2h0M380.9 330.6h0M381.4 327.9h0M377.5 324.6h0M372 320.4h0M371.3 329.8h0M375.8 333.4h0M370.8 328.2h0M375.2 329.9h0M378.7 351h0M379 330.9h0M383 353.5h0M366.2 330.3h0M374.9 320.3h0M381.9 329.1h0M378 334.1h0M372.1 311.3h0M373.1 343.7h0M365.4 331.1h0M373.3 330.3h0M381.3 321.3h0M364.4 348.6h0M369.2 321.9h0M373 310.3h0M376 311.5h0M364.5 314.3h0M367.2 336.2h0M368.8 330.4h0M378.7 342h0M367.6 326.3h0M382.4 347.7h0M369.8 350.3h0M374.7 341.8h0M370.2 341.7h0M377.5 346.9h0M377.9 327.3h0M365.1 326.5h0M365 334.5h0M363.8 339.2h0M373.4 317.4h0M374.6 326.7h0M363.8 342h0M377.2 340.3h0M372.2 328.1h0M377.7 345.1h0M366.8 324.8h0M375.2 327.8h0M379.4 316.9h0M380.1 325.2h0M369.7 323.4h0M382.1 332.8h0M373.5 353.4h0M372.4 341h0M375.7 319.8h0M370.9 330.7h0M370.2 331.5h0M379 339h0M377.1 326.3h0M379.3 332.4h0M377.1 340.4h0M364 341.3h0M370.9 335.3h0M381.8 323.8h0M382.4 338.3h0M367.4 339.3h0M379.6 313.6h0M368.7 328.8h0M365.8 342.9h0M368.9 338.9h0M379 324.9h0M381.5 330.5h0M379.5 339.5h0M370 349.1h0M364 330.2h0M367.6 347.4h0M369.4 343.3h0M366.4 329h0M376 321.3h0M370.7 329.3h0M378.7 331.5h0M366.8 316.5h0M379.7 334.8h0M370.3 329.6h0M380.2 321.7h0M366.4 334.4h0M375 328.1h0M379.5 347.3h0M380.2 344.8h0M369.3 343.4h0M367.4 334.1h0M378.2 338.2h0M363.9 312.3h0M375.1 332.2h0M365.4 342.9h0M379.8 339h0M372.8 344.2h0M376 314.6h0M378.8 326.2h0M368.6 340h0M372.2 333.3h0M369.1 324.2h0M365.3 337h0M366.1 345.5h0M379.2 333.9h0M381.4 327.1h0M381.1 340h0M369.9 330.9h0M383.1 327.4h0M378.6 329.7h0M367.1 314.9h0M371.6 337.5h0M383 319.6h0M373.4 339.5h0M373.5 330.8h0M373.2 317.8h0M379.5 327.1h0M373.7 325.8h0M383.2 326.2h0M370.1 345.7h0M364.9 332.2h0M381.1 326.5h0M380.3 323.9h0M368.6 333.7h0M381 326.7h0M369.2 325h0M380.5 322.6h0M370.8 345.8h0M376.1 327.5h0M372.8 309.2h0M380 327.5h0M370.6 314.4h0M382.6 348.2h0M367.3 336.4h0M379.3 323.3h0M367.3 342.7h0M373.9 341.6h0M370.6 330.5h0M368.7 328.3h0M368.9 338.8h0M376.2 314.9h0M377.2 335h0M373.3 333.2h0M375.1 326.2h0M381.8 338.4h0M375.9 331.2h0M365.2 336.9h0M365.3 332.3h0M378.3 335.5h0M369.5 340.9h0M378.2 321.1h0M366.2 346.6h0M378.6 325.1h0M367 331.2h0M370 348.7h0M379.5 325.3h0M382.9 341.3h0M364.5 336.4h0M371.6 329h0M379.4 321.9h0M378.3 323h0M382.6 313.7h0M376.4 323.3h0M368.3 341.9h0M382.9 339.9h0M379.5 330.3h0M365.6 340.1h0M370.5 336h0M364.3 338.4h0M369.3 340.1h0M365.4 344.8h0M373.1 341.1h0M375.1 351.9h0M367.1 347h0M372.3 329.5h0M370.2 317.6h0M363.9 318.7h0M364.8 321.5h0M369.7 343.6h0M381.7 334h0M364.8 343.7h0M382.6 331.1h0M366.4 333.3h0M378.2 326.8h0M375.4 352.9h0M376.2 332.6h0M372.2 328h0M378.3 336.3h0M373.1 330.6h0M376.4 327.5h0M370 326.2h0M371.8 337.8h0M378.7 324.9h0M375 328.5h0M365.2 337.9h0M369.3 341h0M369.2 335.3h0M364.2 325.8h0M366.2 332.8h0M378 341.9h0M369.4 330.7h0M382.7 332.9h0M375.5 322.2h0M366 329.7h0M368.6 340.4h0M375.5 321.2h0M375.8 339.1h0M375.5 327.7h0M369.5 330.2h0M364 340h0M367.3 322.8h0M376.7 345.8h0M365.7 324.5h0M377.1 325.5h0M374.2 331.4h0M373.6 322.6h0M377.6 329.5h0M377.1 350.5h0M376.5 312.7h0M374.2 330.3h0M365.4 342.9h0M370.7 353.2h0M370.6 335.1h0M368.2 335h0M374.8 313.9h0M382.1 320.9h0M369.4 325h0M366.1 313.5h0M374 310.8h0M383.1 321.1h0M377 338.4h0M380.9 342.8h0M373.2 349.7h0M364.4 341.7h0M381.3 351.3h0M373.4 328.3h0M374.1 331.2h0M382.9 317.4h0M374.4 321.8h0M381.8 330h0M367.3 316.6h0M381.9 335.1h0M369.8 325.7h0M376.2 324.3h0M374.4 343.4h0M370 340.4h0M370.8 331.2h0M371.2 334.1h0M372 327.3h0M376.6 338.5h0M374.5 336.1h0M376.3 322.7h0M379.3 340.3h0M380.3 330.3h0M365.9 337h0M382 325.8h0M380.5 333.9h0M371.8 327.4h0M365.7 347.4h0M367.6 342.6h0M369.2 345.9h0M372.5 318.2h0M380.5 334.2h0M366.6 329.2h0M367.3 342.2h0M370.9 324.5h0M364.9 324.6h0M382.5 336.1h0M376.1 346.7h0M370.1 310.8h0M380.9 344.4h0M382.3 344.9h0M371.1 335.4h0M365.7 320.1h0M373.5 331.9h0M367.4 314.4h0M364.7 342.9h0M381.7 336.7h0M374.7 328.3h0M372.7 324.6h0M375.8 330.2h0M375.6 350.7h0M380.1 332.9h0M379 336.4h0M369.6 319.8h0M371.7 351h0M364.2 333.9h0M374.5 343.8h0M377.4 333.2h0M374.8 335.6h0M380.7 324.2h0M364.1 330.2h0M368.5 341.1h0M371.6 338.2h0M368 317.7h0M369.6 334.1h0M365.6 341.7h0M371.7 329.6h0M365.8 326.6h0M366.1 336.7h0M377.8 322.4h0M371.1 333.4h0M369.1 340.6h0M369.2 325.1h0M375.3 332.3h0M375.6 326.4h0M376.7 333.4h0M374.1 323.3h0M370.1 322.7h0M377.7 341.6h0M377.2 323.7h0M371.4 325.3h0M377.8 334h0M372.4 327.1h0M377.8 336.3h0M367.2 350.1h0M368.5 325.2h0M370.2 326.8h0M380.5 323.5h0M378.6 354.1h0M374.3 328.5h0M369.1 333.5h0M374.8 342.3h0M371.1 338.8h0M373.5 354.7h0M377.4 348h0M364.5 326h0M364.2 342.9h0M372.4 325.6h0M374.9 342.9h0M372.1 330.4h0M373.9 350.9h0M368.2 328.1h0M381.5 334.6h0M369.9 340.3h0M376.6 335.8h0M382 310.6h0M376.6 333.1h0M364.4 325.6h0M370.7 310.8h0M373.6 332.7h0M369 318.6h0M365 338.5h0M369.2 313.4h0M379 320.8h0M379.2 337.8h0M367.6 333.9h0M369.9 325.5h0M381.7 332.5h0M365.6 326.5h0M382.6 334.6h0M369.3 341.5h0M376.7 333.1h0M364.2 338.2h0M376.3 349.5h0M372 351.9h0M364.9 328.2h0M381.5 333.4h0M374.9 327.8h0M371.1 320.1h0M376.7 338h0M379.2 336.4h0M364.9 338.1h0M373.1 331.4h0M372 312h0M366.3 324.3h0M379.7 314.9h0M373.3 328.8h0M366 324.5h0M379.8 310.1h0M371.2 324.7h0M377.5 323.8h0M364.6 314.8h0M378.4 327.8h0M367 313.2h0M373.4 324h0M367.5 339.4h0M366.8 350.3h0M368.6 335.2h0M371 343.8h0M364.1 340.1h0M366.3 325.6h0M366.4 333h0M365 330.7h0M378.6 316.2h0M369 320.8h0M378 312.8h0M370.3 328.7h0M364.2 329.5h0M366.3 340.2h0M372.7 337.7h0M374.8 329h0M364.2 326.4h0M376.6 332.3h0M374.4 336.6h0M376.9 342.8h0M382.2 322.2h0M375.9 346.1h0M375.3 314h0M367.8 341.9h0M374.5 317.1h0M365.4 349.9h0M376.3 325.9h0M372.5 339.7h0M367.2 324h0M367.7 349.2h0M371.6 327.1h0M368 318.6h0M373.7 322.9h0M372.5 314.7h0M381.1 317h0M372.6 346.1h0M376.3 347.3h0M366.7 312.8h0M373.9 333.5h0M373.5 326.9h0M378.5 328.4h0M378.2 336.8h0M366.2 342.2h0M381.9 347.4h0M373.1 349.7h0M369 327.3h0M379.6 340.4h0M380.9 324.4h0M376.5 339.5h0M371.3 324.7h0M382.5 317.9h0M381.8 337.6h0M363.8 340.7h0M379.2 327.5h0M382.2 319.4h0M380.6 337.3h0M375.5 335.4h0M364.6 337.3h0M368.9 332.6h0M378.4 330.4h0M372.2 325.3h0M379.1 320.8h0M380.8 316.7h0M382.6 345h0M372.6 320.9h0M379.4 326.5h0M367.6 330.2h0M365 320.9h0M377.9 340.6h0M380.8 319.7h0M365.5 351.3h0M381 347h0M379.8 334.2h0M365.7 319h0M378.4 348h0M370.3 338.5h0M375.2 337.9h0M366.9 334.4h0M364.7 326.3h0M382.6 331h0M374 343.7h0M377.2 331.6h0M378.8 343.5h0M373.6 324.4h0M379.4 331.3h0M370.9 335.7h0M364.6 327.9h0M379.8 333.8h0M376 330.9h0M375.5 335.9h0M368.2 330.7h0M364 325h0M364.3 323.7h0M366 344.4h0M367.5 336.1h0M365.3 325.5h0M380.2 325.5h0M371.4 319.2h0M377.4 336.3h0M379.5 315.7h0M365 339.8h0M382.7 310.5h0M369 326.6h0M373.2 342.1h0M368.8 333.9h0M364.5 347.1h0M373.2 341.6h0M375.5 352h0M366.9 322.8h0M378.7 324h0M380.3 338.8h0M374.9 336.6h0M368 326.5h0M380.7 337.4h0M381.7 325.8h0M379.9 341.8h0M365.9 330h0M366.5 339.4h0M375.5 349.4h0M373.8 346.1h0M364.5 321.2h0M369 329h0M377.5 342.5h0M381 338.7h0M374.3 325.6h0M375.7 317.4h0M365.9 354h0M371.8 325.6h0M383.3 332.1h0M380.1 321.2h0M373.1 354.9h0M363.8 334.9h0M380.5 326.2h0M371.6 323.6h0M374 339.8h0M379.5 318.8h0M365.4 344.5h0M382 322.8h0M374 330.2h0M364.4 345.8h0M381 336.7h0M378.7 330.9h0M375.6 319.5h0M365.1 313h0M375.4 318.7h0M379 338.6h0M378.7 349.4h0M383 324.3h0M369.3 332h0M367.8 332.2h0M374.2 328.8h0M368.6 331.9h0M376.7 331.2h0M374.6 342.6h0M369.2 327.2h0M375 324.5h0M363.8 326.3h0M374 352.7h0M371.6 330.4h0M371.6 332.8h0M370.9 337.4h0M368 328h0M376.8 316.3h0M380.6 324.9h0M381.3 320h0M377.7 338.1h0M379.1 325.1h0M368.1 338.1h0M375.6 324h0M381.9 343.9h0M376.1 331.6h0M374.9 335.2h0M372.6 344.7h0M374.5 333.4h0M380.8 328.5h0M375.1 345h0M370.8 323.1h0M368.2 331.2h0M376.5 328.5h0M379.3 351.8h0M376.3 325.3h0M369.5 325.2h0M377.8 321.2h0M364.9 336.5h0M382.9 314.8h0M375.9 337.7h0M368.8 331.6h0M369.7 344.9h0M380.9 326.7h0M380.7 322.4h0M364.5 339.9h0M364 346h0M369.5 343.2h0M364.9 319.7h0M379.9 333.3h0M366.1 312.5h0M372.9 347.2h0M382.3 322.5h0M367.8 315.3h0M379.3 340.6h0M364.7 328.8h0M379.3 329.9h0M373.9 323.3h0M372.4 335.1h0M367.8 319.9h0M381.6 338.8h0M363.9 334.5h0M375.6 327.5h0M367.4 323.1h0M383 319.5h0M379.7 333.8h0M365.3 339.4h0M371.6 330.5h0M372.1 347.6h0M373.7 318.1h0M366 324.3h0M367.8 350h0M364 315.4h0M373.4 353.8h0M365 344.5h0M377.1 324.9h0M370.6 330h0M375.3 339.5h0M371.4 327.2h0M377.7 319.8h0M370.2 330.1h0M364.2 342.5h0M369.7 334.2h0M369.5 338.6h0M371.8 314.1h0M376.2 325.4h0M381.9 335.7h0M380.3 314.6h0M371.8 354.4h0M380.7 336.1h0M366.7 330.2h0M364.4 330.9h0M369.3 343.7h0M379.4 338.7h0M371.7 333h0M367.7 329.3h0M365.9 348.1h0M365.4 349.9h0M381.3 344.9h0M364.2 351.3h0M366.4 319.4h0M365.5 313.1h0M364.8 335.3h0M382.7 337.1h0M379.2 332.2h0M369.4 332.7h0M366.9 312.6h0M366.8 337.2h0M364.6 339.4h0M374.1 326.1h0M371.4 350.4h0M373.9 316.4h0M364.5 343.1h0M370.1 316.3h0M374.6 350h0M377.8 332.2h0M367.9 331.7h0M381.5 337.8h0M383 339.8h0M377.4 329.3h0M375.6 321.5h0M375 320.5h0M366.9 340.7h0M382.5 341.9h0M365 334.6h0M383.1 333.2h0M375.9 326.5h0M379.9 324.7h0M367.5 327.8h0M364.5 350.3h0M367.9 336.6h0M364.7 319.9h0M367.2 326.5h0M371.6 325.9h0M371.2 316.2h0M366 305.5h0M369 303h0M372 300.5h0M374 302h0M376 300h0M378 304h0M380 301h0M371 305h0M377 306h0M368 356h0M371 357h0M376 356.5h0M380 355h0M381 360h0M380 365h0M364 356h0" stroke="#3c7ddd" stroke-width="2.3" stroke-linecap="round" fill="none"/>
<rect x="460.1" y="233" width="18.8" height="47.0" fill="#3c7ddd"/>
<path d="M470.5 282.2h0M472.8 248.3h0M467.1 251.5h0M464.6 266h0M471.8 268.7h0M472.9 255h0M462 268.2h0M473.7 264.9h0M470.3 237.7h0M475.1 249.2h0M467.7 261.5h0M463.1 258.4h0M476.1 236h0M478 260.4h0M477.6 248h0M463.4 251.5h0M466.3 248.7h0M468.8 261.2h0M473.8 246.1h0M464.8 266h0M463.2 264.6h0M478.1 241.1h0M478.8 242h0M472.4 254.4h0M466.4 261.4h0M466.9 277.2h0M476.1 262.8h0M459.9 271.6h0M469.8 271.9h0M467.3 232.7h0M477.4 243.8h0M479.4 240.1h0M462.5 280.6h0M466.9 275h0M464.6 238.4h0M461.9 263.6h0M475.2 246.1h0M472.8 265.2h0M477.5 259.7h0M461.1 273.2h0M478.1 245.4h0M465.5 236.8h0M464 251.8h0M469.3 268.9h0M465.8 279.5h0M466.3 280.3h0M477.4 254.9h0M469.7 255.3h0M463.4 244h0M464.7 259.9h0M469.9 246.8h0M474.4 256.3h0M474.5 260.4h0M477.9 249.7h0M463.7 262.5h0M466.7 254.9h0M463.8 267.1h0M471.6 248.2h0M470.9 258.8h0M471.5 258.4h0M461.9 256.8h0M469.4 234.9h0M471.7 259.6h0M471.7 246h0M469.5 258.7h0M473.1 250.8h0M470.3 243.1h0M460.2 237.5h0M464.4 263.6h0M462.9 233.2h0M469.9 264.3h0M465.2 244.9h0M470.4 255.1h0M475.6 263.5h0M475.8 255.7h0M477.1 260h0M473.2 252.3h0M467.5 247.5h0M461.8 253.3h0M460.2 265.2h0M468.5 248.4h0M465.5 253h0M467 247.1h0M467 259.3h0M479.5 273.6h0M474.7 250.7h0M468.7 255.6h0M466 251.5h0M477 271.7h0M477.7 258.9h0M465.2 242.6h0M475.3 264.7h0M475 243.4h0M474.4 236.5h0M470.1 246.6h0M470.8 246.9h0M475.8 253.6h0M467.5 250.5h0M468.6 254.2h0M469.5 244.1h0M460.3 246.7h0M462.8 256.2h0M477 235.5h0M474.8 262.3h0M461.4 244.3h0M463.9 243.4h0M472.5 274.1h0M463.4 251.2h0M466.6 271.4h0M474.3 274.2h0M476.3 251.1h0M461.9 277.8h0M476.8 256.7h0M464.2 268.2h0M463.2 272.6h0M478.4 270.8h0M474.7 254.9h0M470.9 249.6h0M476.3 259.7h0M479.1 250.6h0M464.2 262.5h0M478 248h0M468.9 234.3h0M468.6 256.3h0M476.7 258.7h0M470.6 251.4h0M464.9 261.6h0M459.9 252.3h0M478.2 246.2h0M475.7 270.6h0M474.7 262.4h0M479.1 252.4h0M479.5 259.8h0M477.2 277.9h0M468.7 263.8h0M465.1 259.7h0M478.1 242.2h0M476.5 270.6h0M478.6 259.7h0M474.8 247h0M478.5 253.2h0M471.7 262.6h0M465 254.6h0M476.2 237.9h0M476 271.3h0M472.9 236.6h0M465.2 283.4h0M469.4 255.9h0M463 250.9h0M469.2 253.2h0M471.4 266.8h0M478.3 273.9h0M474.9 235.9h0M468.7 249.1h0M473.6 266.1h0M462.8 255.5h0M464.1 270.7h0M465.9 283h0M464 243.7h0M468.4 280.8h0M466.1 256.7h0M473.8 252.7h0M478.7 236.6h0M471.4 243.2h0M477 248h0M470.9 252.8h0M476.7 235.9h0M471 270.7h0M468.5 248.2h0M469.8 245.2h0M478.1 280.3h0M475 251h0M478.6 253.2h0M470.5 257.3h0M476.4 254.6h0M476.9 258.8h0M468.5 250.9h0M472.8 248.3h0M470.4 274.3h0M464.7 234.2h0M464.1 248.9h0M460.3 261.9h0M475.8 263.2h0M467.7 263.9h0M460.8 263.1h0M477.2 249.5h0M471.8 248.7h0M465.2 250.9h0M462 265.6h0M471 250h0M461.1 267.3h0M468.7 246.9h0M477.9 264.8h0M473.8 249h0M463 266.8h0M471.6 266h0M459.8 273.5h0M478.5 259.9h0M464.9 269.1h0M463.3 239.9h0M477.3 248.3h0M464.8 246.6h0M474.4 246.2h0M469.5 265.8h0M467.6 276.7h0M463.8 262.6h0M473.2 271.5h0M479.2 255.2h0M461.2 259.6h0M459.9 254.5h0M477 247.5h0M475.7 249.8h0M463.2 247h0M476.4 242.3h0M472.3 248.3h0M475 264h0M477.6 279.7h0M477.3 243.8h0M476.7 254.5h0M469.4 252.9h0M476.9 242.1h0M478.9 242.3h0M470.1 236.9h0M468.9 251.4h0M475.9 259.3h0M472.1 257h0M474.8 265.1h0M466.5 254.2h0M460.7 246.9h0M477.1 246.4h0M467.2 249.3h0M462.2 236.5h0M464.3 263h0M471.4 278h0M477.8 251.8h0M473.1 255h0M478.2 250.2h0M463.1 270.6h0M463.4 237.8h0M473.5 253.9h0M475.4 261.6h0M479.1 244.8h0M467.4 260.9h0M463.4 247.8h0M477 238.9h0M465.1 243.7h0M470 240.8h0M465.4 252.7h0M460.3 251.9h0M461.5 237.4h0M472.6 261.4h0M473.5 249.4h0M460.2 266.1h0M476 267.2h0M469.9 268.8h0M479.2 252.9h0M472.2 268.6h0M478.2 275.5h0M462 264.1h0M460.4 252.9h0M469.5 260h0M471.3 253.8h0M474.8 240.6h0M477.6 266.7h0M464.8 279.5h0M463.5 255.4h0M475.3 239.6h0M472.6 247.5h0M475.1 255.3h0M464.9 241.1h0M461.1 260.6h0M471.9 257.9h0M463.2 247.5h0M465.7 264.1h0M460.6 252.3h0M476.4 245.3h0M460.4 267.1h0M475.2 266h0M467.6 247.9h0M477.8 261.9h0M461.2 242.9h0M470.4 256h0M465.9 240.2h0M464.8 279.2h0M464.9 245.3h0M471.2 271.7h0M471.1 246.3h0M475.6 249.7h0M460 247.9h0M460.7 267.2h0M460 269.8h0M459.7 254.1h0M462.3 236.6h0M476.8 268.2h0M463.8 250.4h0M460.2 244.3h0M463.2 261.6h0M462.6 243.2h0M462.7 259h0M473.9 231.2h0M478.2 245.2h0M469 274.6h0M473 232.2h0M476.4 268.3h0M464.9 269.4h0M461.7 263.5h0M462.2 234.3h0M462.9 248h0M471 263.2h0M478.2 255.7h0M465.6 235h0M476.7 233.2h0M461.2 279.4h0M477.4 283.1h0M478.6 255.3h0M470.3 244.1h0M474.8 233.4h0M478.4 255.6h0M474.6 249h0M462.1 243.3h0M465.6 232.3h0M465.6 254.6h0M461.3 258.8h0M463.2 254.5h0M474.7 250h0M473 269.1h0M462.5 247.6h0M471.2 245.3h0M478.4 277.3h0M464.8 234.4h0M474.6 244.6h0M465.8 258.8h0M468.1 271.4h0M459.9 269.8h0M463 252.3h0M468.3 244h0M463.8 252.8h0M469.9 278.5h0M473.9 238.1h0M474.3 256.8h0M476.6 235.4h0M479.4 266.3h0M477.2 252.5h0M465.3 277.5h0M461.8 257.3h0M472.8 268.4h0M475.7 245.7h0M474 238.5h0M476.8 248.4h0M460 244.5h0M463.2 238h0M468.5 264.5h0M477.1 251.9h0M475.5 259.4h0M461.5 255.9h0M466.4 234h0M465.5 251.8h0M465.2 255.1h0M459.6 264.3h0M460.6 273.8h0M467.1 272.9h0M475.8 265.2h0M473.1 253.7h0M466.9 242.7h0M470.9 254.9h0M469.3 242.4h0M463.5 268.9h0M461.6 256.8h0M461.9 262h0M467.8 251h0M464.4 247.1h0M477.6 242.6h0M461.9 234.5h0M459.8 261.7h0M461.9 259.6h0M476.5 237.8h0M475.1 248.8h0M477.3 254.5h0M472.6 258.4h0M468.9 271.5h0M461.1 263.8h0M466.3 241.7h0M472.8 266.6h0M469.4 255.8h0M466.1 231.1h0M466.6 230.9h0M476.6 270.4h0M461.6 232.7h0M464.9 260.3h0M473.9 247h0M461 248h0M471.5 242.5h0M478.1 259.4h0M466.8 241.4h0M468.3 251.3h0M471.1 270.6h0M474.9 250.5h0M468.4 246.7h0M472.1 265.9h0M460.4 242.6h0M470 257.6h0M470.1 281.5h0M464.2 267.2h0M467.7 269.3h0M478.5 262.5h0M463.2 273.5h0M471.7 257.8h0M471.8 238.7h0M477.9 280.1h0M471.3 246.3h0M468.8 275.7h0M470.9 243.1h0M474.5 267.5h0M464.1 246.7h0M460.5 243.1h0M473.6 269.8h0M474.6 268.1h0M465.5 255.7h0M461 264.9h0M467.8 260.2h0M467.6 242.2h0M459.8 234.5h0M469 235h0M472.6 256h0M475.7 236.7h0M461.3 250.7h0M471 259h0M475.3 252.7h0M467.5 254.2h0M474.3 254.4h0M475.2 267.6h0M465.9 238h0M479.3 243.9h0M474.1 240.8h0M467.8 272h0M466.5 248.8h0M468.7 275h0M471.9 270.6h0M461.3 267.6h0M473.1 242h0M464.7 238.5h0M471.3 270.5h0M471 248.1h0M467.3 252.2h0M468.9 254.6h0M460.7 252.3h0M479.3 260h0M474.8 261.2h0M471.5 241.4h0M469.9 258.3h0M472.3 267.6h0M464.9 250h0M463.9 254.7h0M462.6 267.7h0M462.6 258.5h0M460.5 278.5h0M471.4 250.2h0M477.7 267.2h0M463.3 278.6h0M474.4 252h0M470.7 245.1h0M469 268.6h0M471.1 274.3h0M468.3 254.2h0M475.8 266.7h0M478.9 269.5h0M476.9 233.8h0M472.4 246.9h0M467.8 233.7h0M473 281.4h0M461.6 254.6h0M467.4 252.3h0M463.1 266.7h0M477.7 244.6h0M472.8 267.3h0M460.9 268.8h0M473.8 255.9h0M474.9 259.1h0M473.3 264.4h0M463 268.7h0M470.6 248.2h0M473.3 256.3h0M468.6 263.1h0M461.2 243.3h0M463.8 256.5h0M467.9 266.1h0M470.5 267.7h0M469.1 259.6h0M463.5 237.4h0M472.3 244.1h0M470.6 252h0M471.4 272h0M460 265h0M467.2 262.9h0M470.6 253.4h0M471.4 261h0M478.8 230.9h0M467.9 237.8h0M460.5 264.2h0M477.5 246.4h0M463.5 274.7h0M472.7 255.2h0M461.4 239.1h0M466.6 251.2h0M460 266.3h0M461 234.9h0M470.1 267.1h0M460.7 235.9h0M471.7 281h0M475.3 257.8h0M465.3 253.4h0M476.8 231.8h0M466 247.3h0M472.1 239.1h0M471.6 248.4h0M479.4 244.6h0M460.7 236.5h0M461.8 243.1h0M472.7 262h0M464.3 264.8h0M479.2 260h0M476.8 255.3h0M473 242.1h0M459.8 249h0M474.3 256.5h0M462.2 246.1h0M460.4 248h0M476.5 257.2h0M461.7 248.2h0M468.3 250.1h0M472.6 253.1h0M466.4 263.1h0M478.9 243.2h0M472.9 246.2h0M460.2 248.9h0M476.1 232.7h0M460.4 260.8h0M459.6 242.6h0M466.1 249h0M460 269.8h0M476.1 275.2h0M462.9 249.9h0M472.3 232.1h0M478.4 264.9h0M463.2 256h0M469 255h0M464.5 255.5h0M465.2 255.8h0M469.3 247.1h0M471.9 269.6h0M476.1 249.5h0M470.2 260.8h0M467.8 257.6h0M473.7 265.4h0M463 270.1h0M477.8 248.6h0M468.2 240.7h0M473.5 268.7h0M471.1 260.3h0M470.3 274.6h0M470.1 258h0M464.7 266.3h0M470 242.6h0M463.8 269.3h0M468.6 254.1h0M462 242h0M470.5 248.6h0M471.2 267.6h0M468.8 263.8h0M475.9 271.7h0M475.3 249.3h0M459.8 255.3h0M461.4 262.8h0M467.6 252.5h0M474.4 263.5h0M475.3 268.4h0M460.9 241.2h0M472.4 248.2h0M459.9 278.7h0M463.4 264.8h0M476 256.6h0M479.2 273.3h0M461.6 272.9h0M466.5 238h0M475.5 274.1h0M467.2 264h0M479.2 263.2h0M459.7 259.7h0M473.5 260.4h0M464.6 281.5h0M464.2 272h0M460 269h0M460.5 262.2h0M461.8 241.2h0M469.2 234.8h0M470.1 253.8h0M466.7 266.1h0M460 250.8h0M461.8 242.6h0M465.7 253.3h0M477.4 255.7h0M472.4 252.9h0M468.8 274.2h0M463 258h0M479.1 262.4h0M470.1 240h0M466.7 271.1h0M466.4 249.6h0M467.6 265.5h0M475.6 256.4h0M470 267.8h0M473.2 233.9h0M468.9 263.2h0M472.2 258.2h0M473.7 262.4h0M464.1 263.6h0M460.5 244.5h0M460.1 268.6h0M463.2 261.5h0M468.2 266.2h0M477.6 236.6h0M467.5 272.1h0M476.7 265.4h0M462.5 245.6h0M467.7 267.1h0M475.1 250.7h0M470.4 245.9h0M473.9 272h0M472.5 255.4h0M468.3 242h0M462.6 241.9h0M479.2 254.4h0M476.1 235.1h0M468.2 260.3h0M472.1 259.3h0M477 246h0M461.5 240.4h0M461.8 242.3h0M475.3 266.6h0M467 234.9h0M470.7 257.7h0M466.9 233.5h0M476 256.2h0M463.3 254.2h0M461.6 266.2h0M473.1 259.3h0M470.8 249.5h0M459.6 248.9h0M460.9 239.2h0M465.6 252h0M467.3 252h0M460.6 282.2h0M462.4 236.4h0M468.3 231.9h0M475.6 235.8h0M464.7 231.4h0M474.6 274.5h0M478.9 263.4h0M468.5 280.3h0M469.7 252.1h0M477.7 250.1h0M477.3 264.9h0M462.7 271.7h0M463.4 242.8h0M477.6 283.1h0M462.4 257.7h0M472.1 249.6h0M478.5 247.7h0M464.2 247.8h0M472.6 265.1h0M465 235.6h0M470.2 248.8h0M461.9 243h0M474.2 263.4h0M478.9 250.9h0M467.9 254.2h0M460.8 266.2h0M469.4 257.2h0M478.9 263.5h0M463.1 251.3h0M476.4 262.1h0M476.6 272.1h0M461.9 261.7h0M469.9 259.8h0M476.6 266.8h0M473.8 254.3h0M472.5 269.7h0M471.2 261.7h0M461.6 274.3h0M465.2 249.9h0M461.6 265.4h0M475.8 242.3h0M465.2 245.8h0M475.1 257.7h0M466.7 252.3h0M462.4 239.5h0M460.2 239.9h0M464 231.7h0M465.7 251.1h0M474.1 269.2h0M478.7 238.4h0M459.7 250h0M477.9 242.8h0M461.5 263h0M461.9 254.5h0M478.7 261.7h0M463.6 264.7h0M464 238.1h0M474.1 239.2h0M479 254.9h0M473.2 277.2h0M463.4 249.4h0M465.5 247.9h0M460 242.6h0M464 231.8h0M470.5 233.2h0M478.1 244h0M460 265.3h0M465.8 240.2h0M461.9 267.5h0M471.7 246.9h0M459.7 242h0M475.8 268.4h0M471.9 250.4h0M477.1 260.1h0M470.7 256.6h0M461.5 257.1h0M469.5 248.9h0M476.3 270.5h0M475.1 238.7h0M461.8 267.4h0M471.9 244.3h0M461.8 257.2h0M461.2 253h0M464.8 253.7h0M475.3 247.8h0M464.6 247.7h0M469.2 273.9h0M471 232.1h0M462 262.2h0M477 276.5h0M459.8 259.5h0M475 257.8h0M475.6 244.3h0M468.5 269.1h0M467.6 281.2h0M470.6 258.4h0M474 263.8h0M473.9 278.2h0M469.6 248.3h0M463.7 257.9h0M477.6 261.2h0M469.7 253.5h0M471.1 267.8h0M479.5 249h0M471.3 259.7h0M462 265.4h0M464.2 266.9h0M475 246.8h0M463.8 271h0M479.2 258.7h0M467.6 266.9h0M463.9 244h0M475.8 266.7h0M470.5 253.7h0M472.9 252.9h0M465.9 231.2h0M472.2 258.6h0M470.4 263h0M466.9 255.1h0M463.5 255h0M461.7 252.1h0M476.2 239.6h0M467.3 250.8h0M479.4 273.3h0M460.2 244.5h0M479.1 254.1h0M459.6 247.3h0M460.8 266.6h0M467.8 269.8h0M468.2 259.9h0M476.9 262.2h0M466.7 260.3h0M479.1 245.3h0M477.8 255.8h0M462.2 248.5h0M474.8 256.2h0M466.1 255h0M464 230.8h0M467.4 237.1h0M461.5 252.4h0M463.6 238.2h0M469.1 277.9h0M473.1 256.4h0M463.9 247.3h0M476.7 248.1h0M478.3 267.9h0M467.7 264.2h0M478.4 242.1h0M478.5 245.4h0M459.5 267.3h0M469.4 250.4h0M476.6 244.4h0M469.7 235h0M472.2 269.3h0M462.6 257.7h0M477.4 250.2h0M472 277.4h0M473.1 272.6h0M462.5 240.1h0M475 262h0M475.1 247.4h0M460.7 247.9h0M462 234h0M473.2 244.4h0M476.3 263.2h0M465.7 274.9h0M476.1 241.4h0M478.7 239.8h0M460.3 271.5h0M466.8 269.4h0M473.1 247.8h0M462.3 259.4h0M460 255.6h0M461.3 244.5h0M477.5 268.8h0M475.8 265.2h0M462.7 244.2h0M468.3 253.8h0M478 250.1h0M478.4 249.5h0M476.2 251.6h0M469.8 264.4h0M467.8 265.3h0M459.9 248.5h0M472.5 247.8h0M464.8 255.9h0M469.2 263.3h0M472.5 240.4h0M468.8 246.5h0M477.3 249.8h0M460.7 253.6h0M460 248.7h0M473 245.3h0M469.8 257.8h0M470.7 235.9h0M464.6 261.4h0M460.6 264.1h0M471.8 252.7h0M461.9 247.9h0M466.3 264.5h0M460.1 275.7h0M466.4 271.4h0M459.6 254.1h0M469 256.6h0M463.9 248.6h0M476.3 241.5h0M462.9 255.1h0M477.6 250.4h0M466.5 251.8h0M477.4 246.1h0M473.3 263.6h0M461.6 275.1h0M474.1 240.9h0M463.1 261.9h0M471 268.8h0M478.9 260.6h0M469.5 266.6h0M466.9 250.2h0M474.8 259.7h0M462 265.7h0M465.4 241.1h0M463.1 252.3h0M471 257.9h0M470.8 264.1h0M472.7 243.2h0M460.7 239.6h0M475.9 236.6h0M476.1 239.6h0M465.4 254.7h0M463.3 238.7h0M469 254.1h0M460.2 240.4h0M463.7 244.1h0M466.3 236.5h0M464.6 255.8h0M476.9 270.5h0M459.6 260.6h0M471 259.2h0M468.6 253.7h0M463.2 257.6h0M472.1 264.9h0M465.9 241.4h0M463.2 234.1h0M476.5 253h0M477.8 272.4h0M465.5 242.9h0M476.8 274.3h0M467.9 254.4h0M474.7 263.5h0M468.5 258.5h0M467.5 235.4h0M475.6 264.2h0M468.7 252h0M470.4 240.6h0M460.6 241.4h0M471.8 252.4h0M468 249.7h0M463.9 250.2h0M463.5 275h0M478.7 246.9h0M461.6 242.4h0M470.6 240.2h0M468.5 233.8h0M471.3 247.1h0M477 257.5h0M462.1 270.8h0M469.7 267.5h0M463.5 273.4h0M472.4 257.6h0M463.5 277h0M463.7 231h0M461 237h0M468.3 259.5h0M469.9 272.1h0M478.6 260.2h0M471.6 266.8h0M467.2 253.5h0M460.8 249.6h0M476.8 241.4h0M461.9 245.4h0M465 240h0M477.7 258.6h0M467 268h0M463.1 271.3h0M475.2 276.4h0M472.1 243.3h0M477.7 260.1h0M470.6 272.4h0M479 237.3h0M461 242.1h0M463.7 251.9h0M475.8 266.9h0M460.2 267.7h0M475.5 268.2h0M464 262.2h0M469.9 266.9h0M465.1 244h0M476.9 254.1h0M460.9 231.5h0M479.2 278.3h0M472.8 273.6h0M465.6 272.6h0M465.1 254.6h0M470.5 253.2h0M470.7 259.5h0M472.2 252h0M469.7 240.2h0M466 275.9h0M463.9 272.4h0M472.6 249h0M460.3 255.4h0M460.6 274.6h0M460.7 243h0M460.3 266.8h0M470.6 248.7h0M467.6 265.3h0M463.1 248.5h0M469.7 264.5h0M476.6 261.1h0M463.3 271.6h0M460.7 251h0M466.2 260.1h0M477.9 274.3h0M476.2 258.6h0M473.2 258.6h0M473.8 240.4h0M479.3 249.8h0M461.7 279h0M460.9 274.1h0M462.7 251.2h0M467.6 266.8h0M475.7 276.9h0M461.2 250.6h0M466.5 248.7h0M465.3 269.1h0M469.3 268.3h0M472.1 268.5h0M460 260.6h0M462.9 256.8h0M475.7 260.7h0M466.9 282.4h0M467.8 277.1h0M477.9 274.2h0M468.2 244.4h0M460.2 255.4h0M468.8 263.3h0M462.9 275.5h0M467.8 265.2h0M475.7 252.5h0M466.9 246.4h0M477.5 269h0M478.9 241.7h0M462.5 247h0M462.2 250.5h0M478.2 271.6h0M477.2 260.1h0M460.6 250.1h0M468.8 248.5h0M478.6 275.7h0M462.4 257.7h0M473.6 261.1h0M478.3 256.1h0M465.1 276.7h0M475 265.7h0M469.3 261.6h0M469.7 242.5h0M468 232.9h0M474.2 258h0M471.7 256.8h0M469.7 265.2h0M464.8 277.4h0M476.5 260.3h0M471.1 248.8h0M460.3 272.8h0M465.6 239.5h0M475.5 243.4h0M467.1 262.6h0M473.3 265.4h0M461.2 235.8h0M476.5 252.7h0M471.7 268.1h0M460.5 258.7h0M470.9 273.6h0M464.5 267.6h0M464.2 253.4h0M467 258.8h0M471.6 274.2h0M464.2 251.5h0M478.8 239.6h0M465.9 247.2h0M469.9 250.7h0M459.6 251.2h0M464.7 271.4h0M460.2 256.4h0M471 230.8h0M476.9 247.9h0M473.6 240.3h0M475.7 259.5h0M475.2 269.2h0M460.7 247.3h0M475.1 247.5h0M461.4 258.1h0M466.5 242.3h0M461.1 256.8h0M462.7 258.5h0M474.8 258.3h0M467 244.3h0M474.5 236.6h0M471.5 249.1h0M478.6 269.9h0M469.4 256.2h0M461.4 241.7h0M465.5 257.5h0M460.6 258h0M461.2 244.7h0M462.2 250.8h0M478.1 262.1h0M474 247h0M476.4 248.6h0M476.4 236.4h0M466.2 271.2h0M475.1 274.6h0M466.2 253.3h0M464.7 267.7h0M478.3 263.5h0M478.8 275.9h0M477.1 264.6h0M470.9 277h0M473.9 277.1h0M470 271.4h0M463.4 257.1h0M467.3 243.5h0M473.3 278.1h0M466 256.5h0M461.8 279.5h0M479 249.1h0M467.3 258.8h0M474.6 267.4h0M478.2 256.1h0M469.1 237.5h0M463 260.4h0M469 232.9h0M467 235h0M466.3 262.6h0M469.6 254.2h0M460.2 249.5h0M477.1 248.9h0M462.9 255h0M464.1 262.3h0M478.7 263.9h0M467.2 267.1h0M466.2 240.2h0M477.5 231.3h0M477 278.7h0M475.1 269.5h0M465.7 241.4h0M467.6 278.3h0M476.9 268.7h0M475.5 248.1h0M477.2 250.1h0M475.7 259.1h0M472.4 246.4h0M472.6 239h0M465.2 251.2h0M477 255.4h0M459.8 249.8h0M477.3 264.1h0M470 270.1h0M469.9 250.6h0M469.3 236.8h0M464.8 256.2h0M466.9 258h0M476.1 281.4h0M473.9 258.8h0M469 234.1h0M468.5 236.7h0M473.5 241.1h0M473.1 269.5h0M463.7 240.2h0M473.8 265.5h0M476 280.3h0M473.5 255.2h0M466.4 270h0M477.1 253.4h0M469.7 261.5h0M471.7 234.8h0M479.4 272.4h0M471.4 241.3h0M469.1 234.1h0M469 270.2h0M466.3 253.4h0M466.8 263.1h0M476.2 268.9h0M473.8 263.5h0M460.3 265.4h0M463 252.9h0M463.3 256h0M465.6 265h0M477.7 249.5h0M465.7 257h0M465 273.9h0M464.6 261.9h0M467.4 244.2h0M466.7 253.1h0M473.2 274.9h0M471.3 254.6h0M459.7 243.2h0M470.6 235.6h0M463 244.7h0M465.6 260.7h0M466.2 247.2h0M478.8 261.6h0M471 235.6h0M460.5 246.1h0M477.7 257.6h0M475.6 280.5h0M466.5 256.6h0M468 254.9h0M463.8 269.6h0M464.9 236.9h0M473.3 244.4h0M473.8 262.8h0M474.2 265.5h0M477.1 246.7h0M473.4 267.2h0M474.4 258.2h0M479.2 265.4h0M460.2 269.2h0M462.4 243.2h0M473.9 260.9h0M462.3 266.7h0M475.1 252.9h0M463.5 246.2h0M459.5 271.3h0M468.7 276.9h0M460.6 242.4h0M464 263.5h0M479.2 245.4h0M471.1 249.1h0M467.2 268.7h0M464.1 263.6h0M473.5 249.7h0M460.3 268.8h0M471.1 249.9h0M473.2 246.6h0M461.4 242.1h0M461.4 264.5h0M476.3 276.8h0M473.3 237.8h0M464.2 242.9h0M475 238.7h0M478 246.2h0M467.1 248h0M474.2 253.6h0M465.1 248.7h0M465.3 260.4h0M462.7 246.5h0M463.9 254.8h0M461.3 235.6h0M478.6 250.5h0M470 262.2h0M475 257.3h0M470.8 253h0M462.5 254.1h0M474.1 264.9h0M476 246.4h0M473.1 278.2h0M474.4 274.5h0M472 244.7h0M460.8 255.4h0M465.3 251h0M465 256.6h0M467.4 253.3h0M460.6 253.8h0M476.4 231.8h0M471 270.4h0M461.7 234.3h0M475.8 270.5h0M477.7 259.7h0M471.2 265.4h0M470 257.4h0M467.6 270.7h0M464.8 253.4h0M478.8 233.8h0M476.3 257.7h0M470.6 246.9h0M468.7 251.9h0M462.3 252.9h0M476.5 267.4h0M471.4 277.8h0M472.6 261.7h0M461.9 255.8h0M463.6 232.4h0M477.7 262.8h0M472.7 280.6h0M462 267.7h0M476.8 254.4h0M474.9 234.6h0M464.4 271.1h0M468.4 272.8h0M473.5 253.3h0M474.6 239.9h0M460.1 247.8h0M461 266.5h0M479.5 266.1h0M476 268.3h0M477.3 269.9h0M469.6 238.9h0M462.7 251h0M464.9 235.5h0M467.4 265.6h0M460.7 233h0M466.7 247.3h0M478.8 250.9h0M471 252.9h0M476.2 243.2h0M469.4 269.7h0M469.6 270.4h0M467.9 256.7h0M471.4 250.3h0M461.1 265.2h0M461.5 257.9h0M471.2 258.1h0M460.9 268.4h0M460.2 255.5h0M470.1 259.5h0M471.4 277.6h0M463.1 253.5h0M464.5 248.6h0M468.6 258.3h0M466.3 259.7h0M470.7 281.6h0M467.8 247h0M474.6 241.2h0M463 281.2h0M462.2 270.4h0M475.4 274.9h0M472.1 262.1h0M467.4 255.8h0M473.2 274.1h0M469 272h0M470.4 248.1h0M477.5 271.5h0M462.5 278.4h0M470 247.9h0M461.7 259.8h0M463.2 264.1h0M478.4 234.9h0M471.5 272.2h0M464.5 240.3h0M461.9 257.7h0M466.9 256.4h0M472.2 256.8h0M475.1 253.1h0M471.5 270.3h0M468.8 263.3h0M459.9 263.9h0M476.7 248.8h0M462.7 255.3h0M470.5 249.5h0M468 268.4h0M472.4 281.6h0M464.5 268.7h0M463.7 236.1h0M477 267h0M476.8 255.8h0M466 265.8h0M477.9 279.7h0M471.6 271.1h0M463.5 254.2h0M462.6 250.5h0M460.8 256.5h0M466.6 236.2h0M470.1 253h0M464 266.5h0M476.7 267.9h0M462.5 270.4h0M465.5 262.1h0M470.5 256.8h0M476.4 234.6h0M479.2 255.7h0M474.6 275.7h0M477 267.7h0M464.8 263.5h0M463.4 251.3h0M461.5 255.8h0M479.1 247h0M460.3 251.1h0M471 270.5h0M463.9 267.3h0M467.5 269.9h0M467.6 250.6h0M477.4 274.5h0M462.7 238.7h0M476.6 252h0M460.7 260.3h0M464.9 250.2h0M467.1 258.2h0M469.3 257.9h0M461.1 256.5h0M460.1 245.6h0M460.9 258.8h0M464 244.3h0M475.2 236.1h0M476.8 256.8h0M472.7 256.7h0M465 259.8h0M476.2 281.5h0M469.9 269.6h0M466.1 239.5h0M477.6 238.7h0M462.4 233.4h0M463.2 253.5h0M473.7 245.6h0M461.2 263.7h0M463.2 275.5h0M468.3 252.1h0M463 239.6h0M472.4 267.3h0M477.3 231.6h0M460.7 269.9h0M462.4 272.8h0M478.6 265.6h0M470.8 268.3h0M478.9 244.1h0M477.1 257.6h0M462.9 255.7h0M466.9 255.3h0M469.2 258.4h0M470.1 281.9h0M468.9 266.8h0M472.9 261.8h0M474.1 267.5h0M477.3 256.4h0M469.4 254h0M469 266.1h0M468 265.9h0M474.3 269.6h0M474.3 244.7h0M474.5 258h0M472.7 279.4h0M466.9 264.9h0M463.3 249.4h0M460.9 267.6h0M475.1 272.8h0M479.2 244.2h0M469.8 275.4h0M476.9 274.5h0M469.7 235.1h0M471.2 232.6h0M464.2 250.7h0M472.9 269.1h0M472.3 241.9h0M465.7 252.3h0M461.8 239.6h0M478.9 243.6h0M459.7 269h0M473.7 242.1h0M467.2 262.9h0M469.2 250.1h0M470.3 270.6h0M478.8 242.8h0M471.9 260.2h0M470.6 232.9h0M465.8 253.4h0M466.9 243.2h0M464.5 240.8h0M470.6 253h0M469.3 268h0M459.6 235h0M475.2 249.8h0M475 260.9h0M473 245.6h0M475.7 267.1h0M460.4 249.6h0M476.6 271.2h0M463 251h0M463.7 281.1h0M462 252.3h0M473.5 275.7h0M472.4 247.5h0M477.9 254.2h0M478.5 260.5h0M474.9 256.4h0M460 241.3h0M468 266.4h0M478 256.1h0M477.2 252.8h0M464.4 262.8h0M471.9 271.1h0M470.8 247h0M477.1 245.3h0M467.2 264.3h0M478.5 261.9h0M465.3 264.5h0M478.7 247.8h0M465.9 260.7h0M477.7 282.7h0M473 253.9h0M470.8 249.5h0M465 271.7h0M479 267.7h0M460.1 238.9h0M473.3 270.9h0M474.5 247.3h0M463.8 271.6h0M461.2 241.7h0M465.7 249.2h0M478.3 243.9h0M476.2 235.1h0M461.5 246.8h0M470.6 240.6h0M466.4 244.5h0M459.9 273.3h0M476.2 261.5h0M476.4 276.2h0M477.2 263h0M459.7 274.8h0M477.9 251.8h0M476.7 266.4h0M472.4 245.9h0M471.3 255.4h0M467.1 258.3h0M463.3 264.8h0M461.7 273.4h0M478.5 253.3h0M479.4 254.3h0M465.2 260.2h0M465.5 249h0M468.7 256.6h0M462 275.8h0M471.6 277.2h0M469.1 243.1h0M465.6 256.6h0M465.3 274.7h0M472.2 249.1h0M477.6 256.7h0M478.2 264h0M465 245.9h0M475.3 250.2h0M468.7 261.4h0M464.7 236.3h0M462.7 241.3h0M474.2 262.8h0M479.4 252.9h0M468 234.1h0M469.9 279.3h0M467.4 266.7h0M474.8 245h0M466.9 261.4h0M478 248.1h0M470.5 235.3h0M467.1 250.3h0M479.1 248.5h0M467.9 241.2h0M479.4 241.8h0M472.3 245.4h0M478.1 265.6h0M469.2 258.2h0M468.3 257h0M477 243.6h0M476.9 262.2h0M464.2 260.3h0M476.6 248.4h0M473 243.1h0M462.3 234.1h0M468.5 263.1h0M476.7 247.1h0M478.4 255.8h0M474.8 265h0M474.1 259.1h0M460.7 259.7h0M476.9 264.4h0M470 246.9h0M475.4 253.6h0M463.3 254.3h0M472.6 258.6h0M468.4 257h0M470.5 259.8h0M472.3 252.8h0M479.2 243.1h0M461.2 252.4h0M461 238.4h0M469.8 250h0M469.5 276.7h0M468.8 234.7h0M476 263.2h0M464.8 236.3h0M471.3 269.8h0M478.6 240.1h0M468.7 269.4h0M478.7 247h0M462.7 243.8h0M475.7 256.7h0M470.1 233.6h0M473.1 254.7h0M465.3 248.2h0M464.5 246.1h0M471.1 251.8h0M470 263.1h0M469.3 259.3h0M479.3 242h0M471.1 249.7h0M473.4 268.1h0M478.1 255.7h0M460.2 242.7h0M477.6 277.3h0M475.7 251.8h0M466.1 253.2h0M467.7 282.8h0M472.8 280.8h0M462.6 246.6h0M463.2 272.2h0M474.4 260.4h0M475.4 239.4h0M463 245.2h0M464.5 239.1h0M473.2 271.2h0M472.1 245.7h0M476.1 243.1h0M463.5 257.9h0M474.6 273h0M474.8 275.3h0M474.6 245.3h0M470.8 281h0M472.6 249.5h0M462.3 248h0M477.7 279.4h0M468 263.9h0M477.5 260.7h0M469 269.4h0M460.2 275.9h0M479.3 249.7h0M469.1 271.6h0M461.3 270.8h0M478.4 248.7h0M475.7 258h0M470.5 253.9h0M479.2 251.4h0M462.7 273.5h0M472.5 256.2h0M460.9 252.3h0M459.9 252.2h0M469.5 259.7h0M474.4 257.9h0M473.8 248.6h0M470.7 265.2h0M463.1 255.5h0M463 248.9h0M471 257.2h0M462.3 257.2h0M465.1 264.2h0M472.1 268.1h0M463.2 233.4h0M465.3 271.7h0M479.4 251.7h0M471.8 266h0M465 259h0M465.8 246.1h0M477.3 255.5h0M478.8 236.1h0M463.8 237.3h0M464.6 253.6h0M464 255.7h0M470.8 278.9h0M461.7 248.2h0M469.2 254.5h0M475.1 268.1h0M461.9 277.9h0M475.6 262.9h0M467.5 245.5h0M477 270.7h0M468.4 274h0M467.8 254.9h0M460.8 248.2h0M478 265.5h0M476.8 268.5h0M474.7 256.9h0M479.5 234.3h0M462.2 261.6h0M464.5 257.8h0M462.9 247.8h0M478.5 260.6h0M464.3 253h0M467.1 255.8h0M466.9 247.3h0M472.1 266h0M471.1 235.5h0M469.1 270.1h0M476.7 249.1h0M469.2 248.7h0M472.3 271.7h0M471.4 232.4h0M475.2 263.4h0M460.8 255.9h0M467 241.6h0M476.7 274.5h0M472.8 241.2h0M471.3 234.3h0M476.1 253.3h0M477.6 269h0M467.2 270.5h0M478.2 239.5h0M479 267h0M477.4 258.7h0M473.5 278.4h0M476.3 263.2h0M473.9 271.8h0M473.3 238.1h0M478.1 244.3h0M476.8 262h0M461.1 253.2h0M469.2 263.8h0M471.4 239.2h0M470.1 252.2h0M460.8 262.5h0M478.1 256.1h0M462.1 259.3h0M461.3 275.9h0M474.7 262.7h0M466 240.4h0M464.5 263.8h0M464.3 249.8h0M465.9 259.4h0M461.6 278.9h0M478.4 263.6h0M460.4 246.6h0M468.5 267.9h0M465.5 241.2h0M460.1 257.3h0M461.9 234.8h0M466.9 257.8h0M465.6 251h0M468 248.4h0M463.4 266.3h0M468.6 238.5h0M464.2 267.8h0M473.6 259.6h0M473.9 257.6h0M468.7 242.3h0M477 235.7h0M475.3 248.8h0M462.5 262h0M463.1 245.2h0M461.2 262.5h0M477.3 269.2h0M460.1 250.5h0M469.7 260.1h0M476.6 257.5h0M471 269.1h0M466.6 276h0M468.6 245.6h0M470 255.5h0M460.2 256.8h0M471.1 266.8h0M468.3 236h0M467.7 263.9h0M476.9 243.9h0M464.1 240h0M476.4 249.6h0M465.2 255.5h0M462.4 259h0M477.1 251.8h0M466.6 250.7h0M477.9 244.1h0M470.9 279h0M465.5 266.1h0M468.8 260.6h0M469.6 263.4h0M478.5 249.8h0M461.2 256.7h0M473.5 281.7h0M467.1 249h0M460.7 265.2h0M464.7 261.4h0M473 239.3h0M476.1 274h0M472.8 273.7h0M475.5 259.3h0M474.1 261h0M470.7 257.7h0M463 273.5h0M469.7 242.6h0M462.1 244.9h0M473 260.8h0M466.6 271.1h0M467.3 268.2h0M461.7 256.2h0M468.9 240.3h0M466.2 255.5h0M467.6 260.6h0M475.4 237.8h0M469 257.5h0M477.3 255.7h0M469.5 249.6h0M463.3 247.6h0M463.9 242h0M473.1 257.5h0M469.2 268.3h0M468 227h0M470 225h0M473 222h0M476 219.5h0M478 224h0M477 222h0M461 284h0M463 287h0M466 286h0M470 285h0M474 287h0M477 284h0M462 290h0M465 293h0M469 291h0M473 294h0M476 292h0M463 297h0M472 298.5h0M475 296h0M468 288h0" stroke="#3c7ddd" stroke-width="2.3" stroke-linecap="round" fill="none"/>
<path d="M325 212.4V372.0" stroke="#747474" stroke-width="1.5" fill="none"/>
<path d="M324.2 371.7H517.5" stroke="#7c7c7c" stroke-width="1.3" fill="none"/>
<path d="M325.4 371.8v1.9M349.6 371.8v1.9M373.7 371.8v1.9M397.6 371.8v1.9M421.4 371.8v1.9M445.5 371.8v1.9M469.5 371.8v1.9M493.5 371.8v1.9M517.5 371.8v1.9M325 230.4h-2.2M325 253.5h-2.2M325 276.4h-2.2M325 299.5h-2.2M325 322.4h-2.2M325 345.4h-2.2M325 368.3h-2.2" stroke="#747474" stroke-width=".55" fill="none"/>
<g font-size="6.3" fill="#333333">
<g text-anchor="middle">
<text x="325.4" y="380.3">-0.50</text>
<text x="349.6" y="380.3">-0.25</text>
<text x="373.7" y="380.3">0.00</text>
<text x="397.6" y="380.3">0.25</text>
<text x="421.4" y="380.3">0.50</text>
<text x="445.5" y="380.3">0.75</text>
<text x="469.5" y="380.3">1.00</text>
<text x="493.5" y="380.3">1.25</text>
<text x="517.5" y="380.3">1.50</text>
</g><g text-anchor="end">
<text x="321.2" y="232.7">0.06</text>
<text x="321.2" y="255.8">0.04</text>
<text x="321.2" y="278.7">0.02</text>
<text x="321.2" y="301.8">0.00</text>
<text x="321.2" y="324.7">-0.02</text>
<text x="321.2" y="347.7">-0.04</text>
<text x="321.2" y="370.6">-0.06</text>
</g></g>
<g font-size="7.5" fill="#2a2a2a" text-anchor="middle">
<text x="421.2" y="389.0" font-size="7.5">BP</text>
<text transform="translate(296.8 292.2) rotate(-90)">SHAP value for</text>
<text transform="translate(304.5 292.2) rotate(-90)">BP</text>
</g>
<rect x="37.8" y="424.7" width="184.2" height="152.6" fill="#e5e5e5"/>
<path d="M64.4 424.7V577.3M96.2 424.7V577.3M128.0 424.7V577.3M159.6 424.7V577.3M191.2 424.7V577.3M37.8 425.8H222M37.8 452.4H222M37.8 479.1H222M37.8 505.9H222M37.8 532.5H222M37.8 559.2H222" stroke="#fff" stroke-opacity="0.72" stroke-width=".8" fill="none"/>
<path d="M145.3 474.5h0M86.8 553.7h0M91.2 547.3h0M97.6 546h0M105.4 542.7h0M93 552.9h0M113.3 530.3h0M138.7 478.9h0M124.3 504.3h0M126.3 500.6h0M168.8 450.9h0M69.2 563.6h0M59.4 563.8h0M110.1 535h0M113.7 525.1h0M74 562.9h0M168.6 451.6h0M102.2 543.6h0M123.2 506.8h0M129.3 498.2h0M151.2 470.2h0M148.3 470.2h0M165.8 459.1h0M137 483.6h0M142 477.5h0M82 560.3h0M103.8 542h0M143.7 478.1h0M122.8 502.3h0M127.9 500.2h0M97.9 542h0M110.1 536.5h0M123.2 502.4h0M138.8 488.7h0M73.7 566.7h0M102.3 544.8h0M129.6 498.2h0M185 439.6h0M140.6 479.1h0M130.8 496.8h0M153.3 471.2h0M173.7 447.4h0M177 442.7h0M115.2 526.9h0M138.6 481.3h0M126 499.5h0M95.9 547.7h0M156.2 463.5h0M74.1 561.3h0M143.4 479.3h0M100.6 544.8h0M126.3 500.2h0M141.9 476.5h0M80.1 559.7h0M68.9 563.7h0M195 444.4h0M78.6 558.1h0M97.6 542.1h0M112 527.4h0M148.5 477.6h0M178.3 452.4h0M190.9 444.2h0M167.4 453.7h0M106.9 537.3h0M141.9 478h0M179.8 441.7h0M88.2 552.8h0M69.4 564.3h0M84.9 554.1h0M129.4 495.5h0M140.6 482h0M178.6 442.3h0M121.2 509.3h0M120.1 512.8h0M86.7 554.6h0M149.8 470.1h0M123.1 504.7h0M104.2 540.5h0M77.3 562.2h0M80.5 558h0M107.2 539.2h0M113.3 529h0M168.9 468.6h0M78.4 557h0M66.1 564.8h0M92.8 549h0M106.9 535.2h0M154.4 470.5h0M161.1 458.4h0M134 492h0M170.6 456.3h0M162.8 451.5h0M77 560h0M129.2 496.8h0M159.2 464.9h0M96.1 548.1h0M175.5 446.3h0M69 563h0M150.1 475.8h0M137.4 481.6h0M183 440.2h0M194.8 445.1h0M173.5 447.7h0M170.6 456.7h0M170.2 455.6h0M77.3 560.9h0M129 494.6h0M113.5 529.3h0" stroke="#2686f0" stroke-width="2.0" stroke-linecap="round" fill="none"/>
<path d="M131.1 498.8h0M178.5 443.9h0M111.7 528.1h0M148.5 476.7h0M97.7 541.2h0M125.9 497.9h0M196.4 443.6h0M91 548.9h0M107.3 538.5h0M144.9 481h0M154.8 468.5h0M160.7 463h0M110.2 529.2h0M78.8 557.6h0M160.7 465.5h0M142.1 483.3h0M146.8 473.3h0M149.9 476.3h0M170.2 457.3h0M76.9 557.4h0M156.5 463.3h0M157.8 466.3h0M78.8 558.7h0M161.1 461.5h0M119.7 511h0M110.1 533.4h0M94.2 545.6h0M168.8 450.9h0M171.9 457.9h0M124.3 504.8h0M154.6 471.1h0M108.7 536h0M118.3 513.7h0M169.1 455.5h0M89.6 550.2h0M195.4 445.5h0M129.5 501.9h0M135.7 488.3h0M113.5 526.3h0M120 509h0M90 544.6h0M127.6 499.1h0M166 459.3h0M165.8 459.4h0M127.4 503.7h0M138.8 488.6h0M180 447.8h0M124.8 500.2h0M83.7 554.3h0M121.6 507.7h0M102.5 537.2h0M91.6 544.6h0M175 451.2h0M127.7 499.6h0M96.3 540.4h0M129.5 502.2h0M178.3 444.4h0M190.9 442.3h0M87.9 553h0M73.4 568.9h0M99.5 540.8h0M130.8 498.9h0M94.4 547.4h0M161.1 468.2h0M116.7 519.1h0M159.3 468.4h0M130.6 498.9h0M125.9 500.1h0M88.2 550.9h0M148.1 471.8h0M69.4 563.9h0M103.7 537.6h0M67.6 565.1h0M94.7 546.5h0M165.6 462.5h0M189.9 446.7h0M194.4 446.3h0M118 515.9h0M165.6 459.7h0M148.2 479.4h0M105.7 541.6h0M73.7 559h0M94.3 544.6h0M91.2 546.6h0M77 557.8h0M157.7 470h0M100.8 539.7h0M85.2 548.9h0M72.2 561.3h0M183.1 443.5h0M175.1 448.4h0M108.8 536.5h0M141.7 483h0M110.1 534.3h0M176.6 453.8h0M129.3 498.5h0M195.2 444.1h0M158 464.5h0M135.7 490.9h0M176.8 448.6h0M135.8 490.6h0M96.3 540.2h0M134 492h0M89.5 548.9h0M173.6 452.8h0M157.5 466.8h0M154.8 468.2h0" stroke="#ee1e4e" stroke-width="2.0" stroke-linecap="round" fill="none"/>
<path d="M116.7 518.4h0M140.2 485.8h0M146.6 472.9h0M172 454.2h0M86.4 550.9h0M132.5 493.6h0M186 432.7h0M53.1 563.6h0M154.8 467.8h0M165.4 462h0M159.5 467.9h0M99.1 539.3h0M125.9 500.2h0M171.9 457.3h0M139.1 487.6h0M89.5 545.3h0M186.2 440.7h0M173.8 451h0M108.9 534.9h0M64.7 565.7h0M138.8 485h0M138.7 480.9h0M91.5 544.6h0M116.5 516.9h0M118 513.4h0M159.2 462.8h0M116.7 523h0M66.1 564.6h0M127.6 503.3h0M100.6 542.2h0M110.2 530.9h0M83.3 555.2h0M111.7 525.8h0M156.2 466.1h0M101.1 538h0M75.7 559.6h0M119.9 513.3h0M125.9 505.1h0M94.7 550h0M188.2 432.4h0M148.5 480.8h0M130.9 498.2h0M116.8 517.3h0M185.4 436.4h0M105.6 539.3h0M89.7 548.9h0M172 452.8h0M103.7 537.2h0M81.9 560.1h0M159.5 469.9h0M88 545.1h0M86.4 551.8h0M114.9 520.8h0M173.9 447.7h0M164 464.2h0M149.8 472.3h0M138.8 486.9h0M66.2 566.1h0M141.8 483.4h0M173.8 447h0M167.3 456.4h0M135.7 485.5h0M115.3 523.3h0M183.3 442.5h0M107 536.4h0M116.8 520.5h0M181.7 448.5h0M135.9 488.2h0M113.2 528.5h0M72.5 564.5h0M152.8 464.5h0M127.6 501.6h0M132.4 492.9h0M126.4 505.3h0M86.5 554.4h0M192.8 447.3h0M141.8 484.9h0M153.1 472.8h0M110.3 533.3h0M199.7 447.7h0M103.7 541.1h0M91 550.5h0M91.2 544.9h0M67.7 565.5h0M146.6 475.6h0M116.6 517.3h0M102.3 537.6h0M102.2 539.2h0M129.2 501.1h0M95.9 543.9h0M183.2 441.1h0M167.3 454.7h0M69.3 561.1h0M190.9 447.2h0M76.9 556.7h0M67.8 562.2h0M148.3 476.5h0M191.4 442.3h0M168.8 454.9h0M129.5 496.8h0M101 543.4h0M115 524.4h0M143.3 482.6h0M159.2 469.8h0M160.7 464.2h0M158 467.9h0M186.2 439.3h0M86.8 549.9h0M140.2 483h0" stroke="#ee1e4e" stroke-width="2.0" stroke-linecap="round" fill="none"/>
<path d="M176.6 450.5h0M64.3 567.2h0M146.8 474.8h0M143.5 476.1h0M94.3 547.6h0M152.8 472.8h0M113.2 529.9h0M157.7 461.7h0M161 457.5h0M88.4 549.8h0M167.5 449.3h0M81.8 558.5h0M105.3 543.2h0M113.3 525.5h0M113.5 528.2h0M185 438.8h0M102.6 544h0M178.6 447.7h0M176.9 442.1h0M72.5 564.9h0M99.1 547.5h0M190 445.5h0M45.4 566.1h0M129 499.1h0M110.3 536.4h0M115.3 525.3h0M99.3 541.7h0M107 538.5h0M111.8 530.5h0M154.6 464.1h0M121.3 511.3h0M153.2 471.3h0M162.8 454.5h0M95.8 549h0M144.8 460.3h0M140.3 485.2h0M129.4 494.7h0M83.4 557.2h0M153.2 462.5h0M88.2 551.9h0M119.5 511.6h0M72.1 564.7h0M58.4 567.3h0M118.4 513.8h0M154.8 462.9h0M69.1 562.6h0M149.9 469.6h0M137 479.5h0M89.6 546.4h0M142.2 479.4h0M83.3 552.4h0M103.7 543h0M113.5 530.1h0M146.9 470.1h0M148.4 469.8h0M182.9 440.8h0M115.2 522.2h0M140.5 480.8h0M83.4 558.2h0M77.1 556.8h0M103.8 537.1h0M127.9 501h0M132.2 491.5h0M140.4 480.6h0M89.4 545.8h0M119.8 507.4h0M86.5 547.4h0M75.5 560h0M132.7 492.1h0M99.4 542.8h0M100.9 538.5h0M107.2 539.3h0M185 443.3h0M103.7 538.4h0M78.4 561.8h0M66.1 564.2h0M167.5 450.3h0M154.4 460.8h0M140.2 483.9h0M156.3 467.7h0M182.8 439h0M129.2 497.5h0M97.8 547.9h0M173.8 452h0M82 559.5h0M130.6 497.6h0M94.3 548.9h0M108.8 536.4h0M165.7 458.4h0M157.8 471h0M89.6 545h0M72.2 560.1h0M161.2 458.2h0M124.3 503h0M94.4 550.2h0M78.6 561.7h0M83.5 556.1h0M176.6 443.5h0M164.1 456.5h0M135.9 487.1h0M64.2 568.9h0M74.1 567.3h0M180.1 440.8h0M94.3 544.7h0M114.9 524.2h0M145.4 478.2h0" stroke="#2686f0" stroke-width="2.0" stroke-linecap="round" fill="none"/>
<path d="M75.7 557.3h0M107.3 537.1h0M168.7 456.4h0M78.2 569.4h0M167.3 457.8h0M140.2 485.6h0M162.8 453.6h0M127.5 503.1h0M146.9 476h0M121.6 510.7h0M184.7 438.9h0M127.8 503.1h0M78.5 556.4h0M76.3 567.5h0M176.7 455.5h0M137.1 487.1h0M86.3 546.2h0M99.5 540.4h0M149.9 476.5h0M122.8 503.2h0M193.9 446.8h0M213.2 459.8h0M156.3 469.6h0M108.8 534.8h0M73.7 563.9h0M157.7 462.9h0M83.2 557.2h0M176.7 447.2h0M112.2 529.4h0M123.2 505.1h0M116.7 520.9h0M60.3 567.5h0M131.1 500.5h0M211.7 455h0M102.3 539.3h0M106.9 536.8h0M72.2 562.2h0M132.4 494.5h0M143.6 481.5h0M127.5 502.6h0M165.5 464.9h0M196.6 445.9h0M165.7 463h0M170.6 452h0M94.3 545.9h0M116.5 519.5h0M118.1 516.4h0M181.3 450.3h0M74.1 559.2h0M124.8 501.3h0M89.7 546.5h0M70.6 564.6h0M86.3 550.1h0M124.7 500.5h0M165.9 465.1h0M140.2 482h0M182.8 443.3h0M163.9 463h0M104.1 538.4h0M99.5 544.4h0M82 555.1h0M126.2 499.6h0M77 556.9h0M107 536.2h0M148.1 478.8h0M121.6 511h0M69.4 564.4h0M97.8 541.9h0M86.4 548.3h0M159.5 467.1h0M157.7 464.8h0M83.1 551.3h0M155.9 470h0M119.8 511.7h0M119.9 512.8h0M102.6 543.4h0M175 452.3h0M181.7 449h0M168.9 457.5h0M77 556.5h0M102.1 539.5h0M96 545.2h0M89.7 550.8h0M170.7 456.5h0M90 551.1h0M113.4 527.3h0M104.2 541.3h0M116.5 519.6h0M96.3 541.4h0M95.8 550h0M64.6 564.1h0M143.4 476.7h0M191.3 444.7h0M64.4 563.8h0M121.4 508.6h0M133.9 492h0M171.9 451.1h0M112.1 526.6h0M194.7 444.1h0M183.2 442.8h0M198.3 449.2h0M188.4 436.1h0M173.7 449h0M116.4 519.3h0M149.6 475.1h0M94.8 547.5h0" stroke="#ee1e4e" stroke-width="2.0" stroke-linecap="round" fill="none"/>
<path d="M140.6 484.9h0M113.6 529.9h0M113.5 529.6h0M99 546h0M102.5 543.2h0M138.8 482.4h0M129 501.6h0M170.6 454.1h0M138.9 480.6h0M134.2 491.8h0M108.8 532.6h0M129.4 501.5h0M94.4 547.2h0M146.8 476.7h0M137.5 487.6h0M135.9 490.2h0M123.1 503h0M178.6 447.9h0M159.5 462.8h0M183 444.6h0M137.2 481.2h0M172.1 448.2h0M108.9 537.4h0M188.3 433.7h0M97.6 540.9h0M151.4 463.3h0M105.5 543.8h0M137.1 483.7h0M94.3 548.3h0M89.9 550.2h0M67.8 566.5h0M70.6 562.3h0M173.4 446.4h0M74.1 565.9h0M119.6 513.8h0M154.4 462.7h0M170.4 454.5h0M139 481.7h0M90 549.6h0M105.4 536.4h0M129.2 500.1h0M164 460.9h0M130.7 496.7h0M67.5 564.9h0M97.6 549.6h0M99 544.3h0M156.2 471h0M137.4 483.7h0M118.4 516.4h0M113.5 525h0M124.4 503.7h0M126.3 502.3h0M167.5 455.4h0M117.9 516.3h0M138.9 482.1h0M65.7 566h0M129.3 493.9h0M108.9 538.4h0M84.7 554h0M110.2 530.5h0M170.4 447.9h0M154.5 469.3h0M160.7 456.8h0M170.2 454.6h0M91 544.9h0M112 529.4h0M108.8 538h0M88 549.6h0M159.4 466.4h0M102.6 543.7h0M186.6 438.7h0M110.2 534.9h0M129.2 502.2h0M65.9 566.4h0M153.2 466.9h0M159.5 462.9h0M61.3 567.1h0M160.8 457.4h0M137.4 480.3h0M57 567.1h0M67.9 566.5h0M105.6 540.5h0M124.3 501.5h0M145 479.5h0M157.8 464.8h0M170.2 455.7h0M75.2 558.1h0M146.6 471.6h0M182.9 445.6h0M86.3 548.1h0M162.5 460h0M178.4 447.9h0M146.7 473.7h0M159.2 460.5h0M134 491.6h0M97.5 549.8h0M91.3 551h0M84.9 555.2h0M65.9 565.6h0M65.8 565.6h0M83.2 551.9h0M81.8 557.6h0M67.5 566.6h0M175.3 442.3h0M94.2 543.9h0M181.7 442.3h0M151.3 469.1h0M119.8 513.2h0" stroke="#2686f0" stroke-width="2.0" stroke-linecap="round" fill="none"/>
<path d="M93.1 550.8h0M105.7 540.9h0M113.4 530.2h0M105.6 537.1h0M107.1 536.4h0M66 564.2h0M137.3 478.6h0M154.4 468h0M73.7 557.8h0M107 537.3h0M92.7 551.9h0M134.3 490.6h0M108.8 537.5h0M140.5 477.9h0M110.1 534.7h0M133.8 492.5h0M75.5 561.4h0M74.1 566h0M65.8 565.1h0M160.7 462.1h0M67.3 562.1h0M145.2 478.5h0M80.3 557.5h0M107.4 539.1h0M121.6 509.3h0M88.2 552.1h0M105.7 542.2h0M134.1 490.2h0M187.7 432.7h0M137.2 480.1h0M176.8 442.8h0M132.3 489.5h0M97.4 544.6h0M175.1 448.2h0M124.8 500.8h0M172.3 450.7h0M111.7 526.4h0M115 523.7h0M163.9 460.1h0M70.9 563.5h0M134.3 492.2h0M100.9 540.5h0M99.5 544.8h0M148.3 468.6h0M157.6 464.4h0M77.1 563.4h0M151.2 468.4h0M91.5 544.7h0M151.4 472.5h0M126.3 500.6h0M175 450.9h0M110.2 532h0M72.3 566h0M105.4 542.2h0M157.6 463.4h0M66 567h0M129.1 494.7h0M134 489.3h0M163.9 463.6h0M116.9 520.8h0M91.2 550.2h0M72.2 564.2h0M92.9 547.9h0M92.8 551.3h0M174.9 446.1h0M80.2 557.7h0M99.1 544.5h0M169 456.1h0M149.6 473.5h0M67.7 562.5h0M89.7 543.9h0M91.5 550.4h0M96.3 544.1h0M156.1 462.8h0M92.9 551.1h0M121.1 509.2h0M137.5 485h0M83.4 551.9h0M183.4 441.9h0M162.4 455.3h0M170.4 448.2h0M113.6 528.6h0M108.6 534.9h0M77.3 557.5h0M62.3 567.7h0M91.3 548.4h0M176.8 453.8h0M99.2 544.4h0M111.7 527.1h0M80.2 556.2h0M151.5 465.4h0M151.5 463.4h0M141.8 478.5h0M162.7 464.2h0M181.7 441h0M178.4 444h0M88.1 551.8h0M166 454.4h0M150.1 475.4h0M156.3 467h0M162.8 456.7h0M134 488.2h0M154.6 463.9h0M77.3 561.9h0M129.1 498.9h0M86.6 548.5h0M119.6 513h0M70.5 564.7h0M127.5 498.4h0M132.5 492.3h0M194.2 444.5h0" stroke="#2686f0" stroke-width="2.0" stroke-linecap="round" fill="none"/>
<path d="M65.7 569.9h0M152.9 471.7h0M104.2 542.6h0M73.7 559.7h0M88 547.4h0M165.7 459.5h0M123.1 508h0M111.7 527.5h0M85.2 547.3h0M164.2 455.7h0M124.5 500.5h0M86.6 553.6h0M159.1 472.3h0M186.1 438.3h0M184.6 440.1h0M179.8 448.4h0M84.8 549.4h0M149.8 469.5h0M153.1 474.3h0M145.3 482h0M103.9 539.9h0M187.9 436.5h0M146.7 481h0M91.5 545h0M89.6 545.3h0M184.2 434.2h0M73.9 559.1h0M115.1 521.1h0M64.2 565.9h0M138.8 482h0M138.5 488h0M201.7 446.3h0M115.2 521h0M143.8 481.8h0M156.1 473h0M183.2 448h0M105.3 543.8h0M156.4 470.9h0M80.2 559h0M184.7 436.8h0M88.2 544.9h0M165.5 455h0M189.6 443.8h0M172 456.6h0M143.6 476.2h0M153 474.6h0M102.6 541h0M124.8 504.3h0M67.4 564h0M168.7 458.1h0M148.5 471.7h0M149.9 473.2h0M141.7 481.7h0M72.3 564.8h0M154.5 464h0M110.2 533.9h0M75.6 560.1h0M67.4 564h0M98.9 539.3h0M85.2 551.3h0M121.6 506.6h0M97.9 541.7h0M84.7 553.2h0M88 545.2h0M193.2 446.1h0M177 441.8h0M138.9 488.7h0M184.7 432.9h0M105.6 537.3h0M133.9 489.5h0M91.6 546.5h0M148.2 475.4h0M63.7 565.5h0M121.5 511.9h0M183.2 447h0M121.5 507.8h0M110 532.1h0M112.1 526.1h0M83.2 558.4h0M178.2 444.9h0M74.1 561.9h0M119.9 509.9h0M145.4 480.9h0M102.4 539.5h0M167.5 459.9h0M69.5 570.4h0M119.7 512.5h0M165.5 457.7h0M150 471.8h0M88.4 547.4h0M180.1 450.6h0M168.7 454.5h0M195.8 445.3h0M70.7 560.6h0M86.3 550.4h0M194.1 447.6h0M109 532.2h0M148.3 474.6h0M176.6 451.6h0M95.9 539.2h0M183 448h0M105.5 539.7h0M135.4 487.4h0" stroke="#ee1e4e" stroke-width="2.0" stroke-linecap="round" fill="none"/>
<path d="M96.2 543.9h0M129.5 500.2h0M94.6 544.7h0M148.2 469.4h0M162.7 452.8h0M80.2 557.2h0M97.8 547.8h0M102.5 545.6h0M168.8 455.9h0M132.4 490.7h0M108.7 535.4h0M186.4 436.4h0M168.7 455h0M178.2 442.5h0M113.6 530.3h0M103.7 543.5h0M165.8 457.8h0M88.4 552.2h0M127.5 501.8h0M180.2 439h0M77 561.5h0M78.4 561h0M151.4 468.6h0M74.1 562h0M167.1 453.2h0M96.3 539.6h0M173.7 445.9h0M78.6 559.3h0M167.2 459.1h0M167.2 460.1h0M134.2 492.8h0M86.4 554.6h0M146.5 469.8h0M149.8 468.6h0M103.7 538.7h0M119.8 509.1h0M84.9 555h0M91.1 547.4h0M115.1 525.1h0M137 486.3h0M157.9 467.5h0M119.7 511.2h0M78.6 561.7h0M157.6 464h0M162.4 458.6h0M138.8 479.5h0M85.3 551.7h0M88 554.4h0M99.3 544h0M186.5 438.9h0M74.1 567.4h0M138.7 480.3h0M170.5 453.4h0M124.8 505.3h0M127.8 497.9h0M135.6 488.4h0M99 545.4h0M138.7 478.7h0M130.8 499.2h0M161.1 460.1h0M154.7 470.4h0M168.8 452.6h0M112.1 530.8h0M75.4 560.1h0M121.4 508.1h0M73.8 561.7h0M181.7 440.8h0M151.3 463.5h0M86.3 554.2h0M135.6 488.7h0M160.9 464.3h0M181.6 447.4h0M102.1 540.1h0M177 444.9h0M125.9 504.9h0M148.5 472.1h0M77.3 559.2h0M72.5 566.1h0M120.1 512.5h0M99.3 542.1h0M167.5 451.7h0M142.1 478.2h0M149.8 473.4h0M162.7 455.6h0M83.5 552.6h0M97.6 541.4h0M75.2 561.3h0M116.8 522h0M165.7 459h0M100.5 541.5h0M178.3 444.5h0M170.4 453h0M114.8 525.7h0M114.9 526.5h0M159.3 458.3h0M157.6 462.2h0M156.4 472.3h0M80.2 557h0M146.5 470h0M181.5 448.4h0M139.1 481.4h0M140.2 481.5h0M93.1 550.2h0M73.9 564.2h0M97.4 544.5h0M80.1 556.5h0M123 504.5h0M173.8 446.2h0M74.1 562.7h0M161.2 460.1h0M145.4 475.3h0M121.5 510.9h0M96 549.8h0M88.1 547.5h0M116.9 519.7h0M95.9 545.3h0M129.5 498.5h0M89.6 551.3h0M157.7 463.6h0M73.6 562.1h0" stroke="#2686f0" stroke-width="2.0" stroke-linecap="round" fill="none"/>
<path d="M91.6 552.2h0M85 549h0M104.1 538.9h0M182.9 447.2h0M105.8 538.8h0M194 447.5h0M154.4 470.4h0M135.6 491.1h0M127.7 503.5h0M119.7 511.8h0M156.4 474.9h0M164 465.2h0M74.2 564.9h0M124.4 501.4h0M155.9 468.7h0M99.4 539.9h0M151.5 468.9h0M88.3 553.7h0M102.2 539.9h0M66.3 563.4h0M149.7 469.6h0M91.2 546.6h0M88.2 548h0M173.5 453.4h0M113.5 527.8h0M75.3 558.4h0M184.9 441.5h0M156.1 469.9h0M84.8 548.6h0M78.5 555.6h0M154.9 462.7h0M183.4 447.2h0M91.2 546.4h0M176.9 449.2h0M142.1 479.4h0M102.4 539.2h0M150.1 474.6h0M171.9 457.2h0M67.8 563.3h0M85.2 552.9h0M104.1 541.4h0M170.6 454.2h0M176.8 455h0M148.1 476.6h0M121.5 508.5h0M175.4 445.2h0M173.8 456.1h0M137 483.8h0M121.6 510.1h0M65.7 563.8h0M83.7 552.4h0M167.1 456.4h0M81.7 553.1h0M92.8 550.1h0M173.6 455.9h0M159.1 470.5h0M153.1 475h0M115 524.2h0M145.1 479.1h0M75.5 562.1h0M64.3 563.8h0M77.3 557.9h0M96.1 540.8h0M185.4 432.2h0M181.4 443.7h0M137.3 485.3h0M81.6 557.5h0M83.3 554.8h0M162.4 462.5h0M75.3 560.4h0M152.8 469.3h0M102.4 544h0M148.5 481.1h0M75.3 559.6h0M55 566.9h0M145 474.9h0M78.4 556.7h0M121.4 506.5h0M131.1 496.4h0M165.9 465.8h0M83.6 550.9h0M84.9 549.8h0M73.9 562.9h0M138.7 488h0M81.5 560.3h0M161 459.8h0M86.4 547.6h0M142.2 484h0M135.6 488.9h0M127.7 502.5h0M103.9 537.9h0M69.1 563.4h0M104.1 542.1h0M160.9 467.3h0" stroke="#ee1e4e" stroke-width="2.0" stroke-linecap="round" fill="none"/>
<path d="M83.4 557.7h0M84.9 550.2h0M177 448.9h0M130.8 500.9h0M91.6 545.9h0M167.3 456.7h0M186.6 440.2h0M176.7 446.8h0M183.6 438.2h0M146.6 473.6h0M116.9 519.9h0M159.4 471.5h0M96.1 543.5h0M175.1 451.4h0M181.6 450h0M156.3 467.4h0M184.7 438.8h0M110.5 533h0M108.7 533.1h0M178.2 449h0M196.5 443.6h0M165.8 461.2h0M78.9 556.3h0M162.4 462.6h0M73.9 559.1h0M124.5 505.8h0M127.7 498.6h0M100.6 543.4h0M195.4 443.6h0M134.3 490.2h0M155.9 464.9h0M183.2 443h0M173.9 451.7h0M195.5 442.9h0M184.8 441.1h0M107.2 535.2h0M95.9 547.7h0M157.8 472.3h0M66 563.1h0M85.1 554.8h0M99.5 544h0M95.9 539.3h0M180.2 444.2h0M164 465.6h0M145.3 482.3h0M206.9 447.2h0M130.9 496.5h0M94.6 543.8h0M159.2 468.9h0M80.1 556h0M119.9 507.1h0M141.9 482.7h0M76.8 560.3h0M170.5 457.4h0M78.6 556.8h0M137.1 488.5h0M130.7 495.6h0M126.2 499h0M100.8 538.8h0M143.3 482.4h0M112.1 529.3h0M64.3 564.1h0M114.9 527.1h0M159.4 473.3h0M111.9 528.2h0M176.7 454.7h0M74.1 558.6h0M181.3 450.3h0M100.5 539.8h0M97.6 546.7h0M165.4 463h0M124.8 505.4h0M73.7 560.3h0M141.7 485.5h0M146.7 478.8h0M80.4 558.5h0M90 547.5h0M178.3 448.1h0M157.9 470.9h0M123 507.5h0M95.9 541.7h0M115.2 523h0M111.6 525.9h0M74.1 561h0M183.3 446.8h0M165.5 463.1h0M170.7 457.3h0M81.9 553.4h0M103.8 537.1h0M64.2 564.7h0M100.6 539.8h0M153 472.2h0M81.8 552.9h0M151.7 468.8h0M193 453.1h0M123.2 508.1h0M111.8 527.9h0M81.6 555.2h0M190.8 446.8h0M183 447.4h0M77.3 557.1h0M165.6 459.5h0" stroke="#ee1e4e" stroke-width="2.0" stroke-linecap="round" fill="none"/>
<path d="M143.7 478.6h0M81.6 560.3h0M156.1 468.8h0M153.1 464.1h0M176.7 442.4h0M178.1 448.8h0M160.7 455h0M97.8 549.3h0M88.4 552.3h0M146.9 470.9h0M77 560.8h0M106.9 537.1h0M157.5 471h0M131 500.8h0M183.1 438.7h0M104.2 543.6h0M176.7 456.3h0M116.8 522.9h0M104.2 543.2h0M175.2 442.9h0M116.4 520.5h0M75.5 563.3h0M121.2 507h0M135.5 491.4h0M168.8 451.2h0M162.5 454.8h0M95.8 550.2h0M92.7 551.7h0M176.5 449.4h0M91.4 547.1h0M181.4 450.2h0M89.6 551.4h0M107 535.4h0M172.1 453.3h0M104.1 542.7h0M85.2 553.8h0M130.8 498.2h0M124.6 502.8h0M167.1 450.5h0M137.3 483.9h0M75.6 562.8h0M186.4 434.8h0M129 494.9h0M113.6 529.9h0M102.7 541.3h0M175.3 444.4h0M148 478.6h0M141.8 476.2h0M137.2 479.8h0M96.3 548.9h0M148.5 478.2h0M173.4 450.2h0M151.2 464.5h0M116.7 518.1h0M86.8 552.6h0M196 446.6h0M71 563.1h0M141.8 479.9h0M94.6 547.2h0M137.2 480.4h0M95.9 548.4h0M86.4 554h0M95.8 546.2h0M110.3 534.4h0M102.5 542.1h0M161.2 462.1h0M127.8 499.2h0M129.2 495h0M102.6 543.2h0M148.2 470.1h0M94.7 543.9h0M99.2 545.8h0M94.4 545.3h0M97.4 546.3h0M163.9 466.4h0M70.5 567.5h0M135.7 488.5h0M75.5 560.3h0M162.6 453.7h0M53.6 567.1h0M75.7 558.2h0M134.2 488h0M81.8 560.3h0M88.1 554.5h0M78.7 562.4h0M73.9 570.9h0M159.3 469.9h0M159.1 460h0M67.8 567.3h0M135.4 485.2h0M106.9 540.7h0M70.7 560.9h0M126 501.2h0M138.6 488.1h0M81.9 559.1h0M66.6 571.3h0M78.8 562.8h0M80.3 560.6h0M100.6 541.7h0M100.7 538h0M84.7 550.8h0M173.7 453h0M137.3 482.1h0M184.5 440.2h0M105.7 537.9h0M110.5 533.9h0M145.1 476h0M116.4 517.4h0M185 436.2h0M67.5 562.7h0M124.8 505.5h0M172 448.2h0" stroke="#2686f0" stroke-width="2.0" stroke-linecap="round" fill="none"/>
<path d="M156.5 475.6h0M153.3 472h0M76.8 559.4h0M170.6 453.2h0M129.2 500.5h0M176.9 456.7h0M70.5 560.4h0M176.7 448.4h0M171.9 449.9h0M176.6 459.8h0M126 505.2h0M68.9 562.7h0M99.4 540h0M112 527.7h0M124.3 505h0M166 465.3h0M193.4 444.5h0M122.8 505.6h0M108.7 532.9h0M89.6 544.9h0M181.3 448.5h0M142.2 485h0M94.7 545.9h0M126 498.3h0M86.3 549h0M64.4 563.9h0M190.8 444.4h0M86.4 549.5h0M96 540.6h0M86.5 549.6h0M96.3 544.8h0M103.9 539.2h0M152.8 470.1h0M176.9 443.9h0M67.7 562.1h0M92.7 548h0M180.1 447.1h0M73.9 563.5h0M180.2 449.1h0M154.7 466.4h0M70.5 562.2h0M80.2 560.8h0M176.6 456.2h0M97.6 542.7h0M194.5 446.3h0M184.8 443.4h0M86.4 547.8h0M189.5 438.1h0M170.4 453.3h0M159.3 466.1h0M138.6 487.2h0M78.7 571.3h0M156.4 474h0M73.9 560.3h0M90 549.5h0M148.4 471.1h0M151.2 472.5h0M131 495.6h0M111.8 530.9h0M70.5 560.5h0M78.5 559h0M75.6 560.4h0M137 484.9h0M179.9 445.3h0M80.2 556h0M172.2 457.2h0M97.8 548.2h0M137 487.6h0M162.4 464.2h0M186.3 437.3h0M91.5 550.7h0M184.4 437.2h0M189.2 445.4h0M75.5 561.9h0M77.2 557h0M87.9 547.5h0M100.9 536.9h0M158.1 465.2h0M132.5 492.5h0M124.7 504.1h0M72 561.6h0M88.2 544.8h0M175 452.2h0M89.5 544h0M115.1 523.1h0M115 522.8h0M161 468.5h0M94.4 544.7h0M97.4 543.8h0" stroke="#ee1e4e" stroke-width="2.0" stroke-linecap="round" fill="none"/>
<path d="M186.3 434.9h0M100.5 542.3h0M81.9 558.6h0M100.9 540.8h0M186.4 436.4h0M130.9 495h0M96.1 548.8h0M159.3 458.5h0M186.5 439.2h0M96.1 548.6h0M138.8 482.4h0M106.9 539.9h0M146.9 471.2h0M167.3 455.3h0M93.2 549.7h0M123 502.2h0M91.5 551.7h0M91.6 549.6h0M110.1 536.7h0M129.3 502.6h0M102.3 542h0M150 474.8h0M100.7 544.5h0M83.3 556.6h0M154.8 466.4h0M167.5 455.3h0M164.1 456.5h0M87.9 545.6h0M137.5 484.4h0M80.5 562.2h0M105.8 538.6h0M167.4 453.5h0M133.8 491.8h0M73.8 559.9h0M121.2 509.5h0M124.3 504.5h0M149.8 470h0M99.1 546.5h0M179.9 440.7h0M145.3 482.3h0M175.2 449.5h0M168.6 454h0M92.8 550.5h0M143.7 477.5h0M81.9 560.8h0M184.6 436.6h0M124.8 501.3h0M108.7 537.5h0M173.6 455.2h0M125.9 505.8h0M165.5 466.9h0M169.1 448.7h0M138.7 487.8h0M143.4 482.5h0M102.2 544.8h0M168.7 450.2h0M164.4 455.6h0M146.5 473.2h0M140.5 480.7h0M88.1 550.6h0M138.7 480.1h0M116.7 523h0M74.1 565.1h0M107.4 539.6h0M138.6 481.1h0M82 558.5h0M105.4 543.5h0M141.9 482.8h0M107.3 538.1h0M110.3 533.9h0M179.9 440h0M113.5 525.5h0M132.2 491.8h0M167.4 452.8h0M139 481.5h0M129.6 495.8h0M138.7 482.5h0M132.2 492.9h0M86.4 551h0M86.5 546.5h0M97.6 544.6h0M110.1 535.2h0M137.3 486.9h0M110.5 535.3h0M134.1 489.5h0M135.9 486.3h0M162.6 455.8h0M119.7 512.1h0M97.8 549.9h0M80 557.9h0M77.3 560.4h0M108.7 536.7h0M102.6 542.7h0M105.4 543.9h0M102.5 543h0M182.9 440.8h0M127.5 500.3h0M170.4 458.2h0M164.1 457.9h0M70.5 561.7h0M157.9 463.6h0M132.3 492.6h0M78.6 558h0M162.7 460.2h0M181.4 444.1h0M184.9 437.9h0M126.4 498.3h0M124.4 500.1h0M99 540.4h0M173.5 454.3h0M151.5 467.1h0M121.2 506.4h0M134.2 490.9h0M96.1 546.7h0M153.2 462.7h0M171.8 453.6h0M140.2 480.5h0M168.9 450.8h0M159.3 469.4h0M75.5 563.3h0M178.5 444.8h0M141.9 481h0M83.4 554.4h0M167.1 451.9h0M102.4 543.6h0" stroke="#2686f0" stroke-width="2.0" stroke-linecap="round" fill="none"/>
<path d="M97.6 540.8h0M107.4 535.8h0M94.6 544.5h0M102.3 539h0M183.2 447.3h0M148.3 467.5h0M153 461h0M92.7 547.4h0M116.8 520.7h0M74 561.2h0M108.6 537.1h0M126.4 498h0M162.3 453h0M167.3 449.8h0M73.8 560.1h0M121.4 505.8h0M127.5 499h0M67.5 563.8h0M108.7 536.3h0M168.6 448.7h0M115 527h0M119.6 512.6h0M100.5 541.3h0M83.5 555.8h0M74 566.7h0M184.7 443h0M88.2 554.4h0M121.6 505.4h0M129.3 498.4h0M107.3 539.9h0M145.2 476.5h0M165.6 456.9h0M130.7 498.1h0M129.2 494.8h0M162.8 455.8h0M64.1 566.7h0M88.4 551.5h0M118.5 513.6h0M181.7 442.8h0M168.9 446.9h0M157.8 465.5h0M140.4 479.7h0M90 544.7h0M166 457.6h0M81.9 554.7h0M160.8 455.3h0M186.2 435.5h0M179.9 451.5h0M170.2 450.1h0M186.1 436.3h0M137 482.7h0M99.1 543.3h0M160.9 467.9h0M72.5 564.3h0M76.8 561.2h0M110.3 534.5h0M170.2 448.5h0M103.9 542.7h0M130.8 498.3h0M184.8 436.4h0M101.1 543h0M167.4 455.5h0M176.8 449.9h0M86.8 550.4h0M78.8 560.2h0M120 507.6h0M135.7 487.5h0M121.1 512.4h0M122.7 502.4h0M96.3 544.6h0M83.5 556.8h0M161.1 456.2h0M124.5 501.5h0M93 551.3h0M91.2 552.4h0M100.8 539h0M159.4 467.1h0M86.6 549.3h0M122.7 508.2h0M145.4 480.4h0M150.2 476.4h0M109 533.2h0M123 503.7h0M135.7 491.7h0M138.5 478.3h0M180.1 443.3h0M153.3 463.4h0M179.5 457.9h0M131 500h0M122.9 507.9h0M67.8 564.5h0M168.7 450.7h0M110.6 533h0M126.1 505.9h0M91.1 550.5h0M123 504.2h0M106.9 535.5h0M140.2 481.4h0M132.7 490.7h0M144.9 477.6h0M148.1 468h0M121.6 500.6h0M81.9 558.9h0M73.6 567.3h0M162.8 453.8h0M156.3 466.7h0M151.6 467.7h0M132.4 493.2h0M196.1 444.8h0M175.2 450.1h0M121.4 506.2h0M102.6 543.7h0M78.8 559.6h0M81.6 556.1h0M91.2 548.3h0M178.5 448.7h0M176.6 442.8h0M94.2 545.3h0M132.3 494h0" stroke="#2686f0" stroke-width="2.0" stroke-linecap="round" fill="none"/>
<path d="M88.1 547.2h0M127.9 502.5h0M159.1 467.3h0M83.2 557.7h0M121.6 511.6h0M70.5 560.9h0M105.3 538.1h0M181.8 446.6h0M134.3 490.9h0M105.8 536.5h0M129.4 495.2h0M181.7 445.4h0M115.1 526.5h0M75.6 562.9h0M127.5 501.8h0M193 443.7h0M180.1 444.9h0M78.5 556.7h0M153.2 466.1h0M162.8 464.2h0M191.2 447.9h0M156 471.4h0M134.1 491.7h0M85 547.9h0M108.7 534.2h0M192.9 447.4h0M167.1 459h0M134 489.9h0M91.6 549.4h0M84.8 546.6h0M86.5 548.6h0M179.8 446.6h0M152.9 475.7h0M148.1 474.5h0M126.1 500.2h0M72.2 563.1h0M151.4 469.2h0M146.9 470.5h0M157.9 472h0M189.1 443.8h0M56.5 562.8h0M89.9 547.6h0M77.2 557h0M148.4 480.9h0M89.7 545.2h0M146.4 481.7h0M195.3 444.1h0M89.9 545.9h0M156.1 466.3h0M157.9 463.8h0M122.8 508h0M181.8 449.5h0M119.9 509.2h0M196.6 448h0M78.5 557.7h0M159.5 472.3h0M118.4 516.3h0M78.6 555.6h0M180.2 439.4h0M132.7 493.3h0M170.7 452.4h0M143.4 480.9h0M97.6 544h0M130.7 501h0M127.7 500.7h0M162.8 454.6h0M71 562.8h0M119.7 511.5h0M194.7 443h0M87.9 546.4h0M77.2 558.3h0M130.9 500.9h0M119.7 513.8h0M184.8 439.5h0M89.5 551.4h0M132.3 496h0M64.2 565.2h0M164.3 465.2h0M116.7 519.7h0M69.2 562h0M78.7 557.2h0M78.4 556.4h0M83.3 556h0M151.5 470.8h0M99.2 543.4h0M165.7 461.8h0M148.3 481.4h0M73.9 559.5h0M94.5 547.8h0M149.6 469.9h0M67.7 561.9h0M108.7 536.4h0M176.6 453.1h0M163.9 460.8h0M125.9 501.8h0" stroke="#ee1e4e" stroke-width="2.0" stroke-linecap="round" fill="none"/>
<path d="M37.8 424.7V578.0" stroke="#747474" stroke-width="1.1" fill="none"/>
<path d="M37.2 577.7H222" stroke="#7c7c7c" stroke-width="1.3" fill="none"/>
<path d="M64.4 577.8v1.9M96.2 577.8v1.9M128.0 577.8v1.9M159.6 577.8v1.9M191.2 577.8v1.9M37.8 425.8h-2.2M37.8 452.4h-2.2M37.8 479.1h-2.2M37.8 505.9h-2.2M37.8 532.5h-2.2M37.8 559.2h-2.2" stroke="#747474" stroke-width=".55" fill="none"/>
<g font-size="5.8" fill="#333333">
<g text-anchor="middle">
<text x="64.4" y="585.6">30</text>
<text x="96.2" y="585.6">32</text>
<text x="128.0" y="585.6">34</text>
<text x="159.6" y="585.6">36</text>
<text x="191.2" y="585.6">38</text>
</g><g text-anchor="end">
<text x="33.4" y="428.1">0.6</text>
<text x="33.4" y="454.7">0.4</text>
<text x="33.4" y="481.4">0.2</text>
<text x="33.4" y="508.2">0.0</text>
<text x="33.4" y="534.8">-0.2</text>
<text x="33.4" y="561.5">-0.4</text>
</g></g>
<g font-size="7.3" fill="#2a2a2a" text-anchor="middle">
<text x="129.9" y="595.4" font-size="7.3">IRTave_TK</text>
<text transform="translate(13.2 501.3) rotate(-90)">SHAP value for</text>
<text transform="translate(20.9 501.3) rotate(-90)">IRTave_TK</text>
</g>
<rect x="233.5" y="424.7" width="2.1" height="76.5" fill="#e81e4b"/>
<rect x="233.5" y="501.2" width="2.1" height="75.8" fill="#3282f5"/>
<g font-size="5.8" fill="#6a6a6a">
<text x="237.5" y="427.6">1.0</text>
<text x="237.5" y="503.2">0.5</text>
<text x="237.5" y="579.4">0.0</text>
</g>
<text font-size="6.4" fill="#2a2a2a" text-anchor="middle" transform="translate(252.4 501.4) rotate(-90)">BP</text>
<rect x="324.2" y="421" width="189.6" height="157.4" fill="#e5e5e5"/>
<path d="M332.5 421V578.4M367.2 421V578.4M401.8 421V578.4M436.3 421V578.4M470.8 421V578.4M505.4 421V578.4M324.2 439.2H513.8M324.2 459.6H513.8M324.2 479.9H513.8M324.2 500.3H513.8M324.2 520.6H513.8M324.2 541.0H513.8M324.2 561.3H513.8" stroke="#fff" stroke-opacity="0.72" stroke-width=".8" fill="none"/>
<path d="M332.6 514.8h0" stroke="#665ce4" stroke-width="2.7" stroke-linecap="round"/>
<path d="M332.6 515.7h0" stroke="#3f76ee" stroke-width="2.7" stroke-linecap="round"/>
<path d="M332.6 516.6h0" stroke="#665ce4" stroke-width="2.7" stroke-linecap="round"/>
<path d="M332.6 517.5h0" stroke="#665ce4" stroke-width="2.7" stroke-linecap="round"/>
<path d="M332.6 518.4h0" stroke="#3b78ee" stroke-width="2.7" stroke-linecap="round"/>
<path d="M332.6 519.3h0" stroke="#2e81ef" stroke-width="2.7" stroke-linecap="round"/>
<path d="M332.6 520.2h0" stroke="#377bee" stroke-width="2.7" stroke-linecap="round"/>
<path d="M332.6 521.1h0" stroke="#3b78ee" stroke-width="2.7" stroke-linecap="round"/>
<path d="M332.6 522.0h0" stroke="#3b78ee" stroke-width="2.7" stroke-linecap="round"/>
<path d="M332.6 522.9h0" stroke="#3f76ee" stroke-width="2.7" stroke-linecap="round"/>
<path d="M332.6 523.8h0" stroke="#665ce4" stroke-width="2.7" stroke-linecap="round"/>
<path d="M332.6 524.7h0" stroke="#327eef" stroke-width="2.7" stroke-linecap="round"/>
<path d="M332.6 525.6h0" stroke="#665ce4" stroke-width="2.7" stroke-linecap="round"/>
<path d="M332.6 526.5h0" stroke="#377bee" stroke-width="2.7" stroke-linecap="round"/>
<path d="M332.6 527.4h0" stroke="#3f76ee" stroke-width="2.7" stroke-linecap="round"/>
<path d="M332.6 528.3h0" stroke="#3b78ee" stroke-width="2.7" stroke-linecap="round"/>
<path d="M332.6 529.2h0" stroke="#3f76ee" stroke-width="2.7" stroke-linecap="round"/>
<path d="M332.6 530.1h0" stroke="#327eef" stroke-width="2.7" stroke-linecap="round"/>
<path d="M332.6 531.0h0" stroke="#3f76ee" stroke-width="2.7" stroke-linecap="round"/>
<path d="M332.6 531.0h0" stroke="#8a44cf" stroke-width="2.7" stroke-linecap="round"/>
<path d="M332.6 531.9h0" stroke="#dc1e80" stroke-width="2.7" stroke-linecap="round"/>
<path d="M332.6 532.8h0" stroke="#a336bc" stroke-width="2.7" stroke-linecap="round"/>
<path d="M332.6 533.7h0" stroke="#e51e67" stroke-width="2.7" stroke-linecap="round"/>
<path d="M332.6 534.6h0" stroke="#8a44cf" stroke-width="2.7" stroke-linecap="round"/>
<path d="M332.6 535.5h0" stroke="#ca2498" stroke-width="2.7" stroke-linecap="round"/>
<path d="M332.6 536.4h0" stroke="#a336bc" stroke-width="2.7" stroke-linecap="round"/>
<path d="M332.6 537.3h0" stroke="#ca2498" stroke-width="2.7" stroke-linecap="round"/>
<path d="M332.6 538.2h0" stroke="#8a44cf" stroke-width="2.7" stroke-linecap="round"/>
<path d="M332.6 539.1h0" stroke="#dc1e80" stroke-width="2.7" stroke-linecap="round"/>
<path d="M332.6 540.0h0" stroke="#7e4cd6" stroke-width="2.7" stroke-linecap="round"/>
<path d="M332.6 540.9h0" stroke="#e51e67" stroke-width="2.7" stroke-linecap="round"/>
<path d="M332.6 541.8h0" stroke="#e51e67" stroke-width="2.7" stroke-linecap="round"/>
<path d="M332.6 542.7h0" stroke="#d71e8c" stroke-width="2.7" stroke-linecap="round"/>
<path d="M332.6 543.6h0" stroke="#d71e8c" stroke-width="2.7" stroke-linecap="round"/>
<path d="M332.6 544.5h0" stroke="#eb1e55" stroke-width="2.7" stroke-linecap="round"/>
<path d="M332.6 545.4h0" stroke="#a336bc" stroke-width="2.7" stroke-linecap="round"/>
<path d="M332.6 546.3h0" stroke="#e91e5a" stroke-width="2.7" stroke-linecap="round"/>
<path d="M332.6 547.2h0" stroke="#d71e8c" stroke-width="2.7" stroke-linecap="round"/>
<path d="M332.6 548.0h0" stroke="#3f76ee" stroke-width="2.7" stroke-linecap="round"/>
<path d="M332.6 548.9h0" stroke="#a336bc" stroke-width="2.7" stroke-linecap="round"/>
<path d="M332.6 549.8h0" stroke="#7e4cd6" stroke-width="2.7" stroke-linecap="round"/>
<path d="M332.6 550.7h0" stroke="#a336bc" stroke-width="2.7" stroke-linecap="round"/>
<path d="M332.6 551.6h0" stroke="#a336bc" stroke-width="2.7" stroke-linecap="round"/>
<path d="M332.6 552.5h0" stroke="#7e4cd6" stroke-width="2.7" stroke-linecap="round"/>
<path d="M332.6 553.0h0" stroke="#a336bc" stroke-width="2.7" stroke-linecap="round"/>
<path d="M332.6 553.9h0" stroke="#963cc8" stroke-width="2.7" stroke-linecap="round"/>
<path d="M332.6 554.8h0" stroke="#8a44cf" stroke-width="2.7" stroke-linecap="round"/>
<path d="M332.6 555.7h0" stroke="#eb1e55" stroke-width="2.7" stroke-linecap="round"/>
<path d="M332.6 556.6h0" stroke="#8a44cf" stroke-width="2.7" stroke-linecap="round"/>
<path d="M332.6 557.5h0" stroke="#d71e8c" stroke-width="2.7" stroke-linecap="round"/>
<path d="M332.6 558.4h0" stroke="#963cc8" stroke-width="2.7" stroke-linecap="round"/>
<path d="M332.6 559.3h0" stroke="#e01e73" stroke-width="2.7" stroke-linecap="round"/>
<path d="M332.6 560.0h0" stroke="#e91e5a" stroke-width="2.7" stroke-linecap="round"/>
<path d="M332.6 560.9h0" stroke="#e91e5a" stroke-width="2.7" stroke-linecap="round"/>
<path d="M332.6 561.8h0" stroke="#eb1e55" stroke-width="2.7" stroke-linecap="round"/>
<path d="M332.6 562.7h0" stroke="#e01e73" stroke-width="2.7" stroke-linecap="round"/>
<path d="M332.6 563.6h0" stroke="#e51e67" stroke-width="2.7" stroke-linecap="round"/>
<path d="M332.6 564.5h0" stroke="#ca2498" stroke-width="2.7" stroke-linecap="round"/>
<path d="M332.6 565.4h0" stroke="#eb1e55" stroke-width="2.7" stroke-linecap="round"/>
<path d="M332.6 566.3h0" stroke="#e51e67" stroke-width="2.7" stroke-linecap="round"/>
<path d="M332.6 567.2h0" stroke="#e51e67" stroke-width="2.7" stroke-linecap="round"/>
<path d="M332.6 568.1h0" stroke="#d71e8c" stroke-width="2.7" stroke-linecap="round"/>
<path d="M332.6 569.0h0" stroke="#e01e73" stroke-width="2.7" stroke-linecap="round"/>
<path d="M332.6 569.9h0" stroke="#d71e8c" stroke-width="2.7" stroke-linecap="round"/>
<path d="M332.6 513.3h0" stroke="#963cc8" stroke-width="2.7" stroke-linecap="round"/>
<path d="M505.4 427.2h0" stroke="#e91e5a" stroke-width="2.7" stroke-linecap="round"/>
<path d="M505.4 428.1h0" stroke="#eb1e55" stroke-width="2.7" stroke-linecap="round"/>
<path d="M505.4 429.0h0" stroke="#e51e67" stroke-width="2.7" stroke-linecap="round"/>
<path d="M505.4 429.9h0" stroke="#dc1e80" stroke-width="2.7" stroke-linecap="round"/>
<path d="M505.4 430.8h0" stroke="#e01e73" stroke-width="2.7" stroke-linecap="round"/>
<path d="M505.4 431.7h0" stroke="#e51e67" stroke-width="2.7" stroke-linecap="round"/>
<path d="M505.4 432.6h0" stroke="#e91e5a" stroke-width="2.7" stroke-linecap="round"/>
<path d="M505.4 433.5h0" stroke="#e01e73" stroke-width="2.7" stroke-linecap="round"/>
<path d="M505.4 434.4h0" stroke="#e51e67" stroke-width="2.7" stroke-linecap="round"/>
<path d="M505.4 435.3h0" stroke="#dc1e80" stroke-width="2.7" stroke-linecap="round"/>
<path d="M505.4 436.2h0" stroke="#e91e5a" stroke-width="2.7" stroke-linecap="round"/>
<path d="M505.4 437.1h0" stroke="#e01e73" stroke-width="2.7" stroke-linecap="round"/>
<path d="M505.4 438.0h0" stroke="#e01e73" stroke-width="2.7" stroke-linecap="round"/>
<path d="M505.4 438.9h0" stroke="#e01e73" stroke-width="2.7" stroke-linecap="round"/>
<path d="M505.4 439.8h0" stroke="#e01e73" stroke-width="2.7" stroke-linecap="round"/>
<path d="M505.4 440.7h0" stroke="#dc1e80" stroke-width="2.7" stroke-linecap="round"/>
<path d="M505.4 441.6h0" stroke="#dc1e80" stroke-width="2.7" stroke-linecap="round"/>
<path d="M505.4 442.5h0" stroke="#e51e67" stroke-width="2.7" stroke-linecap="round"/>
<path d="M505.4 443.4h0" stroke="#e51e67" stroke-width="2.7" stroke-linecap="round"/>
<path d="M505.4 444.3h0" stroke="#e91e5a" stroke-width="2.7" stroke-linecap="round"/>
<path d="M505.4 445.2h0" stroke="#e51e67" stroke-width="2.7" stroke-linecap="round"/>
<path d="M505.4 446.0h0" stroke="#665ce4" stroke-width="2.7" stroke-linecap="round"/>
<path d="M505.4 446.9h0" stroke="#506bec" stroke-width="2.7" stroke-linecap="round"/>
<path d="M505.4 447.8h0" stroke="#506bec" stroke-width="2.7" stroke-linecap="round"/>
<path d="M505.4 448.4h0" stroke="#3f76ee" stroke-width="2.7" stroke-linecap="round"/>
<path d="M505.4 449.3h0" stroke="#3b78ee" stroke-width="2.7" stroke-linecap="round"/>
<path d="M505.4 450.2h0" stroke="#2e81ef" stroke-width="2.7" stroke-linecap="round"/>
<path d="M505.4 451.1h0" stroke="#2e81ef" stroke-width="2.7" stroke-linecap="round"/>
<path d="M505.4 452.0h0" stroke="#3f76ee" stroke-width="2.7" stroke-linecap="round"/>
<path d="M505.4 452.9h0" stroke="#2e81ef" stroke-width="2.7" stroke-linecap="round"/>
<path d="M505.4 453.8h0" stroke="#377bee" stroke-width="2.7" stroke-linecap="round"/>
<path d="M505.4 454.7h0" stroke="#327eef" stroke-width="2.7" stroke-linecap="round"/>
<path d="M505.4 455.6h0" stroke="#327eef" stroke-width="2.7" stroke-linecap="round"/>
<path d="M505.4 456.0h0" stroke="#963cc8" stroke-width="2.7" stroke-linecap="round"/>
<path d="M505.4 456.9h0" stroke="#d71e8c" stroke-width="2.7" stroke-linecap="round"/>
<path d="M505.4 457.8h0" stroke="#d71e8c" stroke-width="2.7" stroke-linecap="round"/>
<path d="M505.4 458.7h0" stroke="#dc1e80" stroke-width="2.7" stroke-linecap="round"/>
<path d="M505.4 459.6h0" stroke="#a336bc" stroke-width="2.7" stroke-linecap="round"/>
<path d="M505.4 460.5h0" stroke="#963cc8" stroke-width="2.7" stroke-linecap="round"/>
<path d="M505.4 461.4h0" stroke="#7e4cd6" stroke-width="2.7" stroke-linecap="round"/>
<path d="M505.4 462.3h0" stroke="#d71e8c" stroke-width="2.7" stroke-linecap="round"/>
<path d="M505.4 463.2h0" stroke="#e51e67" stroke-width="2.7" stroke-linecap="round"/>
<path d="M505.4 464.1h0" stroke="#e91e5a" stroke-width="2.7" stroke-linecap="round"/>
<path d="M505.4 465.0h0" stroke="#dc1e80" stroke-width="2.7" stroke-linecap="round"/>
<path d="M505.4 465.0h0" stroke="#327eef" stroke-width="2.7" stroke-linecap="round"/>
<path d="M505.4 465.9h0" stroke="#327eef" stroke-width="2.7" stroke-linecap="round"/>
<path d="M505.4 466.8h0" stroke="#2e81ef" stroke-width="2.7" stroke-linecap="round"/>
<path d="M505.4 467.7h0" stroke="#3b78ee" stroke-width="2.7" stroke-linecap="round"/>
<path d="M505.4 468.6h0" stroke="#a336bc" stroke-width="2.7" stroke-linecap="round"/>
<path d="M505.4 469.5h0" stroke="#7e4cd6" stroke-width="2.7" stroke-linecap="round"/>
<path d="M505.4 470.4h0" stroke="#2e81ef" stroke-width="2.7" stroke-linecap="round"/>
<path d="M505.4 471.3h0" stroke="#8a44cf" stroke-width="2.7" stroke-linecap="round"/>
<path d="M505.4 472.2h0" stroke="#7e4cd6" stroke-width="2.7" stroke-linecap="round"/>
<path d="M505.4 473.1h0" stroke="#377bee" stroke-width="2.7" stroke-linecap="round"/>
<path d="M505.4 477.1h0" stroke="#963cc8" stroke-width="2.7" stroke-linecap="round"/>
<path d="M505.4 482.2h0" stroke="#3b78ee" stroke-width="2.7" stroke-linecap="round"/>
<path d="M505.4 487.8h0" stroke="#dc1e80" stroke-width="2.7" stroke-linecap="round"/>
<path d="M324.2 421V579.1" stroke="#747474" stroke-width="1.3" fill="none"/>
<path d="M323.6 578.8H513.8" stroke="#7c7c7c" stroke-width="1.3" fill="none"/>
<path d="M332.5 578.9v1.9M367.2 578.9v1.9M401.8 578.9v1.9M436.3 578.9v1.9M470.8 578.9v1.9M505.4 578.9v1.9M324.2 439.2h-2.2M324.2 459.6h-2.2M324.2 479.9h-2.2M324.2 500.3h-2.2M324.2 520.6h-2.2M324.2 541.0h-2.2M324.2 561.3h-2.2" stroke="#747474" stroke-width=".55" fill="none"/>
<g font-size="6.1" fill="#333333">
<g text-anchor="middle">
<text x="332.5" y="586.6">0.0</text>
<text x="367.2" y="586.6">0.2</text>
<text x="401.8" y="586.6">0.4</text>
<text x="436.3" y="586.6">0.6</text>
<text x="470.8" y="586.6">0.8</text>
<text x="505.4" y="586.6">1.0</text>
</g><g text-anchor="end">
<text x="319.9" y="441.5">0.075</text>
<text x="319.9" y="461.9">0.050</text>
<text x="319.9" y="482.2">0.025</text>
<text x="319.9" y="502.6">0.000</text>
<text x="319.9" y="522.9">-0.025</text>
<text x="319.9" y="543.3">-0.050</text>
<text x="319.9" y="563.6">-0.075</text>
</g></g>
<g font-size="7.5" fill="#2a2a2a" text-anchor="middle">
<text x="419.0" y="595.6" font-size="7.3">TZ</text>
<text transform="translate(293.4 499.7) rotate(-90)">SHAP value for</text>
<text transform="translate(299.6 499.7) rotate(-90)">TZ</text>
</g>
<rect x="525.9" y="420.5" width="2.1" height="157.1" fill="url(#cb)"/>
<path d="M528.0 423.4h1.5M528.0 449.6h1.5M528.0 475.8h1.5M528.0 502.2h1.5M528.0 528.6h1.5M528.0 555.0h1.5" stroke="#747474" stroke-width=".5"/>
<g font-size="6.0" fill="#4a4a4a">
<text x="532.2" y="425.4">37</text>
<text x="532.2" y="451.6">36</text>
<text x="532.2" y="477.8">35</text>
<text x="532.2" y="504.2">34</text>
<text x="532.2" y="530.6">33</text>
<text x="532.2" y="557.0">32</text>
</g>
<text font-size="7.1" fill="#2a2a2a" text-anchor="middle" transform="translate(546.0 499.9) rotate(-90)">IRTave_TK</text>
<rect x="34.3" y="626.6" width="188.7" height="156.5" fill="#e5e5e5"/>
<path d="M41.0 626.6V783.1M63.6 626.6V783.1M86.3 626.6V783.1M108.9 626.6V783.1M131.5 626.6V783.1M154.2 626.6V783.1M176.8 626.6V783.1M199.4 626.6V783.1M34.3 646.4H223M34.3 674.2H223M34.3 701.9H223M34.3 729.5H223M34.3 757.2H223" stroke="#fff" stroke-opacity="0.72" stroke-width=".8" fill="none"/>
<path d="M93.5 709.3h0M121.3 708.1h0M129.6 715.5h0M143.4 715.2h0M115.8 705.5h0M135.4 711.8h0M151 725.2h0M125.2 708.6h0M119.2 700.4h0M76.7 698.3h0M168 712.5h0M135.3 719.5h0M126 706.8h0M84.7 699.4h0M62.8 698.8h0M145.8 724.3h0M159.5 713.3h0M43.3 665.4h0M126.4 703.9h0M122.6 706.3h0M125.1 707.4h0M110.8 704.7h0M189.6 714h0M133.2 717.7h0M120.4 710.2h0M145 719.7h0M123.7 702.5h0M47.2 679.9h0M178.2 709.8h0M141.2 720.3h0M124.5 703.3h0M157.4 713h0M114.9 702.7h0M75.6 695.9h0M125.6 704.4h0M85.4 705.1h0M150.8 697.5h0M181.8 719.9h0M166.7 704.8h0M118.3 706.8h0M138.2 729.6h0M129 709h0M174.1 717h0M176.2 719.5h0M113.8 707.2h0M113.7 701.6h0M82 687.6h0M97 702.4h0M134.1 713.8h0M128.5 707.6h0M51 689.3h0M164.7 704.5h0M117.5 702.5h0M131.4 711.8h0M65 702.6h0M129.7 708.3h0M180.2 724.8h0M127.4 715.2h0M152.2 706.8h0M127.1 710.2h0M52.8 705.6h0M95.1 706.9h0M124.2 700.7h0M93.7 704.1h0M149.9 718.9h0M145.6 711.6h0M131.3 718h0M142.4 726h0M175.6 707h0M123.3 701.5h0M200.8 731.5h0M127.8 718.1h0M123.4 708.7h0M138.4 714.7h0M94.6 706h0M93.4 711.3h0M147.3 712.7h0M52.7 702.8h0M128.7 717.9h0M123.4 702.1h0M125.8 717.5h0M55.8 695.9h0M146.9 714.6h0M170.7 725.4h0" stroke="#4d6cec" stroke-width="2.1" stroke-linecap="round" fill="none"/>
<path d="M81.2 681.7h0M127.6 707h0M80.4 695.4h0M44.2 645.1h0M119.5 706.4h0M130.9 711.9h0M83.7 692.4h0M144.3 717.6h0M43.5 704.3h0M55.8 685.1h0M84.5 696.4h0M79.5 690.8h0M127.3 714.4h0M51.6 704.6h0M96.4 711.7h0M87.9 701.8h0M91.9 705.3h0M44 665.2h0M44 651.1h0M79.3 686.8h0M106.9 709.1h0M81 682.7h0M49 684.5h0M129.8 704.6h0M172.1 720h0M74.6 699h0M69.6 695.3h0M47.5 672.2h0M148.3 719.1h0M90.2 706.2h0M46.9 678.5h0M120.9 708.4h0M132.8 715h0M105.4 704.6h0M44.8 676.4h0M62.5 697.3h0M115.7 708.3h0M147.3 719.2h0M181.7 728.2h0M45.1 639.6h0M163.1 708.7h0M89.7 704.4h0M101.1 701.6h0M157.6 704.6h0M53 701.8h0M82.5 697.4h0M103.1 703.6h0M141.8 728.3h0M135.7 715.3h0M50.3 687.9h0M128.5 710h0M147.2 717.6h0M84.2 684.7h0M138 715.3h0M45.8 657.3h0M100.7 698.6h0M196.9 727.7h0M139.2 721.7h0M136.7 717.6h0M132.2 712.3h0M91.8 716.7h0M100 699.7h0M49.3 694h0M103 701.2h0M149.9 718.6h0M116.9 708.3h0M54.2 701.9h0M81.6 688.5h0M137.2 713.6h0M81 702.4h0M111.8 700.8h0M127.9 717.6h0M142.1 720.2h0M102.6 702.5h0M98.8 700.4h0M135.3 722.2h0M48.6 684.1h0M140.5 714.6h0M201.7 726.7h0M98.2 707.5h0M155.6 724.3h0M124.1 706.6h0M150.5 724.9h0M43.6 669.1h0M51.9 687.2h0M91.5 706.3h0M81.7 686.6h0M77.8 697.4h0M47.4 647.2h0M131.2 714.1h0M125.9 706.4h0M50.6 676.8h0M141 713.8h0M105.7 707h0M178.3 722.6h0" stroke="#695ae2" stroke-width="2.1" stroke-linecap="round" fill="none"/>
<path d="M50 692h0M56.5 689.5h0M45.9 649.2h0M65.1 701.6h0M51.4 684.8h0M48.8 670.1h0M46.6 663.3h0M47.6 672.4h0M83.1 697.6h0M101.4 702.6h0M53.9 704.8h0M52.2 687.9h0M46.4 637.2h0M55.6 690.3h0M83.6 696.9h0M44.4 670.2h0M48.8 670.2h0M45.9 660.6h0M46.6 644.5h0M44.6 661.1h0M53.6 675.2h0M49.6 668.6h0M52.7 686.7h0M78.6 699.1h0M58.2 702.9h0M66 692.4h0M90.8 710.9h0M46.6 649.3h0M67.4 693.4h0M46.3 635.8h0M45.7 664.3h0M48.6 693.3h0M50.7 679.3h0M48.6 674.7h0M75.2 700.1h0M47 652.1h0M51 705.2h0M53.3 686h0M50.4 702.5h0M47.6 683.4h0M46.9 655.7h0M46.6 639.1h0M49.8 664.5h0M48.1 676h0M45.5 670.9h0M60.6 699.9h0M93.5 717.2h0M72.8 691.3h0M73.2 701.5h0M51 693.6h0M50 690.6h0M58.1 692.7h0M52.1 688.2h0M54.6 681.4h0M103.8 708.6h0M51.6 699.8h0M66.7 694.6h0M64.4 693.8h0M59.3 701.4h0M44.3 652.9h0M49.4 692.1h0M48.5 688.6h0M50.6 681.9h0M50.3 698.7h0M65 691.6h0M65.8 697.2h0M50.6 696.5h0M53.7 684.2h0M66.3 700.6h0M64.9 700.3h0M47.8 683.1h0M45.2 666.4h0M46 661.6h0M47.8 665h0M52.1 700.3h0M57.7 697.2h0M50.7 668.8h0M47.1 655.3h0M65 688.5h0M49.3 693h0M54.7 687.7h0M54.1 697.4h0M45.7 655.2h0M42.9 661.2h0M58.9 690.6h0M46.7 654.8h0M47.6 680.1h0M50.3 684.9h0M55.2 703.3h0M46.2 665.3h0M65.3 691.2h0M45.3 655h0M50.7 689.1h0M54.6 688.7h0M46.4 673.1h0M49.8 671h0M50.9 703.5h0M45.3 652.9h0M59.7 683.9h0M56 699h0M44.4 646.2h0M48.2 689.7h0M50.2 703.9h0M50.7 670.3h0M50 672.4h0M46.1 644.9h0M49.1 676.8h0M50.9 678.7h0M47.6 662.6h0M46.9 650.6h0M59.6 697.8h0M60.7 698.6h0M49.3 666.2h0M47.5 683.7h0M47 654.5h0M52.7 696.3h0M46.4 658h0M44.1 665.9h0M55.7 704.3h0M48 673.1h0M50.5 700.1h0M67.3 692.9h0M47.9 671.8h0M51.1 677.4h0M51.6 678.5h0M50.4 686.9h0M45.3 661.3h0M46.4 665.9h0M46.4 667.7h0M72.8 701.5h0M46.6 654h0M51.5 700.6h0M44.7 642.8h0M50.1 701.2h0M60.7 689.5h0M43.4 667h0M47.2 660.7h0M55.1 704.6h0M52.7 680.6h0M48.4 689.5h0M46.4 664h0M85.6 696.1h0M47.8 654.3h0M48.2 664.9h0M53.3 705.2h0M48.8 665.4h0M47.6 678.3h0M46.1 666.5h0M47.7 648.8h0M48 667.1h0M53.3 681.7h0M53.3 684.4h0M46.5 644.1h0" stroke="#e81e5e" stroke-width="2.1" stroke-linecap="round" fill="none"/>
<path d="M87.6 704.8h0M90 705.5h0M48.3 668.7h0M89.3 712.6h0M56.5 694.6h0M67.8 700.6h0M46.1 667.4h0M51.3 705.4h0M45.7 639.6h0M57.4 692.4h0M109.8 707.4h0M49.6 703.4h0M58.1 695.8h0M71.9 700h0M60.9 686.6h0M48.8 683.4h0M43.9 669.3h0M85.1 698.5h0M96.5 713.5h0M51 696.6h0M45.6 645h0M47.7 652h0M45.4 651h0M58 693.4h0M64 689.2h0M86.5 706.6h0M44.3 671.7h0M52.3 683.1h0M53.4 694.7h0M58.9 699.8h0M46.8 659.3h0M50.4 667.9h0M55.5 684.8h0M45.4 657.1h0M53.6 687.4h0M50.9 672.1h0M46.5 646.9h0M68.3 693.8h0M47.5 653.9h0M44.1 666.8h0M77.7 697.9h0M46.4 657.9h0M46.1 664.3h0M53.1 683.4h0M46.8 653.6h0M82.7 697.3h0M111.3 714.4h0M54.9 701.5h0M47.7 670.2h0M88.6 708.7h0M45 655.1h0M55.2 698h0M52.1 703.5h0M46 659.8h0M52.1 674.6h0M55.5 690.2h0M50.4 677.9h0M53.3 693.9h0M52.7 691.1h0M46.4 662.7h0M60.1 698.2h0M62.8 689.9h0M48.3 665.1h0M45.5 642.1h0M48.5 691h0M86.4 699.6h0" stroke="#dd1e7c" stroke-width="2.1" stroke-linecap="round" fill="none"/>
<path d="M51.8 698.5h0M64.5 695.5h0M78.3 696.1h0M74.1 697.9h0M131.9 720.4h0M84.7 693.5h0M100.2 700.5h0M50.9 687.9h0M51.8 676.5h0M59.7 696.9h0M45.6 646.2h0M79.2 694.6h0M128.1 719.1h0M81.5 693.1h0M74.7 695.6h0M132.6 717.2h0M111.6 706.9h0M79.1 689.9h0M55.6 683.4h0M51 675.1h0M78.3 692.6h0M44.6 668.6h0M55.7 683.3h0M45.5 648.7h0M51.7 693.3h0M51.6 702.4h0M48.8 660.9h0M105 707.1h0M58.5 688.1h0M134.6 719.9h0M54.6 696.3h0M65.7 703.3h0M72.8 701.1h0M137.9 721.6h0M43.2 663.9h0M56.9 692h0M65.9 697.6h0M88.6 705.5h0M44.9 666.6h0M85.2 696.6h0M45.5 658.6h0M44 662.9h0M109.3 710.5h0M54 689h0M46.4 657.6h0M87.5 696.6h0M59.6 702h0M74.7 699.1h0M118.9 713.7h0M114.2 705h0M60.3 702.6h0M68.6 702.3h0M63.4 695.2h0M93.2 722.3h0M81.2 689.9h0M50.3 672.9h0M67.6 694.3h0M44 675.2h0M101.8 707.4h0M45.9 653.9h0M118.2 714h0M85 701.3h0M115.1 702.3h0M139.1 726.5h0M67.5 699.8h0M122.8 717.6h0M45.1 642h0M131.5 716.5h0M48.3 663.3h0M52.8 676h0M73.2 701.3h0M74.4 697.8h0M90.5 710.6h0M114.1 710.9h0M95.3 705.2h0M102.7 701.1h0M52.8 685.1h0M121 709.8h0M70.1 694.5h0M80.7 691.3h0M53.1 679h0M62.7 699.7h0M45.4 675.9h0M121.6 716.7h0M88 702.7h0M51.5 693h0M94.3 715.4h0M94.2 715.8h0M89.1 711.6h0M52.5 677h0M122 706.7h0M45.2 639.2h0M45.9 654.3h0M57.3 690.4h0M81.1 689.8h0M134 716.8h0M46 675.7h0M104.3 698.3h0M95.7 711.4h0M99.8 702.4h0M93.2 714.9h0M44.8 655.6h0M63.2 687.5h0M55.5 704.4h0M47.3 673.8h0M47.9 652.3h0M44.7 651.2h0M48.1 667h0" stroke="#c7269b" stroke-width="2.1" stroke-linecap="round" fill="none"/>
<path d="M174.4 710.8h0M185.7 697.5h0M137.7 716.3h0M143.9 711.5h0M130.5 710.6h0M214.4 754.9h0M115.8 700.4h0M127.7 703.9h0M155.8 719h0M82.4 682.8h0M142.6 733h0M166.2 710.3h0M179.1 723.9h0M197.4 723.8h0M150.2 713.9h0M116.3 704h0M139.1 718.6h0M159.3 718.8h0M158.6 713h0M51.7 704.5h0M85.1 691.1h0M158.7 713.4h0M91 714.9h0M129.5 712.8h0M140.4 722.8h0M51 705.8h0M199.3 729.6h0M133.6 714.3h0M177.2 723.8h0M131.8 707.2h0M129.2 711.3h0M163.1 708.5h0M105 705.9h0M185.2 693.6h0M131.3 707.7h0M138.9 712.1h0M168.8 714.3h0M184.8 703.4h0M135.1 716h0M174.3 717.4h0M186.2 695.6h0M202.7 724.7h0M172.2 723.3h0M192.7 700.9h0M171.6 721.4h0M184.8 685.9h0M164.6 716h0M214.4 737.9h0M171.6 715.5h0M133.7 712.3h0M135.7 710.2h0M179.8 712.8h0M181.4 710.9h0M154.3 705.6h0M133.9 707.2h0M191.1 717h0M136.6 710.8h0M55.9 698.9h0M155 723h0M140.3 715.4h0M101.9 700.1h0M203.2 728.6h0M85 688.8h0M45.7 657.3h0M157.7 705.8h0M96.3 708.1h0M160.8 712.8h0M145.8 714.7h0M173.3 724h0M100.6 703.5h0M94.8 705.9h0" stroke="#337eef" stroke-width="2.1" stroke-linecap="round" fill="none"/>
<path d="M100.3 708.2h0M45 666h0M94.5 713.1h0M105.4 706.1h0M46.6 650.5h0M50.8 698.1h0M99.7 704h0M89.9 709.5h0M80.3 689.6h0M124.5 708.7h0M83.5 688.7h0M113.4 703.6h0M85.5 696.8h0M98.2 708.5h0M115.2 702.9h0M47.8 674.8h0M50.3 697.1h0M131.1 711.6h0M70 697.6h0M51.9 690.5h0M46.8 671h0M45.3 648.9h0M118.2 706.4h0M123.4 706h0M104 706h0M166.1 721.7h0M44.8 652.5h0M86.4 703.1h0M119.5 709h0M86.6 705.8h0M89.5 706.2h0M103.8 702.7h0M130.9 721.1h0M68.6 701.2h0M107.1 709.6h0M69.6 697h0M99.7 709.7h0M48.6 674.3h0M49.3 691.7h0M45 643.2h0M74.7 697h0M85.5 693.2h0M54.4 683.7h0M115.6 706h0M98.9 703.7h0M47.1 678.9h0M56 693h0M138.5 723h0M99.1 700.8h0M51.4 700.8h0M124.3 712.1h0M73 698h0M78.2 698.4h0M81.3 688.3h0M65.6 697.9h0M67.6 701.9h0M114.6 711.2h0M109.3 708.3h0M45.2 668.3h0M45 660.4h0M54.3 698.5h0M46 668.2h0M88.3 701.5h0M142.2 728.3h0M102.6 712.3h0M86.6 707.4h0M136.1 717.6h0M48.8 666.6h0M111.6 712.5h0M43.8 673h0M141 721.7h0M131 716.6h0M62.6 694.4h0M92.5 712.4h0M69.9 699.4h0M112.5 704.1h0M95 713.2h0M47.8 687.9h0M99.9 709.9h0M97.1 702.7h0M119.1 706.3h0M87.2 705.9h0M90 706.1h0M54.1 702.1h0M102.5 705.5h0M106.4 708.8h0M74.9 697.5h0M48.4 686h0M77.6 699h0M119.3 706.1h0M83.1 691.3h0M88.6 705.9h0M115.3 711h0M59.8 690.4h0M105.5 702.2h0M126.3 714.5h0M170.6 720.2h0M118.8 711.7h0M44.4 658.8h0M60.6 700.7h0M45.4 643.9h0M104.9 707.9h0M93.1 728.6h0M57.7 706.3h0M54 687.8h0M78.4 695.3h0M106.6 705.3h0M103.7 709.2h0M101.2 710.2h0M75 692h0M73.5 700.1h0M66.2 702.3h0M101.1 704h0" stroke="#a634b9" stroke-width="2.1" stroke-linecap="round" fill="none"/>
<path d="M119.7 714.1h0M70.5 698.4h0M51.5 698.1h0M69.5 701.1h0M96.7 710.9h0M82.7 696.6h0M93.5 711h0M49.1 690.8h0M47.1 677.8h0M98 701.2h0M109.2 708.5h0M58.1 702.3h0M127.1 714.7h0M138.9 714.7h0M144.7 726.6h0M113.6 708.6h0M43.7 654.8h0M112.1 704.2h0M58 696.1h0M53.1 699.7h0M118.6 709.2h0M115.1 706.2h0M81.4 687.7h0M48.1 682.3h0M46.9 678.1h0M93.6 711.9h0M63.1 701.9h0M83.8 694.6h0M92.7 718.7h0M94 711.8h0M50.5 700.6h0M154.3 715.2h0M114.4 710.9h0M80.5 686.4h0M117 714.9h0M67.2 701.1h0M51.3 698.6h0M136 721.1h0M167 717h0M48 681.3h0M93.6 725.7h0M85 693.3h0M84 696.9h0M126.9 715h0M121.7 712.7h0M56.2 703h0M43.9 673.7h0M160.3 726h0M126.7 712h0M105.1 704.7h0M117 711.6h0M148.6 712.3h0M129.8 711.3h0M49.3 700.3h0M109.8 708.4h0M113.2 708h0M119.2 705.7h0M43.6 659h0M49.9 674.2h0M96.1 715.4h0M121.5 712.7h0M113.5 703.7h0M92 704.5h0M44 669.9h0M135.6 714.6h0M117.8 705.4h0M44.8 666.7h0M136.5 722.5h0M53.4 698.1h0M107 706.3h0M47.2 670.8h0M115.6 711.4h0M44.1 652.4h0M125.2 708.6h0M105 707.9h0M81.9 691.1h0M49 685.1h0M112 706.4h0M124.3 709.1h0M49.6 666.9h0M92.9 711.1h0M95.8 704.7h0M94.4 711.9h0M142.4 728.5h0M119.1 709.9h0M140.9 724.2h0M122.6 712.4h0M177.5 708.9h0M48.2 687.7h0M179.6 719.5h0M74.3 700.7h0M139.6 717.8h0M114.2 708.5h0M45.4 667.5h0M66.6 696.1h0M106.3 706.4h0M99.7 701.4h0M94 704.2h0M45.9 677.7h0M141.5 727.3h0M43.9 666.1h0M133.9 710.6h0M132.5 710.8h0M128.6 712.1h0M48.7 668.2h0M94.5 717.2h0" stroke="#8746d1" stroke-width="2.1" stroke-linecap="round" fill="none"/>
<path d="M136.9 717h0M187.2 711.1h0M127.6 709.1h0M163.1 709.9h0M165.1 704.5h0M200.3 724.7h0M147.2 715.9h0M177 710.3h0M204.2 730.6h0M149.3 724.2h0M195.4 716h0M164.7 713.9h0M199.3 752h0M121.4 705.7h0M197.4 730.6h0M47.5 662.4h0M192.5 716h0M57.6 702.9h0M207.1 742.2h0M113.4 702.6h0M91.7 708.7h0M134.9 708.8h0M123.6 703.7h0M160 704.9h0M144.3 727.3h0M194.9 718.9h0M214 747.6h0M161.4 719.8h0M138.6 721.8h0M181 714.9h0M191.5 712.1h0M140.5 715.4h0M176.2 712.9h0M159.3 707.3h0M178.9 711.3h0M175.1 724.2h0M86.3 691.4h0M146.5 711.2h0M166.5 709.9h0M153.2 711.1h0M193.5 742.2h0M137 711.8h0M183 722.7h0M142.2 725.6h0M135.6 713.9h0M176.2 726.5h0M134.8 711.4h0M152.2 715.5h0M192.1 706.3h0M139.7 719.2h0M45.6 663.1h0M53.8 703.3h0M198.3 719.9h0M194.5 711.1h0M121.2 708.9h0M133.1 712.5h0M126.7 705.3h0M139.1 722.2h0M192.5 698.5h0M178 728.6h0M150.1 721.5h0M214.2 730.6h0M44.6 674.2h0M181 713.9h0M172.3 718h0M154.8 710.4h0M125 703.4h0M153.3 705.4h0M149.7 716.7h0M120 708.2h0M144.2 711.9h0M142.4 718.8h0M153.3 719.4h0M173.5 712.7h0M138.6 713h0M124.1 702.4h0M135.7 714.9h0M137.4 711.1h0M138.1 719.5h0M93.4 713.4h0M214 735.4h0M130.9 706h0M129 705.8h0M129 726.2h0M126.9 711.5h0M82.6 685.9h0" stroke="#337eef" stroke-width="2.1" stroke-linecap="round" fill="none"/>
<path d="M95.8 708.4h0M55.6 704h0M96.1 713.4h0M145.6 720.6h0M120.3 703.7h0M167.1 720.1h0M158.9 712.9h0M119.8 706.5h0M142 728.7h0M88.8 700.5h0M103.6 705h0M122.7 710.6h0M124.1 703.3h0M94.9 705.4h0M47.6 672h0M123.5 713h0M107.6 704.9h0M168.5 715.7h0M179.2 717.6h0M124.2 710.4h0M130.7 710.6h0M84.5 691.5h0M119.7 705h0M50.1 678.7h0M122.9 713h0M128.7 707.9h0M87 699.9h0M45.9 659.6h0M123.2 710.5h0M76.8 699.7h0M175.8 720.7h0M44.9 639.6h0M143 725.8h0M118.4 710.7h0M196.4 721.8h0M119 713h0M136.8 717.9h0M52.8 704.4h0M114.4 707.5h0M137.1 718.8h0M48.4 687.6h0M148.9 717.8h0M157 718.1h0M49.5 701.7h0M133.3 712.2h0M144.5 721.3h0M98.4 709.1h0M99 705.1h0M87.3 698h0M46.5 671.2h0M134.5 715.3h0M145 721.8h0M189.6 707.2h0M132.9 705.7h0M129.3 713.9h0M177.4 719.1h0M123.6 701.4h0M54.6 688.7h0M73.8 698.2h0M121.7 701.8h0M126.8 708h0M102.9 703.4h0M145 723.4h0M78.1 694.7h0M67.8 692.8h0M157.9 721.9h0M132.8 716.4h0M153.3 722h0M135.2 718.3h0M165.4 710.6h0M46.5 668.1h0M127.6 712.7h0M72.6 697.8h0M79.8 684.5h0M150 711.6h0M159.2 711.6h0M121.6 708.7h0M120.3 712h0M50.6 690.8h0M48.7 679.7h0M107.5 699.7h0M122.6 705.5h0M165 721.4h0M111.5 711.5h0M112.6 708.7h0M78.2 695.1h0M53.4 700.1h0M106 701.5h0M173.1 726.7h0M47.1 667.4h0M110.7 702.5h0M122.6 709.6h0M46.9 662.2h0M47.8 679.5h0M92.4 711.3h0M50.9 689h0M60.4 700.7h0M72.7 698.6h0M127.7 706.5h0M48.4 691.5h0M136.3 723.9h0M78.2 694.3h0M141 725.6h0M103.9 713.6h0M42.7 673.5h0M170.7 726.2h0M79.9 696.2h0M110 707.7h0M47.8 677.4h0M80.5 682.3h0M98.2 707.1h0" stroke="#695ae2" stroke-width="2.1" stroke-linecap="round" fill="none"/>
<path d="M46.2 676.2h0M61.5 701.5h0M79.6 689.4h0M82.1 691.9h0M47.7 653.6h0M59.7 690.4h0M52.1 687.1h0M55.6 691.6h0M44.3 668.3h0M81.6 687.9h0M61.9 695.3h0M52.9 673.1h0M58 692.5h0M61.8 698.9h0M69 702.1h0M44.5 659.5h0M48.2 692h0M55.2 698h0M45.7 673.8h0M49.8 703.2h0M53.9 697.8h0M55.2 693h0M69.9 699.2h0M48.4 686.5h0M49.5 670.3h0M49.4 667.5h0M43.1 676.1h0M52 684.5h0M70.4 698.8h0M54 682.7h0M54.2 695.5h0M46.4 678.4h0M60.8 693h0M46.1 640.2h0M45.9 656.8h0M46.4 675.3h0M47.8 655h0M63.1 689.2h0M54.3 685.5h0M45.8 651.2h0M43.8 654h0M48.5 662.8h0M48.7 665.1h0M87.8 710.2h0M53.8 693.5h0M46.7 653h0M46.1 645.9h0M81.8 689.3h0M46.2 669.2h0M46.9 674.5h0M88.2 711.7h0M50.2 695.7h0M66.9 694.1h0M48.7 665.3h0M46.6 635.7h0M49.7 685.1h0M50.1 687.5h0M54.4 682.6h0M77.9 695h0M56.2 690.4h0M46.8 643.1h0M54.9 696.4h0M46.6 642.6h0M97.9 714.8h0M61.6 705.3h0M50 687.2h0M56.3 691h0M61.2 703.6h0M52.9 687.3h0M78 698.1h0M54.9 679.1h0M52.8 704.8h0M49.3 688.5h0M51.5 688.7h0M51 688.4h0M61.8 702.8h0M55.8 688.7h0M54.9 700.6h0M45.3 637.3h0M55.1 696.7h0M51.6 686.7h0M42.6 680h0M65.5 694.6h0M49 669.5h0M47.3 678.2h0M50.6 685.8h0M51.3 696.5h0M47.2 661.6h0M49.8 667.1h0M61.7 703.6h0M52.8 676.6h0M50 697.2h0M48.6 658.8h0M50.2 700.7h0M71.9 695.1h0M46.7 650.9h0M43.5 670.5h0M68 691.9h0M53.8 704.1h0M49.3 662.8h0M51.5 670.3h0M44.2 662.4h0M46.9 647.8h0M49 688.6h0M63.8 700.1h0M46.9 655.4h0M47.5 677.4h0M44.2 662.3h0M46.7 670.5h0M60.5 694.9h0M44.9 638.2h0M48.5 673.8h0M57 697.2h0M47.1 644.1h0M46.4 672.8h0M50.4 682.4h0M65.2 698.1h0M54.1 684.8h0M47.3 656.6h0M64 697.5h0M49.3 688.2h0M52 677.5h0M52.6 705.7h0M49 667.2h0M44.1 669h0M108.5 707h0M44 659.5h0" stroke="#e81e5e" stroke-width="2.1" stroke-linecap="round" fill="none"/>
<path d="M63.1 698.3h0M52 697.3h0M46.4 673.2h0M52.2 701.3h0M48.2 660.9h0M50.4 702h0M47.1 647.6h0M47.9 682.9h0M50.1 685.6h0M59.3 704.6h0M100.8 707.8h0M101.4 710.1h0M60.7 694.6h0M61.2 687.4h0M45.9 647.2h0M91.5 706.7h0M46.9 660h0M45 662.6h0M50.8 682.9h0M47 671.7h0M74.2 699.2h0M46.8 661.3h0M78.1 704.3h0M86.4 701.6h0M47 680.4h0M54.3 683.9h0M43.9 653.1h0M103 702.8h0M42.9 672.2h0M104.3 709.4h0M50.2 700.9h0M62.5 695.1h0M48.3 682.4h0M82.5 690.4h0M58.8 704.8h0M44.9 671.8h0M58.5 704.5h0M50.2 667h0M92.1 706.3h0M48.1 667.2h0M45.4 644.2h0M57.6 693.1h0M69.6 696h0M70.3 699h0M47.8 669.4h0M66.9 697h0M88.4 706h0M83.1 688.9h0M86.6 693.4h0M99.3 708.1h0M53.4 693h0M68.9 691.3h0M53.5 680.8h0M109 702.8h0M49.3 690.3h0M93.7 713.2h0M53.2 674.8h0M96.2 709.6h0M60.8 700h0M43.9 657.5h0M87.2 697.2h0M46 635.9h0M44.6 675.9h0M92.1 709h0M45.2 654.8h0M98.5 699.4h0M45.4 654.5h0M52 695.7h0M114.7 708.8h0M66.7 695.6h0M109.9 706.1h0M93 714.4h0M48.3 666.6h0M44 654.5h0M80.6 688.9h0M47.6 649.5h0M54.4 696.3h0M129.1 714.8h0M47.9 689.1h0M48.5 681.7h0M96.1 714.7h0M58 700.3h0M50.5 687.7h0M124.1 712.6h0M60.3 701.2h0M110.8 714h0M82.2 687.5h0M102.8 709.8h0M80.5 690.5h0M48.7 689.4h0M55.6 694h0M47.9 658.3h0M46.9 650h0M51.7 688.9h0M86.6 703.8h0M50.8 701.5h0" stroke="#c7269b" stroke-width="2.1" stroke-linecap="round" fill="none"/>
<path d="M192.5 703.4h0M183.2 715.4h0M115.3 709h0M92.7 720h0M164.9 710.2h0M51.9 691.9h0M45.7 673.2h0M99.6 697.6h0M135.6 711.6h0M91.3 708.3h0M114.2 709.5h0M104.5 704.8h0M132.8 711.1h0M152.2 716.7h0M138 721.3h0M184 689.8h0M214.3 750h0M137 724.3h0M139.5 717.6h0M92.3 706.5h0M48.5 692.1h0M96.5 708.7h0M102.7 702.1h0M158.8 718.1h0M89.8 706.5h0M145.8 714h0M111.3 702.6h0M141.9 719.7h0M134.6 712.9h0M202.2 733.5h0M84.5 702h0M131.6 704.6h0M122.5 709h0M132.3 712h0M142 723.4h0M44.9 668.7h0M112.2 707.6h0M115.7 700h0M193.5 714h0M123 705.4h0M92.2 715h0M129.8 711.5h0M213.9 726.7h0M131.2 703.5h0M147.6 713.9h0M124.9 707h0M144.1 716.9h0M92.4 715.6h0M84.3 693.9h0M149 726.6h0M153 723.4h0M164.1 720.5h0M55.3 701.5h0M91.1 708.6h0M118.7 713.4h0M47.6 667.8h0M81.9 687.9h0M175.1 711.7h0M111.4 707.3h0M129.2 708.9h0M182.2 725.8h0M138.5 709.2h0M95.2 705.4h0M95.1 725.2h0M55.2 692.4h0M82.1 683.9h0M147.4 708h0M85.2 690.6h0M54.4 683.7h0M128.8 705.8h0M214.2 764.6h0M103.5 699.2h0M45 649.3h0M82.3 683h0M182.1 727.8h0M118.7 701.5h0M51.5 679.5h0M110.9 704.6h0M44.8 673.5h0M140.5 710.4h0M170.2 727.7h0M71.3 697.3h0M138.6 715h0M124.8 708.6h0M134.6 715.7h0" stroke="#4d6cec" stroke-width="2.1" stroke-linecap="round" fill="none"/>
<path d="M118.3 708.3h0M50.7 695.7h0M92.4 716.4h0M55.9 698.2h0M135.6 721.4h0M135.7 721h0M72 697h0M51.4 695.8h0M103.5 708.4h0M115.9 707.5h0M62 691.4h0M61.8 700.3h0M47.6 667.5h0M108.3 714h0M99.2 700.1h0M100.2 700.6h0M129.9 713.4h0M57.6 691h0M96.4 707.3h0M49 675h0M89.2 701.6h0M45.9 672.6h0M55.8 705.1h0M48.6 659.2h0M103.4 706.1h0M123.3 707h0M97.5 709.1h0M56.6 694.8h0M45 675.3h0M129.2 719.8h0M81.5 690.6h0M110.9 710.2h0M43.6 655.6h0M99.3 701.5h0M55.8 703.4h0M92 705.8h0M88 702.6h0M45.6 649.3h0M45.3 675.5h0M48.3 691.3h0M122.2 712.4h0M118.2 711.9h0M47.7 674.3h0M47.8 688.9h0M102.2 711.1h0M48.8 697.2h0M97.7 704.7h0M80.5 687.9h0M99.3 702.5h0M65 703.4h0M73.2 699.9h0M93.5 717.5h0M88.5 701.1h0M45.7 660.5h0M66.7 703h0M45.5 658.4h0M48.2 668.6h0M50.2 702.9h0M138.9 720.9h0M44.8 647.4h0M108.4 706.6h0M112.6 707.3h0M109.5 703.7h0M78.8 696.3h0M89.8 703.3h0M99.3 705.9h0M46.2 656.4h0M89.5 707.6h0M132 714.6h0M48.8 676.3h0M46.7 640.3h0M104.2 707.6h0M53.5 702.8h0M44.5 661h0M52.7 703.7h0M80.3 688.3h0M95.6 706h0M59.5 704.1h0M92.1 721.8h0M131.8 717.3h0M65.4 704.3h0M84.6 693.1h0M100.4 699.4h0M120.4 708.4h0M79.3 696.4h0M85.7 706.5h0M96.2 708.9h0M85.6 691.7h0M49.5 700h0M137.9 718.8h0M70.6 693.2h0M45.7 670.1h0M95.3 713.8h0M45 642.6h0M57 682.3h0M83.3 689.9h0M45.9 649.5h0M107.7 704.4h0M49.5 699.8h0M101.7 705h0M90.2 709.1h0M214.4 745.2h0M101.1 709h0M51.1 674.6h0M120 707.7h0M85.9 701h0M43.7 655.4h0M50.8 668.5h0M123.8 706.7h0M85.3 696.2h0" stroke="#a634b9" stroke-width="2.1" stroke-linecap="round" fill="none"/>
<path d="M107.7 702.9h0M52.2 704.5h0M136.9 721.8h0M54.6 703.4h0M105.3 707.1h0M146.4 720.7h0M114.5 707.1h0M136.5 714h0M92 715.1h0M127.3 714.2h0M118.4 713.3h0M136.1 714.1h0M51.8 694.3h0M151.2 714.2h0M176.3 706.3h0M45.6 660.1h0M105.9 706.1h0M105.6 706.7h0M99.7 707.3h0M103.8 703.7h0M132.4 709.6h0M113.4 705.1h0M170.7 720.7h0M118 707.6h0M78.5 695.2h0M76.2 700.7h0M97.3 711.5h0M107.6 703.8h0M92.8 712.1h0M157.2 709.9h0M122.9 704.6h0M115.8 704h0M126.1 711.1h0M103.2 705h0M112.2 699.8h0M88 709h0M110.1 708.8h0M102.1 705.1h0M122.3 709.3h0M121.3 710.1h0M130.5 705.2h0M62.8 693.6h0M141.2 726.7h0M126.8 718.4h0M99.8 711.4h0M98 707.4h0M124.9 717.3h0M111.5 713.5h0M101 701.3h0M125.1 709.2h0M46.6 660.8h0M48 688.9h0M108.7 699.6h0M74.9 697.2h0M45.8 653h0M99.5 705.1h0M125.1 715h0M114.1 714.5h0M85.3 689.2h0M45.4 665.7h0M109.9 708.1h0M111.1 713.8h0M110.9 709h0M141.8 719h0M68.4 707.2h0M86.4 692.9h0M122.8 706.4h0M179.7 710.1h0M52.3 687.8h0M47.6 668.2h0M99.8 708.5h0M137.2 714.4h0M81.8 684.4h0M117 711.2h0M111 711.3h0M55.9 694.1h0M78.1 692.7h0M82.9 697.6h0M47.6 662.4h0M127.3 710.3h0M98.3 701.8h0M49.3 691h0M65.2 696.5h0M93 713.8h0M51.5 683.7h0M82.4 692.8h0M107.1 704.5h0M110.7 709.9h0M82.4 687.7h0M59.3 699.4h0M214.1 739.8h0M103.6 708.4h0M70.8 698.9h0M127.8 707.5h0M136.5 723.3h0M114.7 705.6h0M58.2 704.7h0M103.3 701h0M116.8 707.1h0M47 666.1h0M44.8 654.7h0M124.4 704.1h0M97.4 707.4h0M180.6 722.9h0M45.8 639.4h0M96.5 699.1h0" stroke="#8746d1" stroke-width="2.1" stroke-linecap="round" fill="none"/>
<path d="M45.3 674.5h0M60.4 696.6h0M47.5 654.9h0M47.6 673.4h0M45.4 661.3h0M66.7 702.2h0M60.4 691h0M46.2 676.1h0M46 645.1h0M57 689.2h0M43.8 661.2h0M56.4 696.6h0M51.7 701.9h0M45 646.1h0M72.2 692.9h0M49.8 696.2h0M54.3 684.8h0M45.7 661.2h0M101.4 708.1h0M48.1 665.1h0M82.6 689.6h0M109.2 712.4h0M54 680h0M50.3 704.9h0M49.8 672.1h0M49.2 669.4h0M48.5 693.6h0M52.4 702.3h0M44.1 683.9h0M46.4 651.7h0M51.6 689.7h0M46 658h0M55.6 687.7h0M55.6 681h0M45.1 659h0M46.6 654.3h0M75.7 697h0M47.8 680.3h0M48.2 684.1h0M50.3 676.6h0M76.6 690.8h0M46.9 662.5h0M70.9 696.3h0M118.2 706.7h0M45.6 655.3h0M52.7 678.1h0M50.6 680.2h0M48 674.8h0M54.5 678.7h0M49.5 676.5h0M84 692.8h0M68.5 691.8h0M47.4 650h0M47.4 667.5h0M57.2 691.3h0M102.6 707h0M130.7 715.2h0M51.7 678.2h0M62.3 695.3h0M119.9 710.5h0M54 704.7h0M43.1 658.8h0M46.4 675.8h0M51.2 692.6h0M82.4 690.5h0M54.2 678.2h0M45.3 672.7h0M56.8 694.5h0M46.2 678h0M51.3 697.9h0M50.5 689.1h0M108.3 708.9h0M46.2 671.7h0M88.3 710.4h0M49.5 667.6h0" stroke="#dd1e7c" stroke-width="2.1" stroke-linecap="round" fill="none"/>
<path d="M114.4 714.5h0M131.6 709.9h0M48.2 681.9h0M106.8 706.4h0M46.6 672.3h0M107.5 704.3h0M105.6 702.8h0M90.2 708.1h0M85 698.4h0M143 728.8h0M51.1 691.4h0M63.6 698.8h0M124 712.2h0M148.9 721.6h0M48.3 691.3h0M109.5 703.1h0M115.9 724.5h0M53.1 690h0M122.5 709.7h0M122.3 709.6h0M93.1 710.4h0M135.3 714.3h0M53.5 679.7h0M50.7 698.4h0M129 711h0M65.7 697h0M101.4 702.4h0M111.9 705.7h0M133.2 713.7h0M72.5 692.6h0M145.4 717.8h0M49.1 670.9h0M165.6 708h0M125.5 710.6h0M49.5 692.1h0M70.6 701.6h0M49.3 692.2h0M102.1 707.9h0M86.4 707.2h0M92.9 709.4h0M46.7 660.2h0M97 706.3h0M69.3 698.2h0M126.6 713.1h0M115 714.3h0M93.7 712.2h0M82.1 693.2h0M102 706.5h0M69.5 697h0M105 706.4h0M53.7 680.7h0M121.1 708.5h0M88.3 705.5h0M110.4 710h0M121.1 702.4h0M121.6 703.9h0M81.7 691.6h0M124 700.7h0M78.8 694.8h0M56.8 686.9h0M94.2 707.2h0M126.3 707.1h0M62.7 688.7h0M92.8 714.7h0M45.2 640.9h0M45.4 674.1h0M89.8 705.9h0M112.2 712.4h0M63.3 701.7h0M113.6 711.7h0M116.7 709.2h0M119.3 702.5h0M42.8 664h0M122 708.8h0M81.2 693.1h0M124.5 708.1h0M136 717.7h0M53.5 704.9h0M53.4 692.8h0M51.7 676.6h0M131.2 711h0M90.6 711.6h0M46.7 668.8h0M140.1 717.8h0M139.1 721.6h0M118.8 712.7h0M72.2 701.5h0M81.3 686h0M92.2 710.9h0M132.9 714.2h0M50.5 702.3h0M135.8 706.1h0M141.7 722.6h0M47.3 673.9h0M101.6 702.1h0M163.8 719.5h0M86.3 699.6h0M73.4 700.8h0M188.6 710.2h0M129.2 716.2h0M126.9 707.8h0M108.3 705.2h0M139.4 711.9h0M120.9 707.7h0M48.5 688.5h0M118.6 704.3h0M136.4 716.2h0M117 708.3h0M46.1 665.5h0M108.8 699.7h0M119 709.1h0M111.1 701.5h0M95.2 708.2h0M48.4 693h0M127.1 710.9h0M84.4 690.9h0M113.4 706.1h0M89.9 710h0M118 708.9h0M143.1 728h0M92.2 713.7h0M101.2 703.8h0M62.4 703.3h0M50.8 700.8h0M46.6 659h0M136.2 716.4h0M44.5 653.3h0M78.5 694.8h0" stroke="#8746d1" stroke-width="2.1" stroke-linecap="round" fill="none"/>
<path d="M45.2 641.3h0M61.1 700.9h0M50.7 674.5h0M52.9 703.4h0M50.6 684.5h0M53 695.1h0M59.7 690.5h0M52.8 703.5h0M53.7 685.7h0M51.3 685.8h0M50.5 676.4h0M55.3 686.4h0M46.8 668h0M45.4 646h0M50.9 677.6h0M50.8 698.9h0M46.8 659.8h0M48.7 666.8h0M64 702.5h0M46.4 652.2h0M56.8 689h0M77.3 690.7h0M59.2 690.2h0M46.9 677.7h0M54.1 675.7h0M55.9 696.9h0M60.1 688.1h0M59.7 686.2h0M50.2 671.5h0M65.2 690.9h0M47 656.9h0M46.6 655.2h0M54.4 701h0M58.1 695.3h0M49.9 701.8h0M54.3 675.6h0M71.9 701.6h0M51.4 672.7h0M50 681.7h0M54.9 695.5h0M45.5 667.1h0M66.6 702.3h0M47.1 652.2h0M61.5 689.9h0M62.8 686.8h0M47.4 673.4h0M53.6 692.1h0M44.9 663.5h0M45.7 674.4h0M46.1 674.3h0M47.8 657.9h0M45 675h0M51.5 686.6h0M56.6 698.6h0M48.1 680.7h0M44.5 654.4h0M44.2 654h0M49 678.1h0M51.6 700.9h0M67.9 694.3h0M46.2 652.7h0M54.8 690.2h0M49.1 673.9h0M46.3 661.9h0M45.8 649.8h0M48.4 675h0M53.6 702.8h0M53 703.8h0M50.4 669.6h0M53.4 699.3h0M66.1 698.4h0M52.3 677.1h0M47.9 686.9h0M53.2 679h0M78.4 697.1h0M46.7 659.9h0M43.4 664.5h0M45.9 677.3h0M71.9 700.1h0M55.9 693.6h0M54.3 703.1h0M51.9 695.7h0M50.6 681.4h0M69 693.9h0M52 682.5h0M56.6 689.2h0M46.8 671.6h0M52.7 687.4h0M51.7 684.1h0M50 670.4h0M61.2 696.4h0M51.1 703.2h0M48.4 679.7h0M49.6 672h0M46.5 662.3h0M46.7 659.1h0M49.3 693.1h0M48.5 689.5h0M44.4 673.7h0M65.6 701.3h0M52 679.5h0M55.7 692.1h0M52.1 677.1h0M49.5 682.5h0M47.4 648.6h0M60.6 703.1h0M48.9 683.2h0M51.4 691.1h0M47.5 671.5h0M48.9 671.2h0M52.2 696.9h0M84.8 697.1h0M52.7 685.9h0M49.9 696.4h0M63.6 687.9h0M48.9 664.9h0M52.5 684.5h0M76.1 696.7h0M52.5 675.3h0M48.3 670.6h0M46.6 641.5h0M43.2 667.7h0M48.2 663.9h0M48.7 678.7h0M44 671.9h0M75.1 699.4h0M81.2 689.1h0M61.7 698.3h0M46.4 648.4h0M53.7 674.8h0M65 696.9h0M48 690h0M47.9 681.5h0M44.6 673.8h0M52.7 687.9h0M46 652.4h0" stroke="#e81e5e" stroke-width="2.1" stroke-linecap="round" fill="none"/>
<path d="M59.2 695.9h0M65.5 697h0M57.6 694.3h0M90.4 702.7h0M103.7 702.4h0M45.1 669.2h0M55.8 692.2h0M66.1 699.1h0M45.5 669.7h0M134.3 713.4h0M112 702h0M105.2 699h0M53 701.7h0M120.2 715.7h0M157.6 715.3h0M87.6 696.3h0M153.4 711.7h0M90.5 706.5h0M83.4 687.6h0M51.1 701.5h0M86.2 697.6h0M104.6 712.1h0M90.3 709.6h0M140.9 722h0M110.5 703.1h0M75.8 699.4h0M124.5 707.7h0M110.4 705.8h0M43 664.1h0M93.7 708.4h0M100.2 703.3h0M65.7 699.3h0M97.8 705.7h0M45.4 661.7h0M104.8 703.5h0M101.5 706.8h0M50.6 698.4h0M118 700.5h0M131.1 715.6h0M144.8 722.8h0M97.1 701.4h0M171 720.4h0M147.6 717.9h0M135 708.4h0M142.4 722.9h0M105.6 703h0M131.6 708.5h0M55.4 687.3h0M153.6 711.1h0M131.4 712.6h0M108.3 708.1h0M119 702.8h0M114.4 709.6h0M127.3 711.4h0M103.2 707.6h0M94.8 710.2h0M115.7 708.5h0M145 718.3h0M175.1 724.2h0M97.8 703.6h0M116.3 708.2h0M128 715.1h0M93.1 714.1h0M162.9 719.8h0M132.4 709.7h0M50.6 699.3h0M141.1 714.2h0M103.4 708.4h0M130.4 714.9h0M90.9 701.4h0M152.5 718.4h0M124.5 708.7h0M120.3 706.7h0M54.2 681.5h0M145.7 719.6h0M138.7 714.2h0M84.8 699.6h0M54.4 685.6h0M52.8 696.7h0M44.6 640.9h0M109.4 709h0M45.9 677.8h0M55.3 688.6h0M124.4 710.1h0M183.1 716.5h0M140.1 730.6h0M88.1 699.6h0M137.7 720.4h0M44.7 663.3h0M118.3 702.6h0M129.9 707.8h0M214.1 752.5h0M43.6 657.4h0M136.3 713h0M139.8 716.8h0M130.6 711.9h0M117.1 705h0M44 672.4h0M71.5 701.3h0M88.9 699.9h0M130.6 714.7h0M48.6 683.5h0M46.3 648.5h0M134.1 716.8h0M128.9 714.7h0M91.3 705.6h0M139.3 721.9h0M168.2 715.3h0M111.4 703.4h0M130.9 702.1h0M48.9 693.4h0M114.7 703.4h0M101.4 705.9h0M130.2 713.9h0M47.1 670.1h0M113.9 706.4h0M80.7 688.3h0M137.9 714.2h0M126.1 708.7h0M49.5 686.1h0M87.6 701.7h0M135.1 707.3h0M93.9 713.9h0" stroke="#695ae2" stroke-width="2.1" stroke-linecap="round" fill="none"/>
<path d="M163.3 703.9h0M52.4 699.9h0M143.7 719.1h0M190.6 709.2h0M82.9 687.7h0M181.6 713.6h0M91.9 711.4h0M125.2 713.6h0M50.7 689.6h0M214.4 776.1h0M198.8 726.7h0M145.5 718.6h0M78.6 689h0M169.2 718.3h0M165.4 704.7h0M83.4 684.2h0M183.8 706.3h0M112 707.3h0M183.3 717.1h0M165.4 713.1h0M79.3 687.8h0M123.7 706.5h0M127.1 715.6h0M130.7 711.8h0M175 712.7h0M49.3 683.1h0M94.7 711.5h0M115.5 705.5h0M166.4 710.4h0M155.2 711.9h0M165 711.7h0M167.8 712.3h0M115.1 706.4h0M132.7 715.2h0M178.4 716.6h0M171.8 701.8h0M176.7 709.7h0M136.9 713.9h0M140.5 713.6h0M185.7 708.2h0M125.9 703h0M127 702h0M92.8 708.5h0M141 720.6h0M150.3 717.7h0M83.3 684h0M140.8 713.4h0M180.5 712.9h0M129.7 707h0M84.4 689h0M156.4 703.1h0M144.3 717.1h0M165.2 709h0M119.4 708.2h0M93 714.8h0M134.9 715.9h0M169.3 721.1h0M174.2 713.1h0M187.7 706.3h0M183.7 711.5h0M84.6 690h0M81.7 685h0M174.6 708.3h0M124.4 706.9h0M80.8 682.2h0M212.9 723.8h0M93.5 704.9h0M45.2 666.5h0M128.1 708.9h0M146.7 708h0M135.5 716.5h0M140.8 720.5h0M135.5 715.9h0M79.9 687h0M48.3 667.7h0M201.2 736.4h0M104.7 706.7h0M162.1 715.4h0" stroke="#337eef" stroke-width="2.1" stroke-linecap="round" fill="none"/>
<path d="M46.9 658.7h0M44.3 661.8h0M90.5 705.2h0M83.7 692.2h0M117.1 711.8h0M94.3 719.1h0M71.3 692.5h0M117.2 707.5h0M56.5 699.1h0M93.7 710.7h0M140 724.6h0M45.2 642.2h0M60.5 700h0M70.1 701.8h0M111.6 703.9h0M56.8 692h0M67.2 699.4h0M53.5 705.3h0M84.5 701.8h0M47.2 657.6h0M113.9 719.9h0M49 678h0M43.9 656.5h0M95 705.4h0M43.4 662.1h0M70.9 698.1h0M60 704.1h0M50.9 689.8h0M98.5 705.4h0M150.1 721.5h0M88.5 703.6h0M105 700.1h0M111.5 704.2h0M46.9 648.9h0M131.1 716.4h0M116.5 711.8h0M62.8 687.5h0M54.2 701h0M46.6 677.9h0M72 698.6h0M45.1 655.8h0M132 715.5h0M130.6 718.1h0M109 707.7h0M57.1 692.7h0M105.2 705.4h0M78.9 694h0M61.2 698.1h0M61.8 698.8h0M44 669.1h0M50 701.9h0M52.8 694.2h0M122 705.3h0M96.8 704.7h0M139 717.9h0M124 706.9h0M76.8 697.4h0M127.9 712.6h0M49.4 669.8h0M118.1 712.9h0M97.8 713.5h0M49.2 697h0M47.5 673.7h0M45.5 646.2h0M68.4 694.4h0M50.1 685.8h0M99.7 707.2h0M53.7 695.9h0M76.1 694h0M109.4 703.5h0M74.9 700.5h0M85.3 695.2h0M46.3 654.5h0M145.9 719h0M47.8 683.1h0M85.4 699.6h0M68.5 702.5h0M55.4 696.9h0M51.2 683.1h0M105.7 707.5h0M132.9 716.5h0M112.8 711.8h0M86.1 698h0M57.6 698.3h0M106.6 701.9h0M86.9 706.1h0M89.8 711.4h0M103.2 708.5h0M131.1 714.6h0M82.5 690.5h0M53.8 699.6h0M48 680.9h0M49.8 698h0" stroke="#a634b9" stroke-width="2.1" stroke-linecap="round" fill="none"/>
<path d="M112.3 713.3h0M50.5 686.9h0M73.2 703.8h0M89.1 708.8h0M83.2 692.3h0M44.7 671.9h0M47.4 662.9h0M46.7 677.7h0M78.1 694.7h0M55.4 701.2h0M51.9 705h0M49.1 683.6h0M94.4 712.2h0M63.3 703.1h0M54.1 695h0M49 671h0M46.1 667.3h0M51.8 682.9h0M50.1 681.3h0M46.2 649h0M47.2 678.3h0M47.6 662.1h0M49.1 675.7h0M47.4 662h0M80.1 690.1h0M81.2 690.4h0M62.8 698.3h0M43.2 659.6h0M48.5 665.9h0M47.8 656.3h0M53.8 683.5h0M55.5 699.8h0M45.2 663.1h0M51.6 693.5h0M97.6 705.8h0M49.9 682.3h0M50.7 692.9h0M43.7 654.5h0M97 712.3h0M43.6 667.3h0M49.6 694.3h0M86.8 700.8h0M49.5 690.8h0M47.5 645.6h0M64.3 695.1h0M44.3 643.2h0M49 678.4h0M45.5 640.8h0M53.7 694.2h0M47.2 668.6h0M53.8 692.5h0M100 709.8h0M57.5 687.7h0M43.1 661.1h0M46.2 662.8h0M56.5 701.2h0M44.7 664.7h0M48.3 692.8h0M52.6 678.2h0M73.7 698.9h0M77.8 689.3h0M65.4 700.6h0M47.4 656.2h0M62.8 698h0M48.9 693.1h0M46.6 676.8h0M48.2 666.4h0M43.6 665.3h0M53.5 679.8h0M44.4 672.1h0M62.2 701.6h0M55.1 701.6h0M44.7 642.1h0M69.1 700.9h0M89.4 706.5h0M53.6 704.1h0" stroke="#dd1e7c" stroke-width="2.1" stroke-linecap="round" fill="none"/>
<path d="M45 661.1h0M80.8 690.5h0M48.1 676.9h0M50.2 698.6h0M48.4 668.5h0M101.9 712.5h0M45.7 670.2h0M50.9 692.9h0M82.9 688.8h0M125.9 716.4h0M49.8 696.5h0M83.7 695.3h0M47.4 675.8h0M119.5 710.4h0M98 706.9h0M45.9 677.7h0M98.9 711.5h0M56.2 696.9h0M99.2 710.7h0M46.9 649.9h0M103.5 703.8h0M128.5 714.5h0M46.8 667.3h0M94.4 704.1h0M121.2 716.6h0M47.1 680.1h0M90.3 700.7h0M44.5 654.6h0M84.8 699.7h0M113 713.6h0M113.8 706.3h0M45.3 672.1h0M55.4 701.1h0M47.3 680.2h0M58.5 700.5h0M68.3 694.7h0M47.5 654.9h0M162 722h0M46.2 676.9h0M48.7 676.7h0M119.7 704.5h0M56.8 692.8h0M98.2 706h0M45.5 677h0M88.1 705.9h0M99 713.2h0M108.6 706.4h0M44.6 652.1h0M57.2 701.4h0M127.4 713.5h0M75.5 699.9h0M45.1 659.5h0M44.1 659.5h0M89.4 711.7h0M96.7 713h0M112.5 708.6h0M51.8 693.7h0M98.7 707.9h0M93.7 709.1h0M64.9 689.7h0M44.9 641.6h0M57.4 704.8h0M49 682.4h0M45 649.2h0M88.8 709.1h0M103.7 710.5h0M46.4 648.4h0M97.6 709.7h0M103.4 708.9h0M51.6 696.9h0M97.9 703h0M47.1 660.6h0" stroke="#c7269b" stroke-width="2.1" stroke-linecap="round" fill="none"/>
<path d="M124.6 711.9h0M186.7 703.4h0M91.5 710.7h0M83.3 698.4h0M88.4 700.5h0M133.2 718.7h0M136.4 716.9h0M92.8 710.3h0M50.2 697.5h0M125.5 703.3h0M113.3 710.5h0M79.6 696.7h0M128.8 706.1h0M45 666.4h0M126.7 707.8h0M133 712.6h0M58.7 702.6h0M119.8 706.9h0M135.4 710.3h0M91.4 705.5h0M83.1 687.7h0M109.6 709h0M139.8 719.6h0M113 702.5h0M161 708.6h0M52.6 703h0M111.4 702.3h0M45 674.2h0M141.8 717.2h0M128.1 703.6h0M117.9 710.1h0M78.1 690.8h0M109 709.9h0M180.7 721.8h0M44 667.7h0M48.4 678.7h0M88.2 707.5h0M49 663.5h0M111.6 712.7h0M161 718.7h0M47.6 685h0M214.3 769.8h0M130 705.1h0M78.5 689.5h0M103 698.6h0M63.1 692.3h0M141.9 719.6h0M141.3 724.5h0M96.7 703.9h0M91.6 708.6h0M53.5 705.4h0M135.6 718.8h0M182.8 731.5h0M130.2 710.4h0M157.4 704.6h0M174.2 714h0M152 726.5h0M96.4 709.3h0M137.6 716.7h0M97 710.5h0M158.5 714.1h0M49.5 703h0M183.1 713.3h0M65.3 701.7h0M92.6 710.5h0M148.6 720.2h0M46.4 655h0M134.5 708.9h0M95.5 731h0M178.8 715h0M155.3 704.7h0M125.8 712.9h0M136.3 713h0M114.2 709h0M87.1 697.1h0M142 726.8h0M151.3 704.3h0M173.4 719.5h0M103.5 699.2h0M132.6 709h0M139.6 724.1h0M84.6 697.5h0M184.9 699.5h0M159.4 724h0M54.1 698.7h0M99 703.9h0M63.3 701.6h0M119 706.8h0M139.3 713.2h0M143.5 717.7h0" stroke="#4d6cec" stroke-width="2.1" stroke-linecap="round" fill="none"/>
<path d="M34.3 626.6V783.8" stroke="#747474" stroke-width="1.4" fill="none"/>
<path d="M33.6 783.5H223" stroke="#7c7c7c" stroke-width="1.3" fill="none"/>
<path d="M41.0 783.6v1.9M63.6 783.6v1.9M86.3 783.6v1.9M108.9 783.6v1.9M131.5 783.6v1.9M154.2 783.6v1.9M176.8 783.6v1.9M199.4 783.6v1.9M222.0 783.6v1.9M34.3 646.4h-2.2M34.3 674.2h-2.2M34.3 701.9h-2.2M34.3 729.5h-2.2M34.3 757.2h-2.2" stroke="#747474" stroke-width=".55" fill="none"/>
<g font-size="6.5" fill="#333333">
<g text-anchor="middle">
<text x="41.0" y="791.9">0</text>
<text x="63.6" y="791.9">100</text>
<text x="86.3" y="791.9">200</text>
<text x="108.9" y="791.9">300</text>
<text x="131.5" y="791.9">400</text>
<text x="154.2" y="791.9">500</text>
<text x="176.8" y="791.9">600</text>
<text x="199.4" y="791.9">700</text>
<text x="222.0" y="791.9">800</text>
</g><g text-anchor="end">
<text x="30.1" y="648.7">0.2</text>
<text x="30.1" y="676.5">0.1</text>
<text x="30.1" y="704.2">0.0</text>
<text x="30.1" y="731.8">-0.1</text>
<text x="30.1" y="759.5">-0.2</text>
</g></g>
<g font-size="7.5" fill="#2a2a2a" text-anchor="middle">
<text x="128.7" y="800.6" font-size="7.5">DOL</text>
<text transform="translate(9.3 705.1) rotate(-90)">SHAP value for</text>
<text transform="translate(16.9 705.1) rotate(-90)">DOL</text>
</g>
<rect x="235" y="626" width="2.1" height="157.0" fill="url(#cb)"/>
<path d="M237.1 637.6h1.5M237.1 669.5h1.5M237.1 701.3h1.5M237.1 733.0h1.5M237.1 764.8h1.5" stroke="#747474" stroke-width=".5"/>
<g font-size="6.0" fill="#4a4a4a">
<text x="240.9" y="639.6">50</text>
<text x="240.9" y="671.5">40</text>
<text x="240.9" y="703.3">30</text>
<text x="240.9" y="735.0">20</text>
<text x="240.9" y="766.8">10</text>
</g>
<text font-size="6.9" fill="#2a2a2a" text-anchor="middle" transform="translate(254.3 705.2) rotate(-90)">MY</text>
<rect x="323.0" y="628" width="187.8" height="155.4" fill="#e5e5e5"/>
<path d="M331.5 628V783.4M365.6 628V783.4M399.7 628V783.4M433.9 628V783.4M468.0 628V783.4M502.1 628V783.4M323.0 645.7H510.8M323.0 668.1H510.8M323.0 690.6H510.8M323.0 713.0H510.8M323.0 735.4H510.8M323.0 757.9H510.8M323.0 780.3H510.8" stroke="#fff" stroke-opacity="0.72" stroke-width=".8" fill="none"/>
<path d="M331.6 714.9h0" stroke="#e91e5a" stroke-width="2.7" stroke-linecap="round"/>
<path d="M331.6 715.8h0" stroke="#d71e8c" stroke-width="2.7" stroke-linecap="round"/>
<path d="M331.6 716.7h0" stroke="#e01e73" stroke-width="2.7" stroke-linecap="round"/>
<path d="M331.6 717.6h0" stroke="#e01e73" stroke-width="2.7" stroke-linecap="round"/>
<path d="M331.6 718.5h0" stroke="#eb1e55" stroke-width="2.7" stroke-linecap="round"/>
<path d="M331.6 719.4h0" stroke="#dc1e80" stroke-width="2.7" stroke-linecap="round"/>
<path d="M331.6 720.3h0" stroke="#e51e67" stroke-width="2.7" stroke-linecap="round"/>
<path d="M331.6 721.2h0" stroke="#e91e5a" stroke-width="2.7" stroke-linecap="round"/>
<path d="M331.6 722.1h0" stroke="#e91e5a" stroke-width="2.7" stroke-linecap="round"/>
<path d="M331.6 723.0h0" stroke="#e01e73" stroke-width="2.7" stroke-linecap="round"/>
<path d="M331.6 723.9h0" stroke="#e01e73" stroke-width="2.7" stroke-linecap="round"/>
<path d="M331.6 724.8h0" stroke="#e91e5a" stroke-width="2.7" stroke-linecap="round"/>
<path d="M331.6 725.7h0" stroke="#e91e5a" stroke-width="2.7" stroke-linecap="round"/>
<path d="M331.6 726.6h0" stroke="#e51e67" stroke-width="2.7" stroke-linecap="round"/>
<path d="M331.6 727.5h0" stroke="#eb1e55" stroke-width="2.7" stroke-linecap="round"/>
<path d="M331.6 728.4h0" stroke="#eb1e55" stroke-width="2.7" stroke-linecap="round"/>
<path d="M331.6 729.3h0" stroke="#eb1e55" stroke-width="2.7" stroke-linecap="round"/>
<path d="M331.6 730.2h0" stroke="#dc1e80" stroke-width="2.7" stroke-linecap="round"/>
<path d="M331.6 731.1h0" stroke="#e51e67" stroke-width="2.7" stroke-linecap="round"/>
<path d="M331.6 732.0h0" stroke="#dc1e80" stroke-width="2.7" stroke-linecap="round"/>
<path d="M331.6 732.9h0" stroke="#e51e67" stroke-width="2.7" stroke-linecap="round"/>
<path d="M331.6 733.8h0" stroke="#d71e8c" stroke-width="2.7" stroke-linecap="round"/>
<path d="M331.6 734.7h0" stroke="#e91e5a" stroke-width="2.7" stroke-linecap="round"/>
<path d="M331.6 735.6h0" stroke="#e51e67" stroke-width="2.7" stroke-linecap="round"/>
<path d="M331.6 736.5h0" stroke="#e51e67" stroke-width="2.7" stroke-linecap="round"/>
<path d="M331.6 736.7h0" stroke="#e51e67" stroke-width="2.7" stroke-linecap="round"/>
<path d="M331.6 737.6h0" stroke="#eb1e55" stroke-width="2.7" stroke-linecap="round"/>
<path d="M331.6 738.5h0" stroke="#7e4cd6" stroke-width="2.7" stroke-linecap="round"/>
<path d="M331.6 739.4h0" stroke="#eb1e55" stroke-width="2.7" stroke-linecap="round"/>
<path d="M331.6 740.3h0" stroke="#7e4cd6" stroke-width="2.7" stroke-linecap="round"/>
<path d="M331.6 741.2h0" stroke="#e91e5a" stroke-width="2.7" stroke-linecap="round"/>
<path d="M331.6 742.1h0" stroke="#8a44cf" stroke-width="2.7" stroke-linecap="round"/>
<path d="M331.6 743.0h0" stroke="#963cc8" stroke-width="2.7" stroke-linecap="round"/>
<path d="M331.6 743.9h0" stroke="#eb1e55" stroke-width="2.7" stroke-linecap="round"/>
<path d="M331.6 744.8h0" stroke="#e01e73" stroke-width="2.7" stroke-linecap="round"/>
<path d="M331.6 745.7h0" stroke="#eb1e55" stroke-width="2.7" stroke-linecap="round"/>
<path d="M331.6 746.0h0" stroke="#5a64eb" stroke-width="2.7" stroke-linecap="round"/>
<path d="M331.6 746.9h0" stroke="#7e4cd6" stroke-width="2.7" stroke-linecap="round"/>
<path d="M331.6 747.8h0" stroke="#2e81ef" stroke-width="2.7" stroke-linecap="round"/>
<path d="M331.6 748.7h0" stroke="#8a44cf" stroke-width="2.7" stroke-linecap="round"/>
<path d="M331.6 749.6h0" stroke="#7e4cd6" stroke-width="2.7" stroke-linecap="round"/>
<path d="M331.6 750.5h0" stroke="#3b78ee" stroke-width="2.7" stroke-linecap="round"/>
<path d="M331.6 751.4h0" stroke="#3f76ee" stroke-width="2.7" stroke-linecap="round"/>
<path d="M331.6 752.0h0" stroke="#377bee" stroke-width="2.7" stroke-linecap="round"/>
<path d="M331.6 752.9h0" stroke="#3f76ee" stroke-width="2.7" stroke-linecap="round"/>
<path d="M331.6 753.8h0" stroke="#3f76ee" stroke-width="2.7" stroke-linecap="round"/>
<path d="M331.6 754.7h0" stroke="#377bee" stroke-width="2.7" stroke-linecap="round"/>
<path d="M331.6 755.6h0" stroke="#377bee" stroke-width="2.7" stroke-linecap="round"/>
<path d="M331.6 756.5h0" stroke="#3f76ee" stroke-width="2.7" stroke-linecap="round"/>
<path d="M331.6 757.4h0" stroke="#377bee" stroke-width="2.7" stroke-linecap="round"/>
<path d="M331.6 758.3h0" stroke="#377bee" stroke-width="2.7" stroke-linecap="round"/>
<path d="M331.6 759.2h0" stroke="#3f76ee" stroke-width="2.7" stroke-linecap="round"/>
<path d="M331.6 760.1h0" stroke="#327eef" stroke-width="2.7" stroke-linecap="round"/>
<path d="M331.6 761.0h0" stroke="#377bee" stroke-width="2.7" stroke-linecap="round"/>
<path d="M331.6 761.9h0" stroke="#2e81ef" stroke-width="2.7" stroke-linecap="round"/>
<path d="M331.6 762.8h0" stroke="#506bec" stroke-width="2.7" stroke-linecap="round"/>
<path d="M331.6 763.7h0" stroke="#3f76ee" stroke-width="2.7" stroke-linecap="round"/>
<path d="M331.6 764.6h0" stroke="#2e81ef" stroke-width="2.7" stroke-linecap="round"/>
<path d="M331.6 766.6h0" stroke="#cf2293" stroke-width="2.7" stroke-linecap="round"/>
<path d="M331.6 713.0h0" stroke="#665ce4" stroke-width="2.7" stroke-linecap="round"/>
<path d="M331.6 726.1h0" stroke="#3b78ee" stroke-width="2.7" stroke-linecap="round"/>
<path d="M331.6 770.5h0" stroke="#3b78ee" stroke-width="2.7" stroke-linecap="round"/>
<path d="M331.6 776.3h0" stroke="#4572ed" stroke-width="2.7" stroke-linecap="round"/>
<path d="M502.1 634.0h0" stroke="#2e81ef" stroke-width="2.7" stroke-linecap="round"/>
<path d="M502.1 634.9h0" stroke="#3b78ee" stroke-width="2.7" stroke-linecap="round"/>
<path d="M502.1 635.8h0" stroke="#377bee" stroke-width="2.7" stroke-linecap="round"/>
<path d="M502.1 636.7h0" stroke="#3b78ee" stroke-width="2.7" stroke-linecap="round"/>
<path d="M502.1 637.6h0" stroke="#3f76ee" stroke-width="2.7" stroke-linecap="round"/>
<path d="M502.1 638.5h0" stroke="#2e81ef" stroke-width="2.7" stroke-linecap="round"/>
<path d="M502.1 639.4h0" stroke="#3b78ee" stroke-width="2.7" stroke-linecap="round"/>
<path d="M502.1 640.3h0" stroke="#2e81ef" stroke-width="2.7" stroke-linecap="round"/>
<path d="M502.1 641.2h0" stroke="#3b78ee" stroke-width="2.7" stroke-linecap="round"/>
<path d="M502.1 644.0h0" stroke="#4572ed" stroke-width="2.7" stroke-linecap="round"/>
<path d="M502.1 644.9h0" stroke="#3f76ee" stroke-width="2.7" stroke-linecap="round"/>
<path d="M502.1 645.8h0" stroke="#327eef" stroke-width="2.7" stroke-linecap="round"/>
<path d="M502.1 646.7h0" stroke="#2e81ef" stroke-width="2.7" stroke-linecap="round"/>
<path d="M502.1 647.6h0" stroke="#2e81ef" stroke-width="2.7" stroke-linecap="round"/>
<path d="M502.1 648.5h0" stroke="#3f76ee" stroke-width="2.7" stroke-linecap="round"/>
<path d="M502.1 649.4h0" stroke="#327eef" stroke-width="2.7" stroke-linecap="round"/>
<path d="M502.1 650.3h0" stroke="#377bee" stroke-width="2.7" stroke-linecap="round"/>
<path d="M502.1 651.2h0" stroke="#327eef" stroke-width="2.7" stroke-linecap="round"/>
<path d="M502.1 652.1h0" stroke="#2e81ef" stroke-width="2.7" stroke-linecap="round"/>
<path d="M502.1 653.0h0" stroke="#377bee" stroke-width="2.7" stroke-linecap="round"/>
<path d="M502.1 653.9h0" stroke="#3b78ee" stroke-width="2.7" stroke-linecap="round"/>
<path d="M502.1 654.8h0" stroke="#327eef" stroke-width="2.7" stroke-linecap="round"/>
<path d="M502.1 655.7h0" stroke="#3b78ee" stroke-width="2.7" stroke-linecap="round"/>
<path d="M502.1 656.6h0" stroke="#3b78ee" stroke-width="2.7" stroke-linecap="round"/>
<path d="M502.1 657.5h0" stroke="#327eef" stroke-width="2.7" stroke-linecap="round"/>
<path d="M502.1 658.4h0" stroke="#377bee" stroke-width="2.7" stroke-linecap="round"/>
<path d="M502.1 659.3h0" stroke="#327eef" stroke-width="2.7" stroke-linecap="round"/>
<path d="M502.1 660.2h0" stroke="#4572ed" stroke-width="2.7" stroke-linecap="round"/>
<path d="M502.1 661.0h0" stroke="#dc1e80" stroke-width="2.7" stroke-linecap="round"/>
<path d="M502.1 661.9h0" stroke="#ca2498" stroke-width="2.7" stroke-linecap="round"/>
<path d="M502.1 662.8h0" stroke="#a336bc" stroke-width="2.7" stroke-linecap="round"/>
<path d="M502.1 663.7h0" stroke="#a336bc" stroke-width="2.7" stroke-linecap="round"/>
<path d="M502.1 664.6h0" stroke="#d71e8c" stroke-width="2.7" stroke-linecap="round"/>
<path d="M502.1 665.5h0" stroke="#a336bc" stroke-width="2.7" stroke-linecap="round"/>
<path d="M502.1 666.4h0" stroke="#963cc8" stroke-width="2.7" stroke-linecap="round"/>
<path d="M502.1 667.3h0" stroke="#665ce4" stroke-width="2.7" stroke-linecap="round"/>
<path d="M502.1 668.2h0" stroke="#e01e73" stroke-width="2.7" stroke-linecap="round"/>
<path d="M502.1 669.1h0" stroke="#dc1e80" stroke-width="2.7" stroke-linecap="round"/>
<path d="M502.1 670.0h0" stroke="#d71e8c" stroke-width="2.7" stroke-linecap="round"/>
<path d="M502.1 670.9h0" stroke="#a336bc" stroke-width="2.7" stroke-linecap="round"/>
<path d="M502.1 671.8h0" stroke="#e01e73" stroke-width="2.7" stroke-linecap="round"/>
<path d="M502.1 672.7h0" stroke="#ca2498" stroke-width="2.7" stroke-linecap="round"/>
<path d="M502.1 673.6h0" stroke="#a336bc" stroke-width="2.7" stroke-linecap="round"/>
<path d="M502.1 674.5h0" stroke="#7e4cd6" stroke-width="2.7" stroke-linecap="round"/>
<path d="M502.1 675.0h0" stroke="#8a44cf" stroke-width="2.7" stroke-linecap="round"/>
<path d="M502.1 675.9h0" stroke="#eb1e55" stroke-width="2.7" stroke-linecap="round"/>
<path d="M502.1 676.8h0" stroke="#dc1e80" stroke-width="2.7" stroke-linecap="round"/>
<path d="M502.1 677.7h0" stroke="#a336bc" stroke-width="2.7" stroke-linecap="round"/>
<path d="M502.1 678.6h0" stroke="#e91e5a" stroke-width="2.7" stroke-linecap="round"/>
<path d="M502.1 679.5h0" stroke="#ca2498" stroke-width="2.7" stroke-linecap="round"/>
<path d="M502.1 680.4h0" stroke="#963cc8" stroke-width="2.7" stroke-linecap="round"/>
<path d="M502.1 681.3h0" stroke="#eb1e55" stroke-width="2.7" stroke-linecap="round"/>
<path d="M502.1 682.2h0" stroke="#e51e67" stroke-width="2.7" stroke-linecap="round"/>
<path d="M502.1 683.1h0" stroke="#963cc8" stroke-width="2.7" stroke-linecap="round"/>
<path d="M502.1 684.0h0" stroke="#e01e73" stroke-width="2.7" stroke-linecap="round"/>
<path d="M502.1 684.9h0" stroke="#e91e5a" stroke-width="2.7" stroke-linecap="round"/>
<path d="M502.1 685.8h0" stroke="#ca2498" stroke-width="2.7" stroke-linecap="round"/>
<path d="M502.1 686.7h0" stroke="#963cc8" stroke-width="2.7" stroke-linecap="round"/>
<path d="M502.1 687.6h0" stroke="#e91e5a" stroke-width="2.7" stroke-linecap="round"/>
<path d="M502.1 688.5h0" stroke="#e01e73" stroke-width="2.7" stroke-linecap="round"/>
<path d="M502.1 689.0h0" stroke="#e01e73" stroke-width="2.7" stroke-linecap="round"/>
<path d="M502.1 689.9h0" stroke="#ca2498" stroke-width="2.7" stroke-linecap="round"/>
<path d="M502.1 690.8h0" stroke="#e91e5a" stroke-width="2.7" stroke-linecap="round"/>
<path d="M502.1 691.7h0" stroke="#e91e5a" stroke-width="2.7" stroke-linecap="round"/>
<path d="M502.1 692.6h0" stroke="#e01e73" stroke-width="2.7" stroke-linecap="round"/>
<path d="M502.1 693.5h0" stroke="#e01e73" stroke-width="2.7" stroke-linecap="round"/>
<path d="M502.1 694.4h0" stroke="#eb1e55" stroke-width="2.7" stroke-linecap="round"/>
<path d="M502.1 695.3h0" stroke="#eb1e55" stroke-width="2.7" stroke-linecap="round"/>
<path d="M502.1 696.2h0" stroke="#e51e67" stroke-width="2.7" stroke-linecap="round"/>
<path d="M502.1 697.1h0" stroke="#e01e73" stroke-width="2.7" stroke-linecap="round"/>
<path d="M502.1 698.0h0" stroke="#d71e8c" stroke-width="2.7" stroke-linecap="round"/>
<path d="M502.1 698.9h0" stroke="#eb1e55" stroke-width="2.7" stroke-linecap="round"/>
<path d="M502.1 699.8h0" stroke="#e51e67" stroke-width="2.7" stroke-linecap="round"/>
<path d="M502.1 700.7h0" stroke="#e01e73" stroke-width="2.7" stroke-linecap="round"/>
<path d="M502.1 701.6h0" stroke="#eb1e55" stroke-width="2.7" stroke-linecap="round"/>
<path d="M502.1 702.5h0" stroke="#e51e67" stroke-width="2.7" stroke-linecap="round"/>
<path d="M502.1 703.4h0" stroke="#e51e67" stroke-width="2.7" stroke-linecap="round"/>
<path d="M502.1 704.3h0" stroke="#e01e73" stroke-width="2.7" stroke-linecap="round"/>
<path d="M502.1 705.2h0" stroke="#963cc8" stroke-width="2.7" stroke-linecap="round"/>
<path d="M502.1 709.6h0" stroke="#e91e5a" stroke-width="2.7" stroke-linecap="round"/>
<path d="M502.1 711.2h0" stroke="#e91e5a" stroke-width="2.7" stroke-linecap="round"/>
<path d="M323.0 628V784.1" stroke="#747474" stroke-width="1.4" fill="none"/>
<path d="M322.3 783.8H510.8" stroke="#7c7c7c" stroke-width="1.3" fill="none"/>
<path d="M331.5 783.9v1.9M365.6 783.9v1.9M399.7 783.9v1.9M433.9 783.9v1.9M468.0 783.9v1.9M502.1 783.9v1.9M323.0 645.7h-2.2M323.0 668.1h-2.2M323.0 690.6h-2.2M323.0 713.0h-2.2M323.0 735.4h-2.2M323.0 757.9h-2.2M323.0 780.3h-2.2" stroke="#747474" stroke-width=".55" fill="none"/>
<g font-size="6.1" fill="#333333">
<g text-anchor="middle">
<text x="331.5" y="791.8">0.0</text>
<text x="365.6" y="791.8">0.2</text>
<text x="399.7" y="791.8">0.4</text>
<text x="433.9" y="791.8">0.6</text>
<text x="468.0" y="791.8">0.8</text>
<text x="502.1" y="791.8">1.0</text>
</g><g text-anchor="end">
<text x="318.8" y="648.0">0.06</text>
<text x="318.8" y="670.4">0.04</text>
<text x="318.8" y="692.9">0.02</text>
<text x="318.8" y="715.3">0.00</text>
<text x="318.8" y="737.7">-0.02</text>
<text x="318.8" y="760.2">-0.04</text>
<text x="318.8" y="782.6">-0.06</text>
</g></g>
<g font-size="7.5" fill="#2a2a2a" text-anchor="middle">
<text x="416.9" y="800.8" font-size="7.3">BP</text>
<text transform="translate(295.4 705.7) rotate(-90)">SHAP value for</text>
<text transform="translate(302.8 705.7) rotate(-90)">BP</text>
</g>
<rect x="522.3" y="627.4" width="2.1" height="155.4" fill="url(#cb)"/>
<path d="M524.4 629.9h1.5M524.4 656.1h1.5M524.4 682.3h1.5M524.4 708.4h1.5M524.4 734.4h1.5M524.4 760.5h1.5" stroke="#747474" stroke-width=".5"/>
<g font-size="6.0" fill="#4a4a4a">
<text x="528.4" y="631.9">37</text>
<text x="528.4" y="658.1">36</text>
<text x="528.4" y="684.3">35</text>
<text x="528.4" y="710.4">34</text>
<text x="528.4" y="736.4">33</text>
<text x="528.4" y="762.5">32</text>
</g>
<text font-size="7.1" fill="#2a2a2a" text-anchor="middle" transform="translate(542.2 705.3) rotate(-90)">IRTave_TK</text>
<text x="94.4" y="198.2" font-size="12.4" fill="#1c1c1c" textLength="78.1" lengthAdjust="spacingAndGlyphs" style="white-space:pre">(<tspan font-weight="bold">a</tspan>) IRTave_TK</text>
<text x="398.0" y="197.3" font-size="14.6" fill="#1c1c1c" textLength="40.4" lengthAdjust="spacingAndGlyphs" style="white-space:pre">(<tspan font-weight="bold">b</tspan>) TZ</text>
<text x="111.8" y="406.1" font-size="12.4" fill="#1c1c1c" textLength="43.7" lengthAdjust="spacingAndGlyphs" style="white-space:pre">(<tspan font-weight="bold">c</tspan>) DOL</text>
<text x="398.0" y="406" font-size="14.4" fill="#1c1c1c" textLength="38.0" lengthAdjust="spacingAndGlyphs" style="white-space:pre">(<tspan font-weight="bold">d</tspan>) BP</text>
<text x="44.8" y="613.6" font-size="12.4" fill="#1c1c1c" textLength="178.4" lengthAdjust="spacingAndGlyphs" style="white-space:pre">(<tspan font-weight="bold">e</tspan>) IRTave_TK interacted with BP</text>
<text x="328.4" y="613.2" font-size="12.4" fill="#1c1c1c" textLength="178.8" lengthAdjust="spacingAndGlyphs" style="white-space:pre">(<tspan font-weight="bold">f</tspan>) TZ <tspan font-size="11.0">interacted with </tspan>IRTave_TK</text>
<text x="58.8" y="821.6" font-size="12.4" fill="#1c1c1c" textLength="148.4" lengthAdjust="spacingAndGlyphs" style="white-space:pre">(<tspan font-weight="bold">g</tspan>) DOL interacted with MY</text>
<text x="325.6" y="821.2" font-size="12.4" fill="#1c1c1c" textLength="182.8" lengthAdjust="spacingAndGlyphs" style="white-space:pre">(<tspan font-weight="bold">h</tspan>) BP <tspan font-size="11.2">interacted with </tspan>IRTave_TK</text>
</svg>
</body></html>
